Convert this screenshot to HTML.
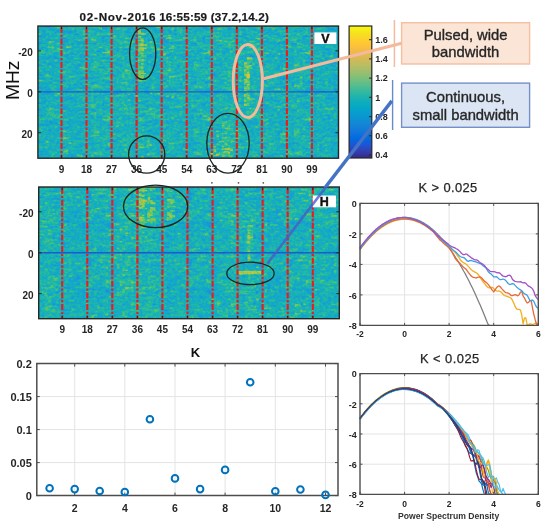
<!DOCTYPE html><html><head><meta charset="utf-8"><style>html,body{margin:0;padding:0;background:#fff;}svg{display:block;}text{font-family:"Liberation Sans",Arial,sans-serif;}</style></head><body>
<svg width="550" height="529" viewBox="0 0 550 529">
<defs>
<linearGradient id="cbar" x1="0" y1="0" x2="0" y2="1"><stop offset="0.0000" stop-color="#f9fb0e"/><stop offset="0.0476" stop-color="#f5e41d"/><stop offset="0.0952" stop-color="#fad32a"/><stop offset="0.1429" stop-color="#ffc337"/><stop offset="0.1905" stop-color="#f1b94a"/><stop offset="0.2381" stop-color="#d9ba56"/><stop offset="0.2857" stop-color="#c0bc60"/><stop offset="0.3333" stop-color="#a5be6b"/><stop offset="0.3810" stop-color="#87bf77"/><stop offset="0.4286" stop-color="#65be86"/><stop offset="0.4762" stop-color="#42bb98"/><stop offset="0.5238" stop-color="#25b5a9"/><stop offset="0.5714" stop-color="#0faeb9"/><stop offset="0.6190" stop-color="#06a7c6"/><stop offset="0.6667" stop-color="#079ccf"/><stop offset="0.7143" stop-color="#108ed2"/><stop offset="0.7619" stop-color="#1481d6"/><stop offset="0.8095" stop-color="#0d75dc"/><stop offset="0.8571" stop-color="#0268e1"/><stop offset="0.9048" stop-color="#2053d4"/><stop offset="0.9524" stop-color="#353dad"/><stop offset="1.0000" stop-color="#352a87"/><stop offset="1" stop-color="#352a87"/></linearGradient>
<filter id="specA" x="0" y="0" width="1" height="1" filterUnits="objectBoundingBox" color-interpolation-filters="sRGB">
<feTurbulence type="fractalNoise" baseFrequency="0.35 0.45" numOctaves="2" seed="11" result="n"/>
<feColorMatrix in="n" type="matrix" values="1 0 0 0 0 1 0 0 0 0 1 0 0 0 0 0 0 0 0 1" result="ng"/>
<feComposite in="SourceGraphic" in2="ng" operator="arithmetic" k1="0" k2="1" k3="0.2" k4="-0.1" result="v"/>
<feGaussianBlur in="v" stdDeviation="0.45 0.45" result="vb"/><feComponentTransfer in="vb"><feFuncR type="table" tableValues="45.000 0.176 0.175 0.173 0.172 0.170 0.169 0.167 0.165 0.164 0.162 0.161 0.159 0.158 0.154 0.149 0.143 0.137 0.131 0.126 0.120 0.114 0.108 0.103 0.097 0.092 0.086 0.081 0.080 0.082 0.084 0.086 0.099 0.116 0.132 0.170 0.220 0.270 0.336 0.417 0.498 0.568 0.622 0.675 0.729 0.782 0.814 0.845 0.876 0.907 0.939 0.970 0.980 0.980 0.980 0.980 0.980 0.980 0.980 0.980 0.980 0.980 0.980 0.980"/><feFuncG type="table" tableValues="40.000 0.158 0.177 0.195 0.214 0.233 0.251 0.270 0.289 0.307 0.326 0.345 0.363 0.382 0.400 0.417 0.433 0.450 0.467 0.484 0.500 0.517 0.534 0.551 0.569 0.586 0.603 0.620 0.637 0.652 0.668 0.683 0.698 0.713 0.728 0.741 0.752 0.763 0.770 0.772 0.775 0.775 0.773 0.770 0.767 0.765 0.768 0.771 0.774 0.777 0.780 0.783 0.791 0.802 0.813 0.824 0.835 0.846 0.857 0.868 0.879 0.889 0.900 0.911"/><feFuncB type="table" tableValues="150.000 0.589 0.610 0.630 0.650 0.670 0.690 0.711 0.731 0.751 0.771 0.792 0.812 0.832 0.845 0.850 0.855 0.860 0.864 0.869 0.874 0.879 0.880 0.871 0.862 0.853 0.844 0.835 0.818 0.795 0.772 0.749 0.715 0.677 0.640 0.594 0.545 0.495 0.448 0.405 0.361 0.325 0.303 0.281 0.259 0.236 0.223 0.211 0.199 0.186 0.174 0.161 0.153 0.147 0.140 0.134 0.128 0.122 0.115 0.109 0.103 0.097 0.091 0.084"/><feFuncA type="linear" slope="0" intercept="1"/></feComponentTransfer>
</filter>
<filter id="specB" x="0" y="0" width="1" height="1" filterUnits="objectBoundingBox" color-interpolation-filters="sRGB">
<feTurbulence type="fractalNoise" baseFrequency="0.35 0.45" numOctaves="2" seed="29" result="n"/>
<feColorMatrix in="n" type="matrix" values="1 0 0 0 0 1 0 0 0 0 1 0 0 0 0 0 0 0 0 1" result="ng"/>
<feComposite in="SourceGraphic" in2="ng" operator="arithmetic" k1="0" k2="1" k3="0.2" k4="-0.1" result="v"/>
<feGaussianBlur in="v" stdDeviation="0.45 0.45" result="vb"/><feComponentTransfer in="vb"><feFuncR type="table" tableValues="45.000 0.176 0.175 0.173 0.172 0.170 0.169 0.167 0.165 0.164 0.162 0.161 0.159 0.158 0.154 0.149 0.143 0.137 0.131 0.126 0.120 0.114 0.108 0.103 0.097 0.092 0.086 0.081 0.080 0.082 0.084 0.086 0.099 0.116 0.132 0.170 0.220 0.270 0.336 0.417 0.498 0.568 0.622 0.675 0.729 0.782 0.814 0.845 0.876 0.907 0.939 0.970 0.980 0.980 0.980 0.980 0.980 0.980 0.980 0.980 0.980 0.980 0.980 0.980"/><feFuncG type="table" tableValues="40.000 0.158 0.177 0.195 0.214 0.233 0.251 0.270 0.289 0.307 0.326 0.345 0.363 0.382 0.400 0.417 0.433 0.450 0.467 0.484 0.500 0.517 0.534 0.551 0.569 0.586 0.603 0.620 0.637 0.652 0.668 0.683 0.698 0.713 0.728 0.741 0.752 0.763 0.770 0.772 0.775 0.775 0.773 0.770 0.767 0.765 0.768 0.771 0.774 0.777 0.780 0.783 0.791 0.802 0.813 0.824 0.835 0.846 0.857 0.868 0.879 0.889 0.900 0.911"/><feFuncB type="table" tableValues="150.000 0.589 0.610 0.630 0.650 0.670 0.690 0.711 0.731 0.751 0.771 0.792 0.812 0.832 0.845 0.850 0.855 0.860 0.864 0.869 0.874 0.879 0.880 0.871 0.862 0.853 0.844 0.835 0.818 0.795 0.772 0.749 0.715 0.677 0.640 0.594 0.545 0.495 0.448 0.405 0.361 0.325 0.303 0.281 0.259 0.236 0.223 0.211 0.199 0.186 0.174 0.161 0.153 0.147 0.140 0.134 0.128 0.122 0.115 0.109 0.103 0.097 0.091 0.084"/><feFuncA type="linear" slope="0" intercept="1"/></feComponentTransfer>
</filter>
<filter id="soft" x="-20%" y="-20%" width="140%" height="140%"><feGaussianBlur stdDeviation="0.6"/></filter>
</defs>
<rect width="550" height="529" fill="#fff"/>
<clipPath id="clipspecA"><rect x="37.9" y="26.05" width="300.6" height="132.14999999999998"/></clipPath>
<defs><pattern id="patspecA" patternUnits="userSpaceOnUse" x="37.9" y="26.05" width="100.260" height="66.600">
<rect width="100.260" height="66.600" fill="#808080"/>
<path fill="#505050" d="M72.4 48.10h5.6v1.85h-5.6z"/>
<path fill="#585858" d="M36.2 7.40h2.8v1.85h-2.8zM52.9 16.65h5.6v1.85h-5.6zM94.7 38.85h2.8v1.85h-2.8zM66.8 55.50h5.6v1.85h-5.6z"/>
<path fill="#606060" d="M75.2 0.00h2.8v1.85h-2.8zM78.0 0.00h2.8v1.85h-2.8zM89.1 1.85h5.6v1.85h-5.6zM36.2 3.70h2.8v1.85h-2.8zM27.9 5.55h5.6v1.85h-5.6zM86.3 22.20h5.6v1.85h-5.6zM11.1 27.75h2.8v1.85h-2.8zM27.9 35.15h2.8v1.85h-2.8zM11.1 37.00h2.8v1.85h-2.8zM22.3 53.65h5.6v1.85h-5.6zM41.8 57.35h2.8v1.85h-2.8zM52.9 57.35h2.8v1.85h-2.8zM41.8 61.05h5.6v1.85h-5.6zM66.8 64.75h5.6v1.85h-5.6z"/>
<path fill="#686868" d="M8.4 0.00h2.8v1.85h-2.8zM64.1 0.00h2.8v1.85h-2.8zM64.1 1.85h2.8v1.85h-2.8zM66.8 1.85h2.8v1.85h-2.8zM19.5 3.70h2.8v1.85h-2.8zM22.3 3.70h2.8v1.85h-2.8zM25.1 3.70h2.8v1.85h-2.8zM30.6 3.70h2.8v1.85h-2.8zM61.3 3.70h2.8v1.85h-2.8zM89.1 3.70h2.8v1.85h-2.8zM97.5 3.70h2.8v1.85h-2.8zM33.4 5.55h2.8v1.85h-2.8zM0.0 9.25h2.8v1.85h-2.8zM2.8 9.25h5.6v1.85h-5.6zM44.6 9.25h2.8v1.85h-2.8zM64.1 9.25h5.6v1.85h-5.6zM22.3 11.10h5.6v1.85h-5.6zM64.1 11.10h2.8v1.85h-2.8zM94.7 11.10h5.6v1.85h-5.6zM27.9 12.95h2.8v1.85h-2.8zM25.1 14.80h5.6v1.85h-5.6zM44.6 14.80h2.8v1.85h-2.8zM5.6 16.65h2.8v1.85h-2.8zM30.6 16.65h5.6v1.85h-5.6zM39.0 16.65h5.6v1.85h-5.6zM22.3 18.50h2.8v1.85h-2.8zM0.0 22.20h2.8v1.85h-2.8zM2.8 22.20h2.8v1.85h-2.8zM61.3 22.20h2.8v1.85h-2.8zM52.9 24.05h2.8v1.85h-2.8zM58.5 24.05h5.6v1.85h-5.6zM78.0 24.05h2.8v1.85h-2.8zM16.7 25.90h2.8v1.85h-2.8zM27.9 27.75h2.8v1.85h-2.8zM30.6 27.75h2.8v1.85h-2.8zM39.0 27.75h5.6v1.85h-5.6zM11.1 29.60h2.8v1.85h-2.8zM13.9 29.60h5.6v1.85h-5.6zM27.9 29.60h2.8v1.85h-2.8zM44.6 29.60h5.6v1.85h-5.6zM97.5 29.60h2.8v1.85h-2.8zM2.8 31.45h2.8v1.85h-2.8zM5.6 31.45h5.6v1.85h-5.6zM16.7 31.45h2.8v1.85h-2.8zM25.1 35.15h2.8v1.85h-2.8zM8.4 37.00h2.8v1.85h-2.8zM75.2 37.00h2.8v1.85h-2.8zM39.0 38.85h2.8v1.85h-2.8zM91.9 42.55h5.6v1.85h-5.6zM97.5 42.55h2.8v1.85h-2.8zM80.8 46.25h2.8v1.85h-2.8zM0.0 48.10h5.6v1.85h-5.6zM69.6 48.10h2.8v1.85h-2.8zM52.9 49.95h2.8v1.85h-2.8zM55.7 49.95h5.6v1.85h-5.6zM44.6 51.80h2.8v1.85h-2.8zM52.9 55.50h5.6v1.85h-5.6zM0.0 61.05h5.6v1.85h-5.6zM58.5 62.90h5.6v1.85h-5.6zM94.7 62.90h5.6v1.85h-5.6zM75.2 64.75h2.8v1.85h-2.8zM78.0 64.75h5.6v1.85h-5.6zM83.6 64.75h2.8v1.85h-2.8z"/>
<path fill="#707070" d="M5.6 0.00h2.8v1.85h-2.8zM44.6 1.85h2.8v1.85h-2.8zM47.3 1.85h2.8v1.85h-2.8zM97.5 1.85h2.8v1.85h-2.8zM2.8 3.70h5.6v1.85h-5.6zM13.9 3.70h2.8v1.85h-2.8zM16.7 3.70h2.8v1.85h-2.8zM55.7 3.70h5.6v1.85h-5.6zM80.8 3.70h2.8v1.85h-2.8zM94.7 3.70h2.8v1.85h-2.8zM16.7 5.55h5.6v1.85h-5.6zM89.1 5.55h2.8v1.85h-2.8zM91.9 5.55h5.6v1.85h-5.6zM5.6 7.40h2.8v1.85h-2.8zM8.4 7.40h2.8v1.85h-2.8zM30.6 7.40h2.8v1.85h-2.8zM69.6 9.25h2.8v1.85h-2.8zM89.1 9.25h5.6v1.85h-5.6zM19.5 11.10h2.8v1.85h-2.8zM8.4 12.95h2.8v1.85h-2.8zM25.1 12.95h2.8v1.85h-2.8zM72.4 12.95h2.8v1.85h-2.8zM19.5 14.80h5.6v1.85h-5.6zM39.0 14.80h2.8v1.85h-2.8zM64.1 14.80h2.8v1.85h-2.8zM0.0 16.65h5.6v1.85h-5.6zM44.6 16.65h5.6v1.85h-5.6zM75.2 16.65h2.8v1.85h-2.8zM94.7 16.65h2.8v1.85h-2.8zM25.1 18.50h2.8v1.85h-2.8zM80.8 18.50h2.8v1.85h-2.8zM2.8 20.35h2.8v1.85h-2.8zM5.6 20.35h2.8v1.85h-2.8zM44.6 20.35h2.8v1.85h-2.8zM30.6 22.20h5.6v1.85h-5.6zM83.6 22.20h2.8v1.85h-2.8zM25.1 24.05h2.8v1.85h-2.8zM89.1 24.05h2.8v1.85h-2.8zM30.6 25.90h2.8v1.85h-2.8zM75.2 25.90h2.8v1.85h-2.8zM83.6 25.90h5.6v1.85h-5.6zM89.1 25.90h2.8v1.85h-2.8zM94.7 25.90h5.6v1.85h-5.6zM33.4 27.75h5.6v1.85h-5.6zM33.4 29.60h2.8v1.85h-2.8zM50.1 29.60h2.8v1.85h-2.8zM52.9 29.60h2.8v1.85h-2.8zM66.8 31.45h5.6v1.85h-5.6zM86.3 31.45h2.8v1.85h-2.8zM19.5 33.30h5.6v1.85h-5.6zM36.2 33.30h2.8v1.85h-2.8zM86.3 33.30h2.8v1.85h-2.8zM94.7 33.30h5.6v1.85h-5.6zM5.6 35.15h2.8v1.85h-2.8zM19.5 35.15h2.8v1.85h-2.8zM66.8 35.15h2.8v1.85h-2.8zM69.6 35.15h5.6v1.85h-5.6zM78.0 37.00h5.6v1.85h-5.6zM89.1 37.00h2.8v1.85h-2.8zM97.5 37.00h2.8v1.85h-2.8zM2.8 38.85h2.8v1.85h-2.8zM13.9 40.70h5.6v1.85h-5.6zM36.2 40.70h5.6v1.85h-5.6zM61.3 40.70h5.6v1.85h-5.6zM75.2 40.70h2.8v1.85h-2.8zM86.3 40.70h2.8v1.85h-2.8zM97.5 40.70h2.8v1.85h-2.8zM22.3 42.55h2.8v1.85h-2.8zM83.6 42.55h5.6v1.85h-5.6zM50.1 44.40h5.6v1.85h-5.6zM72.4 44.40h2.8v1.85h-2.8zM78.0 44.40h2.8v1.85h-2.8zM36.2 46.25h5.6v1.85h-5.6zM72.4 46.25h5.6v1.85h-5.6zM19.5 48.10h2.8v1.85h-2.8zM30.6 48.10h5.6v1.85h-5.6zM66.8 48.10h2.8v1.85h-2.8zM16.7 49.95h2.8v1.85h-2.8zM19.5 49.95h5.6v1.85h-5.6zM25.1 49.95h5.6v1.85h-5.6zM41.8 49.95h2.8v1.85h-2.8zM44.6 49.95h2.8v1.85h-2.8zM47.3 49.95h5.6v1.85h-5.6zM97.5 49.95h2.8v1.85h-2.8zM2.8 51.80h5.6v1.85h-5.6zM11.1 51.80h2.8v1.85h-2.8zM41.8 51.80h2.8v1.85h-2.8zM94.7 51.80h5.6v1.85h-5.6zM16.7 53.65h2.8v1.85h-2.8zM64.1 53.65h2.8v1.85h-2.8zM80.8 53.65h2.8v1.85h-2.8zM11.1 55.50h2.8v1.85h-2.8zM72.4 55.50h5.6v1.85h-5.6zM2.8 57.35h2.8v1.85h-2.8zM16.7 57.35h2.8v1.85h-2.8zM36.2 57.35h5.6v1.85h-5.6zM78.0 57.35h2.8v1.85h-2.8zM80.8 57.35h2.8v1.85h-2.8zM44.6 59.20h5.6v1.85h-5.6zM97.5 59.20h2.8v1.85h-2.8zM5.6 61.05h5.6v1.85h-5.6zM16.7 61.05h2.8v1.85h-2.8zM19.5 61.05h2.8v1.85h-2.8zM22.3 61.05h2.8v1.85h-2.8zM27.9 61.05h5.6v1.85h-5.6zM33.4 61.05h5.6v1.85h-5.6zM69.6 61.05h5.6v1.85h-5.6zM75.2 61.05h2.8v1.85h-2.8zM25.1 62.90h5.6v1.85h-5.6zM30.6 62.90h5.6v1.85h-5.6zM55.7 62.90h2.8v1.85h-2.8zM78.0 62.90h2.8v1.85h-2.8zM80.8 62.90h2.8v1.85h-2.8zM64.1 64.75h2.8v1.85h-2.8zM86.3 64.75h2.8v1.85h-2.8zM94.7 64.75h5.6v1.85h-5.6z"/>
<path fill="#787878" d="M11.1 0.00h5.6v1.85h-5.6zM83.6 0.00h5.6v1.85h-5.6zM97.5 0.00h2.8v1.85h-2.8zM11.1 1.85h5.6v1.85h-5.6zM30.6 1.85h2.8v1.85h-2.8zM50.1 1.85h2.8v1.85h-2.8zM58.5 1.85h5.6v1.85h-5.6zM69.6 1.85h2.8v1.85h-2.8zM94.7 1.85h2.8v1.85h-2.8zM27.9 3.70h2.8v1.85h-2.8zM69.6 3.70h2.8v1.85h-2.8zM75.2 3.70h5.6v1.85h-5.6zM91.9 3.70h2.8v1.85h-2.8zM5.6 5.55h2.8v1.85h-2.8zM25.1 5.55h2.8v1.85h-2.8zM47.3 5.55h5.6v1.85h-5.6zM86.3 5.55h2.8v1.85h-2.8zM97.5 5.55h2.8v1.85h-2.8zM2.8 7.40h2.8v1.85h-2.8zM13.9 7.40h5.6v1.85h-5.6zM25.1 7.40h2.8v1.85h-2.8zM33.4 7.40h2.8v1.85h-2.8zM39.0 7.40h2.8v1.85h-2.8zM55.7 7.40h2.8v1.85h-2.8zM72.4 7.40h5.6v1.85h-5.6zM78.0 7.40h2.8v1.85h-2.8zM97.5 7.40h2.8v1.85h-2.8zM39.0 9.25h5.6v1.85h-5.6zM47.3 9.25h2.8v1.85h-2.8zM86.3 9.25h2.8v1.85h-2.8zM97.5 9.25h2.8v1.85h-2.8zM36.2 11.10h2.8v1.85h-2.8zM80.8 11.10h2.8v1.85h-2.8zM11.1 12.95h2.8v1.85h-2.8zM13.9 12.95h2.8v1.85h-2.8zM16.7 12.95h2.8v1.85h-2.8zM19.5 12.95h5.6v1.85h-5.6zM58.5 12.95h2.8v1.85h-2.8zM64.1 12.95h2.8v1.85h-2.8zM75.2 12.95h2.8v1.85h-2.8zM83.6 12.95h2.8v1.85h-2.8zM89.1 12.95h5.6v1.85h-5.6zM0.0 14.80h5.6v1.85h-5.6zM16.7 14.80h2.8v1.85h-2.8zM36.2 14.80h2.8v1.85h-2.8zM47.3 14.80h2.8v1.85h-2.8zM50.1 14.80h2.8v1.85h-2.8zM58.5 14.80h2.8v1.85h-2.8zM66.8 14.80h2.8v1.85h-2.8zM75.2 14.80h2.8v1.85h-2.8zM97.5 14.80h2.8v1.85h-2.8zM27.9 16.65h2.8v1.85h-2.8zM36.2 16.65h2.8v1.85h-2.8zM78.0 16.65h2.8v1.85h-2.8zM97.5 16.65h2.8v1.85h-2.8zM0.0 18.50h2.8v1.85h-2.8zM16.7 18.50h5.6v1.85h-5.6zM27.9 18.50h2.8v1.85h-2.8zM52.9 18.50h5.6v1.85h-5.6zM39.0 20.35h2.8v1.85h-2.8zM66.8 20.35h2.8v1.85h-2.8zM25.1 22.20h5.6v1.85h-5.6zM50.1 22.20h5.6v1.85h-5.6zM75.2 22.20h2.8v1.85h-2.8zM91.9 22.20h2.8v1.85h-2.8zM27.9 24.05h2.8v1.85h-2.8zM39.0 24.05h5.6v1.85h-5.6zM44.6 24.05h2.8v1.85h-2.8zM47.3 24.05h2.8v1.85h-2.8zM64.1 24.05h2.8v1.85h-2.8zM72.4 24.05h5.6v1.85h-5.6zM97.5 24.05h2.8v1.85h-2.8zM5.6 27.75h2.8v1.85h-2.8zM8.4 27.75h2.8v1.85h-2.8zM13.9 27.75h5.6v1.85h-5.6zM47.3 27.75h2.8v1.85h-2.8zM50.1 27.75h2.8v1.85h-2.8zM75.2 27.75h2.8v1.85h-2.8zM83.6 27.75h2.8v1.85h-2.8zM2.8 29.60h2.8v1.85h-2.8zM5.6 29.60h5.6v1.85h-5.6zM30.6 29.60h2.8v1.85h-2.8zM39.0 29.60h2.8v1.85h-2.8zM41.8 29.60h2.8v1.85h-2.8zM55.7 29.60h2.8v1.85h-2.8zM69.6 29.60h5.6v1.85h-5.6zM19.5 31.45h5.6v1.85h-5.6zM30.6 31.45h2.8v1.85h-2.8zM41.8 31.45h5.6v1.85h-5.6zM61.3 31.45h5.6v1.85h-5.6zM72.4 31.45h5.6v1.85h-5.6zM78.0 31.45h5.6v1.85h-5.6zM0.0 33.30h2.8v1.85h-2.8zM27.9 33.30h2.8v1.85h-2.8zM30.6 33.30h2.8v1.85h-2.8zM47.3 33.30h5.6v1.85h-5.6zM52.9 33.30h5.6v1.85h-5.6zM58.5 33.30h2.8v1.85h-2.8zM61.3 33.30h2.8v1.85h-2.8zM78.0 33.30h2.8v1.85h-2.8zM80.8 33.30h5.6v1.85h-5.6zM13.9 35.15h5.6v1.85h-5.6zM30.6 35.15h2.8v1.85h-2.8zM41.8 35.15h5.6v1.85h-5.6zM50.1 35.15h5.6v1.85h-5.6zM61.3 35.15h2.8v1.85h-2.8zM75.2 35.15h2.8v1.85h-2.8zM83.6 35.15h2.8v1.85h-2.8zM89.1 35.15h5.6v1.85h-5.6zM94.7 35.15h2.8v1.85h-2.8zM0.0 37.00h2.8v1.85h-2.8zM16.7 37.00h2.8v1.85h-2.8zM19.5 37.00h5.6v1.85h-5.6zM25.1 37.00h2.8v1.85h-2.8zM30.6 37.00h2.8v1.85h-2.8zM41.8 37.00h2.8v1.85h-2.8zM50.1 37.00h2.8v1.85h-2.8zM83.6 37.00h2.8v1.85h-2.8zM13.9 38.85h5.6v1.85h-5.6zM41.8 38.85h2.8v1.85h-2.8zM50.1 38.85h5.6v1.85h-5.6zM75.2 38.85h5.6v1.85h-5.6zM80.8 38.85h5.6v1.85h-5.6zM91.9 38.85h2.8v1.85h-2.8zM19.5 40.70h2.8v1.85h-2.8zM44.6 40.70h5.6v1.85h-5.6zM58.5 40.70h2.8v1.85h-2.8zM19.5 42.55h2.8v1.85h-2.8zM33.4 42.55h5.6v1.85h-5.6zM5.6 44.40h2.8v1.85h-2.8zM13.9 44.40h5.6v1.85h-5.6zM5.6 46.25h2.8v1.85h-2.8zM13.9 46.25h2.8v1.85h-2.8zM19.5 46.25h2.8v1.85h-2.8zM41.8 46.25h5.6v1.85h-5.6zM50.1 46.25h5.6v1.85h-5.6zM78.0 46.25h2.8v1.85h-2.8zM94.7 46.25h2.8v1.85h-2.8zM13.9 48.10h2.8v1.85h-2.8zM52.9 48.10h2.8v1.85h-2.8zM78.0 48.10h2.8v1.85h-2.8zM86.3 48.10h2.8v1.85h-2.8zM91.9 48.10h5.6v1.85h-5.6zM97.5 48.10h2.8v1.85h-2.8zM75.2 49.95h5.6v1.85h-5.6zM83.6 49.95h2.8v1.85h-2.8zM94.7 49.95h2.8v1.85h-2.8zM47.3 51.80h2.8v1.85h-2.8zM50.1 51.80h5.6v1.85h-5.6zM80.8 51.80h2.8v1.85h-2.8zM19.5 53.65h2.8v1.85h-2.8zM36.2 53.65h5.6v1.85h-5.6zM41.8 53.65h2.8v1.85h-2.8zM47.3 53.65h5.6v1.85h-5.6zM83.6 53.65h5.6v1.85h-5.6zM94.7 53.65h2.8v1.85h-2.8zM0.0 55.50h5.6v1.85h-5.6zM5.6 55.50h2.8v1.85h-2.8zM80.8 55.50h5.6v1.85h-5.6zM89.1 55.50h2.8v1.85h-2.8zM91.9 55.50h5.6v1.85h-5.6zM0.0 57.35h2.8v1.85h-2.8zM5.6 57.35h2.8v1.85h-2.8zM8.4 57.35h2.8v1.85h-2.8zM19.5 57.35h2.8v1.85h-2.8zM91.9 57.35h5.6v1.85h-5.6zM97.5 57.35h2.8v1.85h-2.8zM2.8 59.20h2.8v1.85h-2.8zM5.6 59.20h2.8v1.85h-2.8zM19.5 59.20h5.6v1.85h-5.6zM64.1 59.20h2.8v1.85h-2.8zM75.2 59.20h2.8v1.85h-2.8zM86.3 59.20h5.6v1.85h-5.6zM39.0 61.05h2.8v1.85h-2.8zM50.1 61.05h2.8v1.85h-2.8zM66.8 61.05h2.8v1.85h-2.8zM94.7 61.05h5.6v1.85h-5.6zM2.8 62.90h5.6v1.85h-5.6zM8.4 62.90h5.6v1.85h-5.6zM36.2 62.90h2.8v1.85h-2.8zM69.6 62.90h5.6v1.85h-5.6zM75.2 62.90h2.8v1.85h-2.8zM5.6 64.75h5.6v1.85h-5.6zM39.0 64.75h2.8v1.85h-2.8zM50.1 64.75h5.6v1.85h-5.6zM61.3 64.75h2.8v1.85h-2.8zM89.1 64.75h5.6v1.85h-5.6z"/>
<path fill="#878787" d="M22.3 0.00h5.6v1.85h-5.6zM27.9 0.00h5.6v1.85h-5.6zM33.4 0.00h2.8v1.85h-2.8zM39.0 0.00h5.6v1.85h-5.6zM61.3 0.00h2.8v1.85h-2.8zM5.6 1.85h5.6v1.85h-5.6zM19.5 1.85h2.8v1.85h-2.8zM25.1 1.85h5.6v1.85h-5.6zM36.2 1.85h5.6v1.85h-5.6zM83.6 1.85h5.6v1.85h-5.6zM11.1 3.70h2.8v1.85h-2.8zM50.1 3.70h2.8v1.85h-2.8zM52.9 3.70h2.8v1.85h-2.8zM64.1 3.70h5.6v1.85h-5.6zM83.6 3.70h2.8v1.85h-2.8zM13.9 5.55h2.8v1.85h-2.8zM22.3 5.55h2.8v1.85h-2.8zM36.2 5.55h5.6v1.85h-5.6zM41.8 5.55h5.6v1.85h-5.6zM52.9 5.55h2.8v1.85h-2.8zM61.3 5.55h5.6v1.85h-5.6zM83.6 5.55h2.8v1.85h-2.8zM11.1 7.40h2.8v1.85h-2.8zM8.4 9.25h5.6v1.85h-5.6zM13.9 9.25h5.6v1.85h-5.6zM33.4 9.25h5.6v1.85h-5.6zM52.9 9.25h5.6v1.85h-5.6zM58.5 9.25h5.6v1.85h-5.6zM78.0 9.25h2.8v1.85h-2.8zM80.8 9.25h5.6v1.85h-5.6zM94.7 9.25h2.8v1.85h-2.8zM27.9 11.10h5.6v1.85h-5.6zM33.4 11.10h2.8v1.85h-2.8zM39.0 11.10h5.6v1.85h-5.6zM50.1 11.10h2.8v1.85h-2.8zM66.8 11.10h5.6v1.85h-5.6zM83.6 11.10h2.8v1.85h-2.8zM0.0 12.95h5.6v1.85h-5.6zM5.6 12.95h2.8v1.85h-2.8zM30.6 12.95h2.8v1.85h-2.8zM44.6 12.95h2.8v1.85h-2.8zM86.3 12.95h2.8v1.85h-2.8zM94.7 12.95h2.8v1.85h-2.8zM5.6 14.80h2.8v1.85h-2.8zM8.4 14.80h2.8v1.85h-2.8zM52.9 14.80h2.8v1.85h-2.8zM55.7 14.80h2.8v1.85h-2.8zM80.8 14.80h5.6v1.85h-5.6zM89.1 14.80h2.8v1.85h-2.8zM83.6 16.65h5.6v1.85h-5.6zM89.1 16.65h5.6v1.85h-5.6zM8.4 18.50h2.8v1.85h-2.8zM30.6 18.50h2.8v1.85h-2.8zM50.1 18.50h2.8v1.85h-2.8zM69.6 18.50h5.6v1.85h-5.6zM91.9 18.50h2.8v1.85h-2.8zM33.4 20.35h5.6v1.85h-5.6zM41.8 20.35h2.8v1.85h-2.8zM69.6 20.35h2.8v1.85h-2.8zM36.2 22.20h2.8v1.85h-2.8zM39.0 22.20h2.8v1.85h-2.8zM47.3 22.20h2.8v1.85h-2.8zM55.7 22.20h5.6v1.85h-5.6zM64.1 22.20h2.8v1.85h-2.8zM72.4 22.20h2.8v1.85h-2.8zM2.8 24.05h5.6v1.85h-5.6zM8.4 24.05h2.8v1.85h-2.8zM19.5 24.05h5.6v1.85h-5.6zM55.7 24.05h2.8v1.85h-2.8zM80.8 24.05h2.8v1.85h-2.8zM91.9 24.05h2.8v1.85h-2.8zM94.7 24.05h2.8v1.85h-2.8zM22.3 25.90h2.8v1.85h-2.8zM36.2 25.90h2.8v1.85h-2.8zM39.0 25.90h5.6v1.85h-5.6zM47.3 25.90h2.8v1.85h-2.8zM61.3 25.90h2.8v1.85h-2.8zM78.0 25.90h5.6v1.85h-5.6zM2.8 27.75h2.8v1.85h-2.8zM19.5 27.75h2.8v1.85h-2.8zM25.1 27.75h2.8v1.85h-2.8zM80.8 27.75h2.8v1.85h-2.8zM22.3 29.60h2.8v1.85h-2.8zM58.5 29.60h5.6v1.85h-5.6zM75.2 29.60h5.6v1.85h-5.6zM80.8 29.60h2.8v1.85h-2.8zM27.9 31.45h2.8v1.85h-2.8zM50.1 31.45h2.8v1.85h-2.8zM55.7 31.45h2.8v1.85h-2.8zM58.5 31.45h2.8v1.85h-2.8zM94.7 31.45h2.8v1.85h-2.8zM2.8 33.30h2.8v1.85h-2.8zM5.6 33.30h2.8v1.85h-2.8zM66.8 33.30h2.8v1.85h-2.8zM72.4 33.30h5.6v1.85h-5.6zM11.1 35.15h2.8v1.85h-2.8zM33.4 35.15h2.8v1.85h-2.8zM36.2 35.15h5.6v1.85h-5.6zM47.3 35.15h2.8v1.85h-2.8zM5.6 37.00h2.8v1.85h-2.8zM44.6 37.00h5.6v1.85h-5.6zM52.9 37.00h2.8v1.85h-2.8zM0.0 38.85h2.8v1.85h-2.8zM27.9 38.85h5.6v1.85h-5.6zM33.4 38.85h5.6v1.85h-5.6zM44.6 38.85h2.8v1.85h-2.8zM61.3 38.85h5.6v1.85h-5.6zM66.8 38.85h5.6v1.85h-5.6zM2.8 40.70h2.8v1.85h-2.8zM22.3 40.70h5.6v1.85h-5.6zM27.9 40.70h2.8v1.85h-2.8zM33.4 40.70h2.8v1.85h-2.8zM69.6 40.70h5.6v1.85h-5.6zM80.8 40.70h5.6v1.85h-5.6zM89.1 40.70h2.8v1.85h-2.8zM2.8 42.55h2.8v1.85h-2.8zM5.6 42.55h5.6v1.85h-5.6zM11.1 42.55h2.8v1.85h-2.8zM13.9 42.55h5.6v1.85h-5.6zM25.1 42.55h2.8v1.85h-2.8zM27.9 42.55h5.6v1.85h-5.6zM61.3 42.55h2.8v1.85h-2.8zM80.8 42.55h2.8v1.85h-2.8zM44.6 44.40h5.6v1.85h-5.6zM55.7 44.40h5.6v1.85h-5.6zM75.2 44.40h2.8v1.85h-2.8zM91.9 44.40h2.8v1.85h-2.8zM16.7 46.25h2.8v1.85h-2.8zM27.9 46.25h2.8v1.85h-2.8zM30.6 46.25h2.8v1.85h-2.8zM33.4 46.25h2.8v1.85h-2.8zM61.3 46.25h2.8v1.85h-2.8zM69.6 46.25h2.8v1.85h-2.8zM83.6 46.25h2.8v1.85h-2.8zM5.6 48.10h2.8v1.85h-2.8zM25.1 48.10h5.6v1.85h-5.6zM55.7 48.10h2.8v1.85h-2.8zM61.3 48.10h5.6v1.85h-5.6zM89.1 48.10h2.8v1.85h-2.8zM0.0 49.95h5.6v1.85h-5.6zM13.9 49.95h2.8v1.85h-2.8zM64.1 49.95h2.8v1.85h-2.8zM66.8 49.95h2.8v1.85h-2.8zM72.4 49.95h2.8v1.85h-2.8zM80.8 49.95h2.8v1.85h-2.8zM86.3 49.95h5.6v1.85h-5.6zM0.0 51.80h2.8v1.85h-2.8zM8.4 51.80h2.8v1.85h-2.8zM13.9 51.80h2.8v1.85h-2.8zM39.0 51.80h2.8v1.85h-2.8zM55.7 51.80h5.6v1.85h-5.6zM61.3 51.80h5.6v1.85h-5.6zM78.0 51.80h2.8v1.85h-2.8zM83.6 51.80h2.8v1.85h-2.8zM11.1 53.65h5.6v1.85h-5.6zM27.9 53.65h2.8v1.85h-2.8zM30.6 53.65h5.6v1.85h-5.6zM52.9 53.65h2.8v1.85h-2.8zM61.3 53.65h2.8v1.85h-2.8zM13.9 55.50h2.8v1.85h-2.8zM16.7 55.50h2.8v1.85h-2.8zM39.0 55.50h2.8v1.85h-2.8zM50.1 55.50h2.8v1.85h-2.8zM58.5 55.50h5.6v1.85h-5.6zM97.5 55.50h2.8v1.85h-2.8zM11.1 57.35h5.6v1.85h-5.6zM55.7 57.35h2.8v1.85h-2.8zM58.5 57.35h5.6v1.85h-5.6zM64.1 57.35h5.6v1.85h-5.6zM69.6 57.35h2.8v1.85h-2.8zM72.4 57.35h5.6v1.85h-5.6zM0.0 59.20h2.8v1.85h-2.8zM16.7 59.20h2.8v1.85h-2.8zM39.0 59.20h5.6v1.85h-5.6zM50.1 59.20h2.8v1.85h-2.8zM52.9 59.20h2.8v1.85h-2.8zM72.4 59.20h2.8v1.85h-2.8zM78.0 59.20h5.6v1.85h-5.6zM25.1 61.05h2.8v1.85h-2.8zM52.9 61.05h5.6v1.85h-5.6zM78.0 61.05h2.8v1.85h-2.8zM83.6 61.05h2.8v1.85h-2.8zM86.3 61.05h2.8v1.85h-2.8zM91.9 61.05h2.8v1.85h-2.8zM16.7 62.90h2.8v1.85h-2.8zM44.6 62.90h2.8v1.85h-2.8zM47.3 62.90h5.6v1.85h-5.6zM52.9 62.90h2.8v1.85h-2.8zM83.6 62.90h2.8v1.85h-2.8zM86.3 62.90h2.8v1.85h-2.8zM2.8 64.75h2.8v1.85h-2.8zM25.1 64.75h5.6v1.85h-5.6zM55.7 64.75h5.6v1.85h-5.6z"/>
<path fill="#8f8f8f" d="M50.1 0.00h5.6v1.85h-5.6zM55.7 0.00h5.6v1.85h-5.6zM94.7 0.00h2.8v1.85h-2.8zM39.0 3.70h5.6v1.85h-5.6zM72.4 3.70h2.8v1.85h-2.8zM0.0 5.55h2.8v1.85h-2.8zM8.4 5.55h5.6v1.85h-5.6zM69.6 5.55h2.8v1.85h-2.8zM44.6 7.40h2.8v1.85h-2.8zM50.1 7.40h2.8v1.85h-2.8zM61.3 7.40h2.8v1.85h-2.8zM64.1 7.40h5.6v1.85h-5.6zM27.9 9.25h2.8v1.85h-2.8zM0.0 11.10h2.8v1.85h-2.8zM52.9 11.10h5.6v1.85h-5.6zM72.4 11.10h2.8v1.85h-2.8zM86.3 11.10h5.6v1.85h-5.6zM91.9 11.10h2.8v1.85h-2.8zM36.2 12.95h2.8v1.85h-2.8zM78.0 12.95h2.8v1.85h-2.8zM8.4 16.65h2.8v1.85h-2.8zM11.1 16.65h2.8v1.85h-2.8zM80.8 16.65h2.8v1.85h-2.8zM2.8 18.50h5.6v1.85h-5.6zM11.1 18.50h5.6v1.85h-5.6zM41.8 18.50h2.8v1.85h-2.8zM89.1 18.50h2.8v1.85h-2.8zM0.0 20.35h2.8v1.85h-2.8zM22.3 20.35h5.6v1.85h-5.6zM52.9 20.35h5.6v1.85h-5.6zM58.5 20.35h2.8v1.85h-2.8zM89.1 20.35h2.8v1.85h-2.8zM91.9 20.35h2.8v1.85h-2.8zM66.8 22.20h5.6v1.85h-5.6zM94.7 22.20h2.8v1.85h-2.8zM11.1 24.05h2.8v1.85h-2.8zM16.7 24.05h2.8v1.85h-2.8zM30.6 24.05h5.6v1.85h-5.6zM5.6 25.90h2.8v1.85h-2.8zM44.6 25.90h2.8v1.85h-2.8zM0.0 27.75h2.8v1.85h-2.8zM52.9 27.75h5.6v1.85h-5.6zM69.6 27.75h5.6v1.85h-5.6zM78.0 27.75h2.8v1.85h-2.8zM36.2 29.60h2.8v1.85h-2.8zM91.9 29.60h2.8v1.85h-2.8zM25.1 31.45h2.8v1.85h-2.8zM11.1 33.30h2.8v1.85h-2.8zM25.1 33.30h2.8v1.85h-2.8zM39.0 33.30h2.8v1.85h-2.8zM55.7 35.15h5.6v1.85h-5.6zM64.1 35.15h2.8v1.85h-2.8zM27.9 37.00h2.8v1.85h-2.8zM66.8 37.00h2.8v1.85h-2.8zM69.6 37.00h5.6v1.85h-5.6zM47.3 38.85h2.8v1.85h-2.8zM86.3 38.85h2.8v1.85h-2.8zM97.5 38.85h2.8v1.85h-2.8zM41.8 40.70h2.8v1.85h-2.8zM78.0 40.70h2.8v1.85h-2.8zM91.9 40.70h5.6v1.85h-5.6zM41.8 42.55h5.6v1.85h-5.6zM47.3 42.55h2.8v1.85h-2.8zM52.9 42.55h2.8v1.85h-2.8zM55.7 42.55h5.6v1.85h-5.6zM69.6 42.55h5.6v1.85h-5.6zM0.0 44.40h5.6v1.85h-5.6zM25.1 44.40h5.6v1.85h-5.6zM61.3 44.40h2.8v1.85h-2.8zM66.8 44.40h5.6v1.85h-5.6zM86.3 44.40h5.6v1.85h-5.6zM94.7 44.40h5.6v1.85h-5.6zM86.3 46.25h5.6v1.85h-5.6zM91.9 46.25h2.8v1.85h-2.8zM97.5 46.25h2.8v1.85h-2.8zM22.3 48.10h2.8v1.85h-2.8zM36.2 48.10h5.6v1.85h-5.6zM44.6 48.10h5.6v1.85h-5.6zM50.1 48.10h2.8v1.85h-2.8zM58.5 48.10h2.8v1.85h-2.8zM80.8 48.10h5.6v1.85h-5.6zM5.6 49.95h5.6v1.85h-5.6zM11.1 49.95h2.8v1.85h-2.8zM36.2 49.95h2.8v1.85h-2.8zM25.1 51.80h2.8v1.85h-2.8zM66.8 53.65h2.8v1.85h-2.8zM30.6 55.50h2.8v1.85h-2.8zM33.4 55.50h5.6v1.85h-5.6zM44.6 55.50h2.8v1.85h-2.8zM78.0 55.50h2.8v1.85h-2.8zM22.3 57.35h5.6v1.85h-5.6zM47.3 57.35h5.6v1.85h-5.6zM86.3 57.35h5.6v1.85h-5.6zM11.1 59.20h5.6v1.85h-5.6zM66.8 59.20h5.6v1.85h-5.6zM11.1 61.05h2.8v1.85h-2.8zM58.5 61.05h2.8v1.85h-2.8zM13.9 62.90h2.8v1.85h-2.8zM89.1 62.90h2.8v1.85h-2.8zM91.9 62.90h2.8v1.85h-2.8zM0.0 64.75h2.8v1.85h-2.8zM11.1 64.75h2.8v1.85h-2.8zM16.7 64.75h2.8v1.85h-2.8zM33.4 64.75h5.6v1.85h-5.6zM41.8 64.75h2.8v1.85h-2.8z"/>
<path fill="#979797" d="M44.6 0.00h5.6v1.85h-5.6zM69.6 0.00h5.6v1.85h-5.6zM78.0 1.85h5.6v1.85h-5.6zM44.6 3.70h5.6v1.85h-5.6zM66.8 5.55h2.8v1.85h-2.8zM19.5 7.40h2.8v1.85h-2.8zM41.8 7.40h2.8v1.85h-2.8zM69.6 7.40h2.8v1.85h-2.8zM25.1 9.25h2.8v1.85h-2.8zM72.4 9.25h5.6v1.85h-5.6zM16.7 11.10h2.8v1.85h-2.8zM44.6 11.10h2.8v1.85h-2.8zM47.3 11.10h2.8v1.85h-2.8zM41.8 12.95h2.8v1.85h-2.8zM91.9 14.80h5.6v1.85h-5.6zM16.7 16.65h5.6v1.85h-5.6zM58.5 16.65h5.6v1.85h-5.6zM64.1 18.50h5.6v1.85h-5.6zM13.9 20.35h2.8v1.85h-2.8zM47.3 20.35h2.8v1.85h-2.8zM86.3 20.35h2.8v1.85h-2.8zM13.9 22.20h5.6v1.85h-5.6zM13.9 24.05h2.8v1.85h-2.8zM0.0 25.90h5.6v1.85h-5.6zM8.4 25.90h5.6v1.85h-5.6zM25.1 25.90h2.8v1.85h-2.8zM36.2 31.45h2.8v1.85h-2.8zM47.3 31.45h2.8v1.85h-2.8zM83.6 31.45h2.8v1.85h-2.8zM64.1 33.30h2.8v1.85h-2.8zM0.0 35.15h2.8v1.85h-2.8zM8.4 35.15h2.8v1.85h-2.8zM97.5 35.15h2.8v1.85h-2.8zM2.8 37.00h2.8v1.85h-2.8zM55.7 37.00h5.6v1.85h-5.6zM0.0 40.70h2.8v1.85h-2.8zM0.0 42.55h2.8v1.85h-2.8zM64.1 42.55h2.8v1.85h-2.8zM19.5 44.40h2.8v1.85h-2.8zM22.3 46.25h5.6v1.85h-5.6zM64.1 46.25h5.6v1.85h-5.6zM66.8 51.80h5.6v1.85h-5.6zM86.3 51.80h2.8v1.85h-2.8zM5.6 53.65h5.6v1.85h-5.6zM47.3 55.50h2.8v1.85h-2.8zM86.3 55.50h2.8v1.85h-2.8zM25.1 59.20h2.8v1.85h-2.8zM27.9 59.20h2.8v1.85h-2.8zM61.3 59.20h2.8v1.85h-2.8zM13.9 61.05h2.8v1.85h-2.8zM61.3 61.05h5.6v1.85h-5.6zM89.1 61.05h2.8v1.85h-2.8zM39.0 62.90h5.6v1.85h-5.6zM30.6 64.75h2.8v1.85h-2.8zM44.6 64.75h2.8v1.85h-2.8z"/>
<path fill="#9f9f9f" d="M16.7 0.00h5.6v1.85h-5.6zM33.4 1.85h2.8v1.85h-2.8zM0.0 7.40h2.8v1.85h-2.8zM58.5 7.40h2.8v1.85h-2.8zM39.0 12.95h2.8v1.85h-2.8zM52.9 12.95h5.6v1.85h-5.6zM13.9 14.80h2.8v1.85h-2.8zM47.3 18.50h2.8v1.85h-2.8zM61.3 20.35h2.8v1.85h-2.8zM19.5 22.20h5.6v1.85h-5.6zM0.0 24.05h2.8v1.85h-2.8zM27.9 25.90h2.8v1.85h-2.8zM64.1 25.90h2.8v1.85h-2.8zM16.7 33.30h2.8v1.85h-2.8zM55.7 38.85h5.6v1.85h-5.6zM55.7 40.70h2.8v1.85h-2.8zM41.8 48.10h2.8v1.85h-2.8zM69.6 49.95h2.8v1.85h-2.8zM13.9 64.75h2.8v1.85h-2.8z"/>
<path fill="#a7a7a7" d="M86.3 14.80h2.8v1.85h-2.8zM8.4 20.35h5.6v1.85h-5.6zM69.6 24.05h2.8v1.85h-2.8zM30.6 49.95h5.6v1.85h-5.6zM0.0 53.65h5.6v1.85h-5.6zM55.7 59.20h5.6v1.85h-5.6zM47.3 64.75h2.8v1.85h-2.8z"/>
<path fill="#afafaf" d="M11.1 14.80h2.8v1.85h-2.8zM66.8 25.90h5.6v1.85h-5.6z"/>
<path fill="#b7b7b7" d="M8.4 48.10h2.8v1.85h-2.8z"/>
</pattern></defs>
<g clip-path="url(#clipspecA)"><g filter="url(#specA)">
<rect x="37.9" y="26.05" width="300.6" height="132.14999999999998" fill="#808080"/>
<path fill="#6e6e6e" d="M308.05 26.05h2.78v132.15h-2.78z"/>
<path fill="#727272" d="M146.52 26.05h2.78v132.15h-2.78zM280.19 26.05h2.79v132.15h-2.79zM305.26 26.05h2.79v132.15h-2.79z"/>
<path fill="#747474" d="M37.90 26.05h2.79v132.15h-2.79zM49.04 26.05h2.79v132.15h-2.79zM277.41 26.05h2.79v132.15h-2.79zM330.32 26.05h2.79v132.15h-2.79z"/>
<path fill="#767676" d="M46.25 26.05h2.79v132.15h-2.79zM51.83 26.05h2.78v132.15h-2.78zM76.89 26.05h2.78v132.15h-2.78zM205.00 26.05h2.79v132.15h-2.79zM207.79 26.05h2.78v132.15h-2.78zM327.54 26.05h2.78v132.15h-2.78z"/>
<path fill="#787878" d="M40.69 26.05h2.78v132.15h-2.78zM188.29 26.05h2.79v132.15h-2.79zM249.56 26.05h2.79v132.15h-2.79zM333.11 26.05h2.79v132.15h-2.79z"/>
<path fill="#7a7a7a" d="M43.47 26.05h2.78v132.15h-2.78zM71.32 26.05h2.78v132.15h-2.78zM74.10 26.05h2.79v132.15h-2.79zM79.68 26.05h2.78v132.15h-2.78zM143.73 26.05h2.79v132.15h-2.79zM185.51 26.05h2.78v132.15h-2.78zM196.65 26.05h2.78v132.15h-2.78zM310.83 26.05h2.79v132.15h-2.79z"/>
<path fill="#7c7c7c" d="M68.53 26.05h2.79v132.15h-2.79zM101.96 26.05h2.78v132.15h-2.78zM104.74 26.05h2.79v132.15h-2.79zM149.30 26.05h2.79v132.15h-2.79zM193.86 26.05h2.79v132.15h-2.79zM199.43 26.05h2.79v132.15h-2.79zM202.22 26.05h2.78v132.15h-2.78zM243.99 26.05h2.79v132.15h-2.79zM282.98 26.05h2.79v132.15h-2.79zM291.33 26.05h2.79v132.15h-2.79zM324.75 26.05h2.79v132.15h-2.79z"/>
<path fill="#7e7e7e" d="M65.75 26.05h2.78v132.15h-2.78zM96.38 26.05h2.79v132.15h-2.79zM99.17 26.05h2.78v132.15h-2.78zM152.09 26.05h2.78v132.15h-2.78zM154.87 26.05h2.79v132.15h-2.79zM191.08 26.05h2.78v132.15h-2.78zM241.21 26.05h2.78v132.15h-2.78zM246.78 26.05h2.78v132.15h-2.78zM252.35 26.05h2.78v132.15h-2.78zM263.49 26.05h2.78v132.15h-2.78zM321.97 26.05h2.78v132.15h-2.78z"/>
<path fill="#808080" d="M54.61 26.05h2.78v132.15h-2.78zM62.97 26.05h2.78v132.15h-2.78zM82.46 26.05h2.79v132.15h-2.79zM135.38 26.05h2.78v132.15h-2.78zM177.15 26.05h2.79v132.15h-2.79zM210.57 26.05h2.79v132.15h-2.79zM260.70 26.05h2.79v132.15h-2.79zM274.62 26.05h2.79v132.15h-2.79zM288.55 26.05h2.79v132.15h-2.79zM294.12 26.05h2.79v132.15h-2.79zM302.47 26.05h2.79v132.15h-2.79z"/>
<path fill="#818181" d="M85.25 26.05h2.78v132.15h-2.78zM107.53 26.05h2.78v132.15h-2.78zM132.59 26.05h2.79v132.15h-2.79zM157.66 26.05h2.78v132.15h-2.78zM163.22 26.05h2.79v132.15h-2.79zM166.01 26.05h2.79v132.15h-2.79zM174.37 26.05h2.78v132.15h-2.78zM182.72 26.05h2.78v132.15h-2.78zM216.14 26.05h2.79v132.15h-2.79zM319.19 26.05h2.78v132.15h-2.78z"/>
<path fill="#838383" d="M60.18 26.05h2.79v132.15h-2.79zM88.03 26.05h2.78v132.15h-2.78zM93.60 26.05h2.78v132.15h-2.78zM160.44 26.05h2.78v132.15h-2.78zM179.94 26.05h2.78v132.15h-2.78zM285.76 26.05h2.79v132.15h-2.79zM296.90 26.05h2.79v132.15h-2.79zM299.69 26.05h2.79v132.15h-2.79zM313.62 26.05h2.78v132.15h-2.78zM335.89 26.05h2.79v132.15h-2.79z"/>
<path fill="#858585" d="M115.88 26.05h2.78v132.15h-2.78zM124.24 26.05h2.78v132.15h-2.78zM127.02 26.05h2.79v132.15h-2.79zM213.36 26.05h2.78v132.15h-2.78zM218.93 26.05h2.78v132.15h-2.78zM221.71 26.05h2.79v132.15h-2.79zM224.50 26.05h2.78v132.15h-2.78zM271.84 26.05h2.78v132.15h-2.78zM316.40 26.05h2.79v132.15h-2.79z"/>
<path fill="#878787" d="M57.39 26.05h2.79v132.15h-2.79zM138.16 26.05h2.78v132.15h-2.78zM255.13 26.05h2.79v132.15h-2.79zM266.27 26.05h2.79v132.15h-2.79z"/>
<path fill="#898989" d="M90.81 26.05h2.79v132.15h-2.79zM110.31 26.05h2.78v132.15h-2.78zM113.09 26.05h2.79v132.15h-2.79zM168.80 26.05h2.78v132.15h-2.78zM257.92 26.05h2.78v132.15h-2.78zM269.06 26.05h2.78v132.15h-2.78z"/>
<path fill="#8b8b8b" d="M118.66 26.05h2.79v132.15h-2.79zM129.81 26.05h2.78v132.15h-2.78zM140.94 26.05h2.79v132.15h-2.79zM171.58 26.05h2.79v132.15h-2.79zM238.42 26.05h2.79v132.15h-2.79z"/>
<path fill="#8d8d8d" d="M227.28 26.05h2.78v132.15h-2.78z"/>
<path fill="#8f8f8f" d="M121.45 26.05h2.79v132.15h-2.79zM232.85 26.05h2.79v132.15h-2.79zM235.64 26.05h2.78v132.15h-2.78z"/>
<path fill="#919191" d="M230.07 26.05h2.78v132.15h-2.78z"/>
<rect x="37.9" y="26.05" width="300.6" height="132.14999999999998" fill="url(#patspecA)" opacity="0.7"/>
<path fill="#858585" d="M76.9 54.0h2.8v1.6h-2.8zM135.4 143.6h2.8v1.7h-2.8zM166.0 31.6h2.8v2.2h-2.8z"/>
<path fill="#8a8a8a" d="M43.5 65.9h2.8v1.8h-2.8zM43.5 75.2h2.8v2.3h-2.8zM46.3 53.3h5.6v2.3h-5.6zM68.5 62.8h2.8v2.2h-2.8zM79.7 147.4h2.8v1.9h-2.8zM82.5 74.0h2.8v1.5h-2.8zM88.0 85.3h5.6v1.6h-5.6zM102.0 92.8h2.8v2.3h-2.8zM110.3 37.5h2.8v1.2h-2.8zM113.1 58.8h2.8v1.5h-2.8zM118.7 46.8h2.8v1.3h-2.8zM127.0 75.3h2.8v1.5h-2.8zM135.4 93.0h2.8v2.1h-2.8zM138.2 142.4h5.6v2.3h-5.6zM143.7 98.5h2.8v2.4h-2.8zM146.5 123.6h5.6v1.4h-5.6zM149.3 152.2h5.6v2.3h-5.6zM171.6 64.5h2.8v1.2h-2.8zM179.9 153.1h2.8v2.4h-2.8zM188.3 76.5h2.8v2.3h-2.8zM188.3 90.2h5.6v2.0h-5.6zM191.1 69.7h2.8v1.3h-2.8zM213.4 79.9h2.8v2.5h-2.8zM218.9 103.4h2.8v1.6h-2.8zM218.9 143.6h2.8v1.4h-2.8zM221.7 42.5h2.8v1.2h-2.8zM221.7 46.0h5.6v1.2h-5.6zM224.5 155.7h2.8v1.3h-2.8zM230.1 33.7h2.8v1.5h-2.8zM238.4 43.1h2.8v2.3h-2.8zM255.1 31.8h2.8v2.5h-2.8zM255.1 54.5h2.8v1.5h-2.8zM280.2 87.4h2.8v2.4h-2.8zM280.2 148.9h2.8v1.6h-2.8zM285.8 120.5h5.6v2.3h-5.6zM291.3 66.8h2.8v1.5h-2.8zM294.1 71.6h2.8v1.5h-2.8zM296.9 45.7h2.8v1.2h-2.8zM305.3 26.4h2.8v2.4h-2.8zM313.6 78.8h2.8v1.9h-2.8zM319.2 97.0h2.8v2.3h-2.8zM322.0 93.1h2.8v1.5h-2.8z"/>
<path fill="#8f8f8f" d="M37.9 113.0h2.8v1.5h-2.8zM40.7 50.1h2.8v1.5h-2.8zM49.0 65.8h2.8v2.4h-2.8zM54.6 50.4h2.8v1.3h-2.8zM54.6 151.5h2.8v1.6h-2.8zM68.5 34.5h2.8v1.4h-2.8zM68.5 41.5h2.8v2.0h-2.8zM71.3 54.8h2.8v1.5h-2.8zM82.5 68.4h5.6v1.7h-5.6zM85.2 41.8h2.8v1.4h-2.8zM85.2 151.2h2.8v2.1h-2.8zM88.0 49.4h2.8v1.8h-2.8zM107.5 67.4h2.8v2.2h-2.8zM113.1 55.0h2.8v2.5h-2.8zM115.9 39.8h2.8v1.4h-2.8zM127.0 91.7h5.6v1.4h-5.6zM127.0 134.4h2.8v2.3h-2.8zM143.7 109.9h5.6v2.2h-5.6zM146.5 138.3h2.8v1.8h-2.8zM168.8 68.2h5.6v1.5h-5.6zM174.4 78.7h2.8v2.1h-2.8zM177.2 113.0h5.6v1.7h-5.6zM179.9 78.1h2.8v2.5h-2.8zM202.2 141.4h2.8v1.7h-2.8zM205.0 126.9h5.6v1.5h-5.6zM207.8 126.4h2.8v1.3h-2.8zM213.4 32.0h5.6v2.3h-5.6zM218.9 97.1h2.8v2.3h-2.8zM221.7 87.9h5.6v1.3h-5.6zM232.9 88.2h2.8v2.4h-2.8zM241.2 147.6h2.8v1.7h-2.8zM255.1 153.9h2.8v2.1h-2.8zM274.6 39.8h5.6v2.0h-5.6zM274.6 71.6h5.6v2.3h-5.6zM280.2 47.8h2.8v2.3h-2.8z"/>
<path fill="#959595" d="M46.3 109.5h2.8v1.6h-2.8zM49.0 113.5h5.6v1.8h-5.6zM63.0 149.6h5.6v2.2h-5.6zM76.9 154.3h5.6v2.4h-5.6zM79.7 67.0h5.6v2.3h-5.6zM93.6 54.2h2.8v2.0h-2.8zM93.6 112.0h2.8v2.1h-2.8zM99.2 27.3h2.8v2.5h-2.8zM113.1 36.1h2.8v1.5h-2.8zM113.1 133.8h2.8v1.2h-2.8zM118.7 40.4h2.8v1.3h-2.8zM121.5 75.2h2.8v2.0h-2.8zM124.2 149.3h2.8v2.2h-2.8zM127.0 113.2h2.8v1.6h-2.8zM132.6 73.0h2.8v1.6h-2.8zM160.4 151.3h5.6v1.9h-5.6zM166.0 61.1h2.8v2.2h-2.8zM166.0 95.0h2.8v2.0h-2.8zM171.6 44.8h2.8v2.3h-2.8zM202.2 115.1h5.6v2.3h-5.6zM207.8 83.7h2.8v2.2h-2.8zM216.1 36.8h2.8v2.2h-2.8zM216.1 39.7h5.6v1.5h-5.6zM216.1 130.2h2.8v1.7h-2.8zM244.0 103.6h2.8v1.5h-2.8zM249.6 98.1h5.6v1.8h-5.6zM252.3 43.2h5.6v2.2h-5.6zM257.9 38.0h2.8v2.4h-2.8zM257.9 65.7h2.8v1.6h-2.8zM257.9 124.6h2.8v1.5h-2.8zM266.3 122.6h2.8v1.8h-2.8zM274.6 88.3h5.6v1.7h-5.6zM277.4 53.1h2.8v2.0h-2.8zM277.4 108.6h2.8v2.2h-2.8zM285.8 45.9h5.6v1.5h-5.6zM299.7 83.1h2.8v1.3h-2.8zM305.3 28.1h2.8v1.6h-2.8zM308.0 146.9h2.8v1.5h-2.8zM310.8 127.9h2.8v2.1h-2.8zM319.2 153.7h2.8v1.6h-2.8zM324.8 116.0h2.8v1.4h-2.8zM327.5 107.9h5.6v2.1h-5.6zM330.3 55.1h2.8v2.4h-2.8zM330.3 119.3h2.8v1.5h-2.8z"/>
<path fill="#9a9a9a" d="M54.6 95.0h2.8v1.6h-2.8zM63.0 110.2h2.8v1.4h-2.8zM63.0 130.2h2.8v1.9h-2.8zM63.0 137.0h5.6v2.0h-5.6zM65.8 45.7h5.6v2.3h-5.6zM93.6 134.9h5.6v1.2h-5.6zM104.7 118.7h2.8v1.4h-2.8zM115.9 124.4h2.8v2.4h-2.8zM135.4 87.3h2.8v2.5h-2.8zM135.4 95.1h2.8v1.9h-2.8zM135.4 157.0h2.8v2.6h-2.8zM140.9 156.3h2.8v2.2h-2.8zM143.7 43.9h2.8v2.1h-2.8zM149.3 91.7h2.8v2.6h-2.8zM168.8 35.1h2.8v1.4h-2.8zM168.8 47.8h5.6v1.4h-5.6zM171.6 95.6h2.8v2.5h-2.8zM179.9 60.9h5.6v1.6h-5.6zM185.5 49.5h5.6v1.3h-5.6zM202.2 44.9h2.8v1.3h-2.8zM213.4 57.2h2.8v2.3h-2.8zM230.1 51.1h2.8v1.3h-2.8zM230.1 140.9h5.6v1.5h-5.6zM244.0 80.8h2.8v1.9h-2.8zM244.0 120.0h2.8v1.4h-2.8zM252.3 63.3h2.8v2.1h-2.8zM263.5 38.9h2.8v1.3h-2.8zM283.0 67.8h2.8v2.0h-2.8zM299.7 76.2h2.8v2.0h-2.8zM308.0 93.8h5.6v1.5h-5.6z"/>
<path fill="#8f8f8f" d="M138.2 72.8h2.8v2.0h-2.8zM138.2 75.3h2.8v2.2h-2.8zM140.9 32.7h2.8v2.2h-2.8zM140.9 65.5h2.8v1.8h-2.8z"/>
<path fill="#959595" d="M138.2 32.6h2.8v1.5h-2.8zM138.2 39.7h5.6v1.8h-5.6zM138.2 65.8h5.6v1.9h-5.6zM138.2 66.9h2.8v2.4h-2.8zM138.2 71.5h2.8v2.4h-2.8zM138.2 73.3h2.8v1.6h-2.8zM138.2 74.7h5.6v2.2h-5.6zM138.2 76.1h2.8v2.2h-2.8zM140.9 49.8h2.8v1.3h-2.8zM140.9 60.8h2.8v1.5h-2.8z"/>
<path fill="#9a9a9a" d="M138.2 37.0h2.8v1.9h-2.8zM138.2 56.7h2.8v1.9h-2.8zM138.2 73.6h2.8v1.8h-2.8zM140.9 55.1h5.6v2.4h-5.6zM140.9 59.6h5.6v1.6h-5.6zM140.9 76.1h2.8v2.3h-2.8z"/>
<path fill="#9f9f9f" d="M138.2 28.3h2.8v2.1h-2.8zM138.2 36.0h2.8v2.2h-2.8zM138.2 37.2h2.8v1.7h-2.8zM138.2 42.7h2.8v1.7h-2.8zM138.2 59.1h2.8v2.0h-2.8zM138.2 72.5h2.8v2.1h-2.8zM138.2 75.7h5.6v2.3h-5.6zM140.9 41.4h2.8v2.5h-2.8zM140.9 46.7h2.8v2.2h-2.8zM140.9 47.8h2.8v1.9h-2.8zM140.9 66.6h2.8v2.6h-2.8zM140.9 75.3h2.8v1.3h-2.8z"/>
<path fill="#a5a5a5" d="M138.2 30.3h2.8v1.5h-2.8zM138.2 31.8h2.8v1.3h-2.8zM138.2 47.1h2.8v1.6h-2.8zM138.2 70.5h5.6v2.4h-5.6zM138.2 76.5h5.6v2.3h-5.6zM140.9 33.3h5.6v1.5h-5.6zM140.9 37.9h2.8v2.2h-2.8zM140.9 39.1h2.8v2.4h-2.8zM140.9 39.4h2.8v1.5h-2.8zM140.9 43.9h5.6v1.4h-5.6zM140.9 52.9h2.8v2.1h-2.8zM140.9 59.0h2.8v1.4h-2.8zM140.9 62.8h2.8v1.7h-2.8z"/>
<path fill="#aaaaaa" d="M138.2 32.7h5.6v1.5h-5.6zM138.2 44.5h5.6v1.8h-5.6zM138.2 48.3h5.6v2.5h-5.6zM140.9 43.1h2.8v1.9h-2.8zM140.9 47.7h2.8v1.3h-2.8zM140.9 48.4h2.8v2.5h-2.8zM140.9 73.0h5.6v1.3h-5.6zM140.9 76.5h2.8v1.6h-2.8z"/>
<path fill="#afafaf" d="M140.9 47.3h5.6v2.0h-5.6z"/>
<path fill="#8a8a8a" d="M166.0 50.7h2.8v1.4h-2.8zM166.0 67.9h2.8v2.3h-2.8z"/>
<path fill="#8f8f8f" d="M166.0 56.5h2.8v2.6h-2.8zM166.0 57.3h2.8v1.4h-2.8zM166.0 60.8h5.6v2.2h-5.6z"/>
<path fill="#9a9a9a" d="M163.2 53.8h2.8v1.8h-2.8zM166.0 37.0h5.6v2.1h-5.6zM166.0 69.4h5.6v1.5h-5.6z"/>
<rect x="246.6" y="60" width="2.8" height="44" fill="#8f8f8f" filter="url(#soft)"/>
<path fill="#959595" d="M244.0 65.9h2.8v2.0h-2.8zM244.0 71.6h2.8v2.3h-2.8zM244.0 79.1h2.8v2.0h-2.8zM244.0 79.5h2.8v2.1h-2.8zM244.0 79.6h2.8v1.4h-2.8zM244.0 87.7h5.6v2.3h-5.6zM244.0 94.7h2.8v2.0h-2.8zM246.8 57.9h5.6v1.9h-5.6zM246.8 60.6h2.8v2.1h-2.8zM246.8 61.4h5.6v1.5h-5.6zM246.8 66.4h2.8v2.0h-2.8zM246.8 79.1h2.8v1.8h-2.8zM246.8 84.4h2.8v2.3h-2.8z"/>
<path fill="#9a9a9a" d="M244.0 62.4h2.8v2.4h-2.8zM244.0 65.5h2.8v1.9h-2.8zM244.0 69.0h2.8v1.4h-2.8zM244.0 82.5h5.6v1.9h-5.6zM244.0 87.7h2.8v2.2h-2.8zM244.0 97.5h2.8v2.2h-2.8zM246.8 58.3h2.8v1.4h-2.8zM246.8 61.9h2.8v2.2h-2.8zM246.8 67.2h5.6v2.1h-5.6zM246.8 98.4h5.6v2.3h-5.6zM246.8 103.0h2.8v2.3h-2.8z"/>
<path fill="#9f9f9f" d="M244.0 63.5h2.8v2.1h-2.8zM244.0 86.2h5.6v2.2h-5.6zM244.0 95.2h2.8v1.5h-2.8zM244.0 100.0h2.8v1.9h-2.8zM244.0 102.5h2.8v1.2h-2.8zM244.0 103.5h2.8v2.0h-2.8zM246.8 57.2h2.8v1.3h-2.8zM246.8 57.2h2.8v2.0h-2.8zM246.8 64.8h5.6v2.3h-5.6zM246.8 75.8h2.8v1.3h-2.8zM246.8 84.6h2.8v2.0h-2.8zM246.8 87.3h2.8v2.1h-2.8zM246.8 96.5h2.8v1.8h-2.8z"/>
<path fill="#a5a5a5" d="M244.0 62.7h2.8v1.4h-2.8zM244.0 64.5h2.8v1.7h-2.8zM244.0 70.1h2.8v2.5h-2.8zM244.0 73.8h5.6v2.3h-5.6zM244.0 80.9h5.6v2.0h-5.6zM244.0 90.0h2.8v1.6h-2.8zM244.0 104.5h5.6v1.5h-5.6zM246.8 65.9h2.8v2.6h-2.8zM246.8 96.7h2.8v1.8h-2.8z"/>
<path fill="#aaaaaa" d="M244.0 62.4h2.8v1.4h-2.8zM244.0 78.7h2.8v2.6h-2.8zM244.0 88.1h2.8v1.5h-2.8zM246.8 57.3h5.6v2.0h-5.6zM246.8 71.7h2.8v1.5h-2.8zM246.8 76.1h2.8v1.5h-2.8zM246.8 76.9h2.8v1.5h-2.8zM246.8 83.7h2.8v1.6h-2.8zM246.8 95.3h2.8v1.4h-2.8z"/>
<path fill="#afafaf" d="M244.0 93.8h2.8v1.2h-2.8z"/>
<rect x="246.6" y="73.5" width="2.8" height="5" fill="#bdbdbd"/>
<path fill="#8a8a8a" d="M216.1 137.7h2.8v1.6h-2.8zM227.3 140.7h2.8v2.4h-2.8zM232.9 142.3h2.8v1.4h-2.8z"/>
<path fill="#8f8f8f" d="M216.1 143.4h2.8v2.4h-2.8zM227.3 155.1h2.8v1.7h-2.8z"/>
<path fill="#959595" d="M221.7 147.3h2.8v2.0h-2.8zM227.3 128.1h5.6v2.3h-5.6z"/>
<path fill="#9a9a9a" d="M213.4 148.5h2.8v2.4h-2.8zM213.4 154.7h5.6v1.4h-5.6zM216.1 134.8h2.8v2.4h-2.8zM221.7 137.0h5.6v2.1h-5.6zM227.3 125.2h2.8v1.5h-2.8z"/>
<path fill="#9f9f9f" d="M210.6 155.1h2.8v1.7h-2.8zM213.4 145.9h2.8v1.7h-2.8zM218.9 140.9h5.6v1.5h-5.6zM221.7 153.7h2.8v2.2h-2.8zM224.5 152.3h2.8v1.7h-2.8zM232.9 132.6h2.8v1.3h-2.8zM235.6 129.8h2.8v1.5h-2.8zM235.6 132.8h2.8v2.6h-2.8z"/>
<path fill="#959595" d="M216.1 153.1h5.6v2.3h-5.6zM224.5 153.7h2.8v1.6h-2.8zM224.5 154.0h2.8v2.0h-2.8zM227.3 154.0h2.8v2.2h-2.8z"/>
<path fill="#9a9a9a" d="M210.6 151.7h2.8v1.9h-2.8zM218.9 152.0h2.8v2.0h-2.8zM230.1 155.8h2.8v2.2h-2.8z"/>
<path fill="#9f9f9f" d="M207.8 156.0h2.8v1.5h-2.8zM213.4 150.5h2.8v1.4h-2.8zM221.7 154.8h2.8v2.0h-2.8zM227.3 147.2h2.8v2.5h-2.8zM227.3 151.9h2.8v1.6h-2.8z"/>
<path fill="#a5a5a5" d="M207.8 157.7h2.8v2.4h-2.8z"/>
<path fill="#aaaaaa" d="M210.6 153.0h2.8v2.3h-2.8zM224.5 147.8h5.6v2.3h-5.6zM224.5 151.2h5.6v2.2h-5.6zM224.5 152.1h2.8v1.9h-2.8zM230.1 148.6h2.8v2.5h-2.8z"/>
<path fill="#afafaf" d="M216.1 154.0h2.8v1.7h-2.8z"/>
<path fill="#8f8f8f" d="M221.7 134.4h2.8v1.9h-2.8zM221.7 145.1h5.6v1.5h-5.6zM224.5 123.7h5.6v1.7h-5.6zM224.5 152.1h2.8v1.5h-2.8z"/>
<path fill="#959595" d="M221.7 126.0h2.8v2.6h-2.8zM221.7 136.6h2.8v1.7h-2.8zM221.7 154.7h2.8v1.4h-2.8z"/>
<path fill="#9a9a9a" d="M221.7 121.2h2.8v2.5h-2.8zM221.7 147.9h2.8v2.2h-2.8zM224.5 120.7h2.8v2.5h-2.8zM224.5 142.8h2.8v1.9h-2.8zM224.5 152.8h2.8v1.2h-2.8z"/>
<path fill="#9f9f9f" d="M221.7 124.9h2.8v1.9h-2.8zM221.7 132.7h2.8v1.6h-2.8zM221.7 145.6h2.8v1.6h-2.8zM221.7 151.3h2.8v1.8h-2.8zM224.5 116.2h2.8v1.4h-2.8zM224.5 127.4h5.6v1.7h-5.6zM224.5 132.8h2.8v1.4h-2.8zM224.5 136.6h2.8v1.3h-2.8zM224.5 151.5h2.8v1.5h-2.8z"/>
<path fill="#8f8f8f" d="M138.2 148.2h2.8v1.4h-2.8zM146.5 142.7h2.8v1.4h-2.8zM154.9 156.3h2.8v1.6h-2.8z"/>
<path fill="#959595" d="M138.2 143.5h5.6v2.0h-5.6zM146.5 146.3h2.8v1.6h-2.8z"/>
<path fill="#9a9a9a" d="M146.5 144.2h2.8v2.5h-2.8zM146.5 153.4h2.8v2.4h-2.8z"/>
<path fill="#9f9f9f" d="M140.9 155.4h2.8v2.5h-2.8zM149.3 144.3h2.8v1.6h-2.8zM154.9 157.5h5.6v2.6h-5.6z"/>
<path fill="#8a8a8a" d="M280.2 137.6h2.8v2.4h-2.8zM280.2 138.2h5.6v2.0h-5.6z"/>
<path fill="#8f8f8f" d="M280.2 136.1h2.8v2.6h-2.8zM280.2 140.8h5.6v2.6h-5.6zM285.8 151.3h5.6v1.5h-5.6zM285.8 152.9h2.8v2.3h-2.8z"/>
<path fill="#9a9a9a" d="M280.2 132.9h5.6v2.3h-5.6zM280.2 154.9h2.8v2.1h-2.8zM285.8 152.8h5.6v1.7h-5.6zM285.8 155.9h2.8v1.5h-2.8z"/>
<path fill="#9f9f9f" d="M285.8 132.2h2.8v2.3h-2.8zM285.8 151.4h2.8v1.3h-2.8z"/>
<path fill="#8a8a8a" d="M110.3 58.2h2.8v1.8h-2.8zM110.3 99.8h2.8v2.2h-2.8zM113.1 87.0h2.8v2.2h-2.8zM127.0 76.2h5.6v2.1h-5.6z"/>
<path fill="#8f8f8f" d="M121.5 77.4h5.6v1.8h-5.6zM121.5 82.5h2.8v2.2h-2.8zM127.0 63.6h2.8v1.9h-2.8zM127.0 98.8h2.8v2.3h-2.8zM135.4 57.8h5.6v1.4h-5.6z"/>
<path fill="#959595" d="M121.5 94.8h2.8v1.9h-2.8zM124.2 68.7h2.8v2.1h-2.8zM127.0 93.2h2.8v1.9h-2.8zM129.8 57.2h2.8v1.6h-2.8zM135.4 75.8h2.8v1.9h-2.8z"/>
<path fill="#9a9a9a" d="M110.3 75.6h2.8v2.5h-2.8zM110.3 90.6h2.8v1.6h-2.8zM124.2 69.9h5.6v1.9h-5.6z"/>
</g>
<line x1="37.9" y1="91.8" x2="338.5" y2="91.8" stroke="#1a50cc" stroke-width="1.3" opacity="0.85"/>
<line x1="61.5" y1="26.05" x2="61.5" y2="158.2" stroke="#f01818" stroke-width="2.1" stroke-dasharray="6 1.6 2.4 1.6" stroke-dashoffset="10.55"/>
<line x1="86.5" y1="26.05" x2="86.5" y2="158.2" stroke="#f01818" stroke-width="2.1" stroke-dasharray="6 1.6 2.4 1.6" stroke-dashoffset="10.55"/>
<line x1="111.6" y1="26.05" x2="111.6" y2="158.2" stroke="#f01818" stroke-width="2.1" stroke-dasharray="6 1.6 2.4 1.6" stroke-dashoffset="10.55"/>
<line x1="136.6" y1="26.05" x2="136.6" y2="158.2" stroke="#f01818" stroke-width="2.1" stroke-dasharray="6 1.6 2.4 1.6" stroke-dashoffset="10.55"/>
<line x1="161.7" y1="26.05" x2="161.7" y2="158.2" stroke="#f01818" stroke-width="2.1" stroke-dasharray="6 1.6 2.4 1.6" stroke-dashoffset="10.55"/>
<line x1="186.7" y1="26.05" x2="186.7" y2="158.2" stroke="#f01818" stroke-width="2.1" stroke-dasharray="6 1.6 2.4 1.6" stroke-dashoffset="10.55"/>
<line x1="211.8" y1="26.05" x2="211.8" y2="158.2" stroke="#f01818" stroke-width="2.1" stroke-dasharray="6 1.6 2.4 1.6" stroke-dashoffset="10.55"/>
<line x1="236.8" y1="26.05" x2="236.8" y2="158.2" stroke="#f01818" stroke-width="2.1" stroke-dasharray="6 1.6 2.4 1.6" stroke-dashoffset="10.55"/>
<line x1="261.9" y1="26.05" x2="261.9" y2="158.2" stroke="#f01818" stroke-width="2.1" stroke-dasharray="6 1.6 2.4 1.6" stroke-dashoffset="10.55"/>
<line x1="286.9" y1="26.05" x2="286.9" y2="158.2" stroke="#f01818" stroke-width="2.1" stroke-dasharray="6 1.6 2.4 1.6" stroke-dashoffset="10.55"/>
<line x1="311.9" y1="26.05" x2="311.9" y2="158.2" stroke="#f01818" stroke-width="2.1" stroke-dasharray="6 1.6 2.4 1.6" stroke-dashoffset="10.55"/>
</g>
<rect x="37.9" y="26.05" width="300.6" height="132.14999999999998" fill="none" stroke="#262626" stroke-width="1.4"/>
<line x1="61.5" y1="26.05" x2="61.5" y2="29.05" stroke="#262626" stroke-width="1"/>
<line x1="61.5" y1="158.2" x2="61.5" y2="155.2" stroke="#262626" stroke-width="1"/>
<text x="61.5" y="172.7" font-size="10" font-weight="bold" fill="#262626" text-anchor="middle">9</text>
<line x1="86.5" y1="26.05" x2="86.5" y2="29.05" stroke="#262626" stroke-width="1"/>
<line x1="86.5" y1="158.2" x2="86.5" y2="155.2" stroke="#262626" stroke-width="1"/>
<text x="86.5" y="172.7" font-size="10" font-weight="bold" fill="#262626" text-anchor="middle">18</text>
<line x1="111.6" y1="26.05" x2="111.6" y2="29.05" stroke="#262626" stroke-width="1"/>
<line x1="111.6" y1="158.2" x2="111.6" y2="155.2" stroke="#262626" stroke-width="1"/>
<text x="111.6" y="172.7" font-size="10" font-weight="bold" fill="#262626" text-anchor="middle">27</text>
<line x1="136.6" y1="26.05" x2="136.6" y2="29.05" stroke="#262626" stroke-width="1"/>
<line x1="136.6" y1="158.2" x2="136.6" y2="155.2" stroke="#262626" stroke-width="1"/>
<text x="136.6" y="172.7" font-size="10" font-weight="bold" fill="#262626" text-anchor="middle">36</text>
<line x1="161.7" y1="26.05" x2="161.7" y2="29.05" stroke="#262626" stroke-width="1"/>
<line x1="161.7" y1="158.2" x2="161.7" y2="155.2" stroke="#262626" stroke-width="1"/>
<text x="161.7" y="172.7" font-size="10" font-weight="bold" fill="#262626" text-anchor="middle">45</text>
<line x1="186.7" y1="26.05" x2="186.7" y2="29.05" stroke="#262626" stroke-width="1"/>
<line x1="186.7" y1="158.2" x2="186.7" y2="155.2" stroke="#262626" stroke-width="1"/>
<text x="186.7" y="172.7" font-size="10" font-weight="bold" fill="#262626" text-anchor="middle">54</text>
<line x1="211.8" y1="26.05" x2="211.8" y2="29.05" stroke="#262626" stroke-width="1"/>
<line x1="211.8" y1="158.2" x2="211.8" y2="155.2" stroke="#262626" stroke-width="1"/>
<text x="211.8" y="172.7" font-size="10" font-weight="bold" fill="#262626" text-anchor="middle">63</text>
<line x1="236.8" y1="26.05" x2="236.8" y2="29.05" stroke="#262626" stroke-width="1"/>
<line x1="236.8" y1="158.2" x2="236.8" y2="155.2" stroke="#262626" stroke-width="1"/>
<text x="236.8" y="172.7" font-size="10" font-weight="bold" fill="#262626" text-anchor="middle">72</text>
<line x1="261.9" y1="26.05" x2="261.9" y2="29.05" stroke="#262626" stroke-width="1"/>
<line x1="261.9" y1="158.2" x2="261.9" y2="155.2" stroke="#262626" stroke-width="1"/>
<text x="261.9" y="172.7" font-size="10" font-weight="bold" fill="#262626" text-anchor="middle">81</text>
<line x1="286.9" y1="26.05" x2="286.9" y2="29.05" stroke="#262626" stroke-width="1"/>
<line x1="286.9" y1="158.2" x2="286.9" y2="155.2" stroke="#262626" stroke-width="1"/>
<text x="286.9" y="172.7" font-size="10" font-weight="bold" fill="#262626" text-anchor="middle">90</text>
<line x1="311.9" y1="26.05" x2="311.9" y2="29.05" stroke="#262626" stroke-width="1"/>
<line x1="311.9" y1="158.2" x2="311.9" y2="155.2" stroke="#262626" stroke-width="1"/>
<text x="311.9" y="172.7" font-size="10" font-weight="bold" fill="#262626" text-anchor="middle">99</text>
<line x1="37.9" y1="50.9" x2="40.9" y2="50.9" stroke="#262626" stroke-width="1"/>
<line x1="338.5" y1="50.9" x2="335.5" y2="50.9" stroke="#262626" stroke-width="1"/>
<text x="32.699999999999996" y="55.9" font-size="10" font-weight="bold" fill="#262626" text-anchor="end">-20</text>
<line x1="37.9" y1="91.8" x2="40.9" y2="91.8" stroke="#262626" stroke-width="1"/>
<line x1="338.5" y1="91.8" x2="335.5" y2="91.8" stroke="#262626" stroke-width="1"/>
<text x="32.699999999999996" y="96.8" font-size="10" font-weight="bold" fill="#262626" text-anchor="end">0</text>
<line x1="37.9" y1="132.7" x2="40.9" y2="132.7" stroke="#262626" stroke-width="1"/>
<line x1="338.5" y1="132.7" x2="335.5" y2="132.7" stroke="#262626" stroke-width="1"/>
<text x="32.699999999999996" y="137.7" font-size="10" font-weight="bold" fill="#262626" text-anchor="end">20</text>
<rect x="314.4" y="32.4" width="22" height="11.6" fill="#fff"/><text x="325.4" y="42.5" font-size="12.5" font-weight="bold" text-anchor="middle" fill="#111" stroke="#111" stroke-width="0.4">V</text>
<clipPath id="clipspecB"><rect x="38.7" y="187" width="300.6" height="131.7"/></clipPath>
<defs><pattern id="patspecB" patternUnits="userSpaceOnUse" x="38.7" y="187" width="100.260" height="66.600">
<rect width="100.260" height="66.600" fill="#808080"/>
<path fill="#484848" d="M25.1 33.30h5.6v1.85h-5.6z"/>
<path fill="#505050" d="M13.9 49.95h2.8v1.85h-2.8z"/>
<path fill="#585858" d="M16.7 37.00h2.8v1.85h-2.8zM22.3 55.50h5.6v1.85h-5.6zM94.7 64.75h5.6v1.85h-5.6z"/>
<path fill="#606060" d="M16.7 1.85h2.8v1.85h-2.8zM11.1 3.70h5.6v1.85h-5.6zM47.3 9.25h5.6v1.85h-5.6zM19.5 11.10h2.8v1.85h-2.8zM36.2 24.05h5.6v1.85h-5.6zM52.9 35.15h2.8v1.85h-2.8zM66.8 35.15h5.6v1.85h-5.6zM66.8 37.00h5.6v1.85h-5.6zM16.7 38.85h2.8v1.85h-2.8zM69.6 38.85h2.8v1.85h-2.8zM47.3 42.55h5.6v1.85h-5.6zM61.3 42.55h2.8v1.85h-2.8zM94.7 42.55h2.8v1.85h-2.8zM97.5 46.25h2.8v1.85h-2.8zM27.9 59.20h2.8v1.85h-2.8z"/>
<path fill="#686868" d="M5.6 3.70h2.8v1.85h-2.8zM55.7 3.70h2.8v1.85h-2.8zM50.1 5.55h5.6v1.85h-5.6zM50.1 7.40h2.8v1.85h-2.8zM0.0 9.25h5.6v1.85h-5.6zM61.3 9.25h2.8v1.85h-2.8zM11.1 11.10h2.8v1.85h-2.8zM13.9 11.10h5.6v1.85h-5.6zM27.9 11.10h2.8v1.85h-2.8zM47.3 11.10h5.6v1.85h-5.6zM22.3 12.95h2.8v1.85h-2.8zM86.3 16.65h2.8v1.85h-2.8zM11.1 18.50h2.8v1.85h-2.8zM44.6 18.50h2.8v1.85h-2.8zM69.6 18.50h2.8v1.85h-2.8zM78.0 18.50h2.8v1.85h-2.8zM91.9 18.50h2.8v1.85h-2.8zM89.1 20.35h2.8v1.85h-2.8zM75.2 22.20h2.8v1.85h-2.8zM33.4 24.05h2.8v1.85h-2.8zM39.0 29.60h2.8v1.85h-2.8zM2.8 31.45h2.8v1.85h-2.8zM5.6 31.45h5.6v1.85h-5.6zM72.4 31.45h2.8v1.85h-2.8zM19.5 33.30h2.8v1.85h-2.8zM61.3 33.30h2.8v1.85h-2.8zM75.2 33.30h2.8v1.85h-2.8zM33.4 35.15h2.8v1.85h-2.8zM41.8 35.15h5.6v1.85h-5.6zM50.1 35.15h2.8v1.85h-2.8zM72.4 35.15h2.8v1.85h-2.8zM19.5 37.00h5.6v1.85h-5.6zM27.9 37.00h2.8v1.85h-2.8zM44.6 38.85h5.6v1.85h-5.6zM2.8 40.70h5.6v1.85h-5.6zM75.2 40.70h2.8v1.85h-2.8zM64.1 42.55h5.6v1.85h-5.6zM89.1 42.55h2.8v1.85h-2.8zM47.3 46.25h2.8v1.85h-2.8zM27.9 48.10h5.6v1.85h-5.6zM8.4 49.95h2.8v1.85h-2.8zM16.7 49.95h2.8v1.85h-2.8zM61.3 49.95h2.8v1.85h-2.8zM83.6 49.95h2.8v1.85h-2.8zM19.5 51.80h2.8v1.85h-2.8zM33.4 51.80h2.8v1.85h-2.8zM27.9 55.50h2.8v1.85h-2.8zM61.3 59.20h2.8v1.85h-2.8zM97.5 59.20h2.8v1.85h-2.8zM2.8 61.05h2.8v1.85h-2.8zM64.1 61.05h5.6v1.85h-5.6zM80.8 61.05h2.8v1.85h-2.8zM41.8 62.90h5.6v1.85h-5.6zM61.3 62.90h2.8v1.85h-2.8zM86.3 62.90h2.8v1.85h-2.8zM91.9 62.90h2.8v1.85h-2.8zM0.0 64.75h5.6v1.85h-5.6zM5.6 64.75h5.6v1.85h-5.6zM22.3 64.75h2.8v1.85h-2.8zM25.1 64.75h2.8v1.85h-2.8zM27.9 64.75h2.8v1.85h-2.8z"/>
<path fill="#707070" d="M19.5 0.00h2.8v1.85h-2.8zM50.1 0.00h2.8v1.85h-2.8zM52.9 0.00h2.8v1.85h-2.8zM69.6 0.00h5.6v1.85h-5.6zM86.3 0.00h2.8v1.85h-2.8zM89.1 0.00h2.8v1.85h-2.8zM19.5 1.85h2.8v1.85h-2.8zM33.4 1.85h2.8v1.85h-2.8zM36.2 1.85h5.6v1.85h-5.6zM16.7 3.70h2.8v1.85h-2.8zM30.6 3.70h2.8v1.85h-2.8zM47.3 3.70h5.6v1.85h-5.6zM94.7 3.70h2.8v1.85h-2.8zM2.8 5.55h2.8v1.85h-2.8zM47.3 5.55h2.8v1.85h-2.8zM91.9 5.55h2.8v1.85h-2.8zM19.5 7.40h2.8v1.85h-2.8zM39.0 7.40h2.8v1.85h-2.8zM61.3 7.40h2.8v1.85h-2.8zM75.2 7.40h2.8v1.85h-2.8zM78.0 7.40h2.8v1.85h-2.8zM80.8 7.40h2.8v1.85h-2.8zM16.7 9.25h5.6v1.85h-5.6zM33.4 9.25h2.8v1.85h-2.8zM44.6 9.25h2.8v1.85h-2.8zM58.5 9.25h2.8v1.85h-2.8zM64.1 9.25h2.8v1.85h-2.8zM91.9 9.25h5.6v1.85h-5.6zM5.6 11.10h2.8v1.85h-2.8zM8.4 11.10h2.8v1.85h-2.8zM22.3 11.10h2.8v1.85h-2.8zM39.0 12.95h2.8v1.85h-2.8zM69.6 12.95h2.8v1.85h-2.8zM94.7 12.95h2.8v1.85h-2.8zM13.9 14.80h5.6v1.85h-5.6zM33.4 14.80h2.8v1.85h-2.8zM39.0 14.80h2.8v1.85h-2.8zM50.1 14.80h2.8v1.85h-2.8zM72.4 14.80h2.8v1.85h-2.8zM75.2 14.80h5.6v1.85h-5.6zM0.0 16.65h2.8v1.85h-2.8zM13.9 18.50h5.6v1.85h-5.6zM41.8 18.50h2.8v1.85h-2.8zM13.9 20.35h5.6v1.85h-5.6zM47.3 20.35h2.8v1.85h-2.8zM50.1 20.35h2.8v1.85h-2.8zM72.4 20.35h2.8v1.85h-2.8zM2.8 22.20h5.6v1.85h-5.6zM36.2 22.20h5.6v1.85h-5.6zM61.3 22.20h5.6v1.85h-5.6zM69.6 22.20h5.6v1.85h-5.6zM80.8 22.20h5.6v1.85h-5.6zM86.3 22.20h2.8v1.85h-2.8zM11.1 24.05h5.6v1.85h-5.6zM41.8 24.05h2.8v1.85h-2.8zM64.1 24.05h5.6v1.85h-5.6zM69.6 24.05h2.8v1.85h-2.8zM89.1 24.05h5.6v1.85h-5.6zM94.7 24.05h2.8v1.85h-2.8zM30.6 25.90h2.8v1.85h-2.8zM36.2 25.90h2.8v1.85h-2.8zM86.3 25.90h2.8v1.85h-2.8zM39.0 27.75h2.8v1.85h-2.8zM41.8 27.75h2.8v1.85h-2.8zM64.1 27.75h2.8v1.85h-2.8zM27.9 29.60h2.8v1.85h-2.8zM36.2 29.60h2.8v1.85h-2.8zM58.5 29.60h5.6v1.85h-5.6zM72.4 29.60h5.6v1.85h-5.6zM27.9 31.45h5.6v1.85h-5.6zM55.7 31.45h2.8v1.85h-2.8zM52.9 33.30h2.8v1.85h-2.8zM64.1 33.30h2.8v1.85h-2.8zM19.5 35.15h2.8v1.85h-2.8zM36.2 35.15h2.8v1.85h-2.8zM39.0 35.15h2.8v1.85h-2.8zM55.7 35.15h2.8v1.85h-2.8zM58.5 35.15h2.8v1.85h-2.8zM61.3 35.15h5.6v1.85h-5.6zM75.2 35.15h2.8v1.85h-2.8zM94.7 35.15h2.8v1.85h-2.8zM5.6 37.00h2.8v1.85h-2.8zM8.4 37.00h2.8v1.85h-2.8zM39.0 37.00h5.6v1.85h-5.6zM44.6 37.00h2.8v1.85h-2.8zM78.0 37.00h5.6v1.85h-5.6zM94.7 38.85h2.8v1.85h-2.8zM0.0 40.70h2.8v1.85h-2.8zM8.4 40.70h5.6v1.85h-5.6zM41.8 40.70h2.8v1.85h-2.8zM44.6 40.70h5.6v1.85h-5.6zM78.0 40.70h2.8v1.85h-2.8zM97.5 40.70h2.8v1.85h-2.8zM30.6 42.55h5.6v1.85h-5.6zM55.7 42.55h5.6v1.85h-5.6zM19.5 44.40h5.6v1.85h-5.6zM80.8 44.40h2.8v1.85h-2.8zM2.8 46.25h2.8v1.85h-2.8zM13.9 46.25h2.8v1.85h-2.8zM19.5 46.25h2.8v1.85h-2.8zM27.9 46.25h2.8v1.85h-2.8zM41.8 46.25h5.6v1.85h-5.6zM69.6 46.25h2.8v1.85h-2.8zM13.9 48.10h2.8v1.85h-2.8zM33.4 48.10h2.8v1.85h-2.8zM83.6 48.10h5.6v1.85h-5.6zM69.6 49.95h5.6v1.85h-5.6zM89.1 49.95h2.8v1.85h-2.8zM41.8 51.80h5.6v1.85h-5.6zM61.3 51.80h5.6v1.85h-5.6zM69.6 51.80h2.8v1.85h-2.8zM80.8 51.80h2.8v1.85h-2.8zM94.7 51.80h2.8v1.85h-2.8zM64.1 55.50h2.8v1.85h-2.8zM75.2 57.35h5.6v1.85h-5.6zM91.9 57.35h2.8v1.85h-2.8zM22.3 59.20h5.6v1.85h-5.6zM50.1 59.20h5.6v1.85h-5.6zM58.5 61.05h5.6v1.85h-5.6zM72.4 61.05h5.6v1.85h-5.6zM94.7 61.05h5.6v1.85h-5.6zM8.4 62.90h5.6v1.85h-5.6zM25.1 62.90h2.8v1.85h-2.8zM30.6 62.90h2.8v1.85h-2.8zM36.2 62.90h5.6v1.85h-5.6zM83.6 62.90h2.8v1.85h-2.8zM33.4 64.75h2.8v1.85h-2.8zM36.2 64.75h2.8v1.85h-2.8zM47.3 64.75h5.6v1.85h-5.6z"/>
<path fill="#787878" d="M5.6 0.00h2.8v1.85h-2.8zM33.4 0.00h2.8v1.85h-2.8zM41.8 0.00h5.6v1.85h-5.6zM66.8 0.00h2.8v1.85h-2.8zM83.6 0.00h2.8v1.85h-2.8zM2.8 1.85h5.6v1.85h-5.6zM41.8 1.85h5.6v1.85h-5.6zM58.5 1.85h2.8v1.85h-2.8zM97.5 1.85h2.8v1.85h-2.8zM0.0 3.70h2.8v1.85h-2.8zM8.4 3.70h2.8v1.85h-2.8zM19.5 3.70h2.8v1.85h-2.8zM25.1 3.70h5.6v1.85h-5.6zM64.1 3.70h5.6v1.85h-5.6zM78.0 3.70h2.8v1.85h-2.8zM78.0 5.55h2.8v1.85h-2.8zM89.1 5.55h2.8v1.85h-2.8zM11.1 7.40h2.8v1.85h-2.8zM13.9 7.40h5.6v1.85h-5.6zM33.4 7.40h5.6v1.85h-5.6zM64.1 7.40h5.6v1.85h-5.6zM83.6 7.40h2.8v1.85h-2.8zM89.1 7.40h5.6v1.85h-5.6zM94.7 7.40h2.8v1.85h-2.8zM5.6 9.25h5.6v1.85h-5.6zM27.9 9.25h2.8v1.85h-2.8zM66.8 9.25h2.8v1.85h-2.8zM78.0 9.25h5.6v1.85h-5.6zM25.1 11.10h2.8v1.85h-2.8zM72.4 11.10h2.8v1.85h-2.8zM75.2 11.10h2.8v1.85h-2.8zM89.1 11.10h5.6v1.85h-5.6zM5.6 12.95h2.8v1.85h-2.8zM8.4 12.95h5.6v1.85h-5.6zM58.5 12.95h2.8v1.85h-2.8zM72.4 12.95h2.8v1.85h-2.8zM75.2 12.95h5.6v1.85h-5.6zM89.1 12.95h2.8v1.85h-2.8zM52.9 14.80h2.8v1.85h-2.8zM86.3 14.80h5.6v1.85h-5.6zM91.9 14.80h2.8v1.85h-2.8zM97.5 14.80h2.8v1.85h-2.8zM2.8 16.65h2.8v1.85h-2.8zM22.3 16.65h2.8v1.85h-2.8zM66.8 16.65h5.6v1.85h-5.6zM72.4 16.65h2.8v1.85h-2.8zM75.2 16.65h5.6v1.85h-5.6zM80.8 16.65h2.8v1.85h-2.8zM19.5 18.50h2.8v1.85h-2.8zM30.6 18.50h5.6v1.85h-5.6zM36.2 18.50h2.8v1.85h-2.8zM55.7 18.50h2.8v1.85h-2.8zM72.4 18.50h5.6v1.85h-5.6zM8.4 20.35h5.6v1.85h-5.6zM27.9 20.35h2.8v1.85h-2.8zM44.6 20.35h2.8v1.85h-2.8zM52.9 20.35h2.8v1.85h-2.8zM94.7 20.35h5.6v1.85h-5.6zM0.0 22.20h2.8v1.85h-2.8zM16.7 22.20h2.8v1.85h-2.8zM89.1 22.20h5.6v1.85h-5.6zM97.5 22.20h2.8v1.85h-2.8zM30.6 24.05h2.8v1.85h-2.8zM72.4 24.05h2.8v1.85h-2.8zM80.8 24.05h5.6v1.85h-5.6zM86.3 24.05h2.8v1.85h-2.8zM97.5 24.05h2.8v1.85h-2.8zM25.1 25.90h5.6v1.85h-5.6zM33.4 25.90h2.8v1.85h-2.8zM75.2 25.90h2.8v1.85h-2.8zM94.7 25.90h2.8v1.85h-2.8zM13.9 27.75h5.6v1.85h-5.6zM30.6 27.75h5.6v1.85h-5.6zM36.2 27.75h2.8v1.85h-2.8zM44.6 27.75h2.8v1.85h-2.8zM58.5 27.75h5.6v1.85h-5.6zM8.4 29.60h5.6v1.85h-5.6zM25.1 29.60h2.8v1.85h-2.8zM30.6 29.60h2.8v1.85h-2.8zM33.4 29.60h2.8v1.85h-2.8zM44.6 29.60h2.8v1.85h-2.8zM16.7 31.45h2.8v1.85h-2.8zM78.0 31.45h2.8v1.85h-2.8zM80.8 31.45h2.8v1.85h-2.8zM86.3 31.45h5.6v1.85h-5.6zM16.7 33.30h2.8v1.85h-2.8zM22.3 33.30h2.8v1.85h-2.8zM30.6 33.30h5.6v1.85h-5.6zM41.8 33.30h2.8v1.85h-2.8zM78.0 33.30h5.6v1.85h-5.6zM94.7 33.30h2.8v1.85h-2.8zM47.3 35.15h2.8v1.85h-2.8zM11.1 37.00h2.8v1.85h-2.8zM64.1 37.00h2.8v1.85h-2.8zM8.4 38.85h5.6v1.85h-5.6zM13.9 38.85h2.8v1.85h-2.8zM30.6 38.85h2.8v1.85h-2.8zM36.2 38.85h5.6v1.85h-5.6zM41.8 38.85h2.8v1.85h-2.8zM64.1 38.85h5.6v1.85h-5.6zM75.2 38.85h5.6v1.85h-5.6zM89.1 38.85h5.6v1.85h-5.6zM69.6 40.70h5.6v1.85h-5.6zM16.7 42.55h2.8v1.85h-2.8zM36.2 42.55h5.6v1.85h-5.6zM41.8 42.55h5.6v1.85h-5.6zM52.9 42.55h2.8v1.85h-2.8zM78.0 42.55h5.6v1.85h-5.6zM83.6 42.55h2.8v1.85h-2.8zM86.3 42.55h2.8v1.85h-2.8zM97.5 42.55h2.8v1.85h-2.8zM25.1 44.40h2.8v1.85h-2.8zM30.6 44.40h5.6v1.85h-5.6zM41.8 44.40h5.6v1.85h-5.6zM89.1 44.40h5.6v1.85h-5.6zM0.0 46.25h2.8v1.85h-2.8zM5.6 46.25h2.8v1.85h-2.8zM36.2 46.25h5.6v1.85h-5.6zM58.5 46.25h2.8v1.85h-2.8zM75.2 46.25h5.6v1.85h-5.6zM80.8 46.25h2.8v1.85h-2.8zM89.1 46.25h2.8v1.85h-2.8zM19.5 48.10h2.8v1.85h-2.8zM36.2 48.10h2.8v1.85h-2.8zM69.6 48.10h2.8v1.85h-2.8zM72.4 48.10h2.8v1.85h-2.8zM2.8 49.95h2.8v1.85h-2.8zM19.5 49.95h5.6v1.85h-5.6zM27.9 49.95h2.8v1.85h-2.8zM86.3 49.95h2.8v1.85h-2.8zM2.8 51.80h2.8v1.85h-2.8zM22.3 51.80h2.8v1.85h-2.8zM30.6 51.80h2.8v1.85h-2.8zM72.4 51.80h2.8v1.85h-2.8zM11.1 53.65h5.6v1.85h-5.6zM16.7 53.65h5.6v1.85h-5.6zM22.3 53.65h2.8v1.85h-2.8zM89.1 53.65h2.8v1.85h-2.8zM91.9 53.65h5.6v1.85h-5.6zM0.0 55.50h2.8v1.85h-2.8zM39.0 55.50h2.8v1.85h-2.8zM44.6 55.50h2.8v1.85h-2.8zM78.0 55.50h5.6v1.85h-5.6zM83.6 55.50h2.8v1.85h-2.8zM0.0 57.35h5.6v1.85h-5.6zM5.6 57.35h2.8v1.85h-2.8zM8.4 57.35h5.6v1.85h-5.6zM33.4 57.35h5.6v1.85h-5.6zM72.4 57.35h2.8v1.85h-2.8zM47.3 59.20h2.8v1.85h-2.8zM55.7 59.20h5.6v1.85h-5.6zM89.1 59.20h2.8v1.85h-2.8zM94.7 59.20h2.8v1.85h-2.8zM0.0 61.05h2.8v1.85h-2.8zM13.9 61.05h2.8v1.85h-2.8zM69.6 61.05h2.8v1.85h-2.8zM78.0 61.05h2.8v1.85h-2.8zM89.1 61.05h5.6v1.85h-5.6zM33.4 62.90h2.8v1.85h-2.8zM94.7 62.90h2.8v1.85h-2.8zM11.1 64.75h2.8v1.85h-2.8zM13.9 64.75h5.6v1.85h-5.6zM19.5 64.75h2.8v1.85h-2.8zM39.0 64.75h5.6v1.85h-5.6zM58.5 64.75h5.6v1.85h-5.6zM66.8 64.75h2.8v1.85h-2.8zM78.0 64.75h2.8v1.85h-2.8zM80.8 64.75h5.6v1.85h-5.6z"/>
<path fill="#878787" d="M8.4 0.00h5.6v1.85h-5.6zM22.3 0.00h2.8v1.85h-2.8zM36.2 0.00h2.8v1.85h-2.8zM39.0 0.00h2.8v1.85h-2.8zM97.5 0.00h2.8v1.85h-2.8zM0.0 1.85h2.8v1.85h-2.8zM47.3 1.85h2.8v1.85h-2.8zM69.6 1.85h5.6v1.85h-5.6zM78.0 1.85h5.6v1.85h-5.6zM22.3 3.70h2.8v1.85h-2.8zM36.2 3.70h5.6v1.85h-5.6zM41.8 3.70h5.6v1.85h-5.6zM58.5 3.70h5.6v1.85h-5.6zM36.2 5.55h5.6v1.85h-5.6zM75.2 5.55h2.8v1.85h-2.8zM25.1 7.40h5.6v1.85h-5.6zM41.8 7.40h2.8v1.85h-2.8zM58.5 7.40h2.8v1.85h-2.8zM86.3 7.40h2.8v1.85h-2.8zM22.3 9.25h2.8v1.85h-2.8zM52.9 9.25h2.8v1.85h-2.8zM72.4 9.25h2.8v1.85h-2.8zM83.6 9.25h2.8v1.85h-2.8zM0.0 11.10h5.6v1.85h-5.6zM30.6 11.10h5.6v1.85h-5.6zM52.9 11.10h2.8v1.85h-2.8zM66.8 11.10h5.6v1.85h-5.6zM80.8 11.10h2.8v1.85h-2.8zM83.6 11.10h2.8v1.85h-2.8zM13.9 12.95h2.8v1.85h-2.8zM25.1 12.95h2.8v1.85h-2.8zM41.8 12.95h2.8v1.85h-2.8zM50.1 12.95h5.6v1.85h-5.6zM86.3 12.95h2.8v1.85h-2.8zM27.9 14.80h5.6v1.85h-5.6zM58.5 14.80h2.8v1.85h-2.8zM94.7 14.80h2.8v1.85h-2.8zM25.1 16.65h2.8v1.85h-2.8zM8.4 18.50h2.8v1.85h-2.8zM22.3 18.50h2.8v1.85h-2.8zM64.1 18.50h2.8v1.85h-2.8zM66.8 18.50h2.8v1.85h-2.8zM80.8 18.50h5.6v1.85h-5.6zM86.3 18.50h2.8v1.85h-2.8zM0.0 20.35h2.8v1.85h-2.8zM2.8 20.35h2.8v1.85h-2.8zM5.6 20.35h2.8v1.85h-2.8zM69.6 20.35h2.8v1.85h-2.8zM47.3 22.20h5.6v1.85h-5.6zM58.5 22.20h2.8v1.85h-2.8zM19.5 24.05h2.8v1.85h-2.8zM5.6 25.90h2.8v1.85h-2.8zM8.4 25.90h2.8v1.85h-2.8zM39.0 25.90h2.8v1.85h-2.8zM58.5 25.90h2.8v1.85h-2.8zM61.3 25.90h5.6v1.85h-5.6zM72.4 25.90h2.8v1.85h-2.8zM78.0 25.90h2.8v1.85h-2.8zM83.6 25.90h2.8v1.85h-2.8zM97.5 25.90h2.8v1.85h-2.8zM22.3 27.75h2.8v1.85h-2.8zM47.3 27.75h5.6v1.85h-5.6zM72.4 27.75h5.6v1.85h-5.6zM83.6 27.75h2.8v1.85h-2.8zM89.1 27.75h2.8v1.85h-2.8zM0.0 29.60h2.8v1.85h-2.8zM5.6 29.60h2.8v1.85h-2.8zM22.3 31.45h2.8v1.85h-2.8zM36.2 31.45h5.6v1.85h-5.6zM36.2 33.30h2.8v1.85h-2.8zM55.7 33.30h2.8v1.85h-2.8zM69.6 33.30h2.8v1.85h-2.8zM72.4 33.30h2.8v1.85h-2.8zM83.6 33.30h2.8v1.85h-2.8zM0.0 35.15h5.6v1.85h-5.6zM22.3 35.15h2.8v1.85h-2.8zM91.9 35.15h2.8v1.85h-2.8zM13.9 37.00h2.8v1.85h-2.8zM61.3 37.00h2.8v1.85h-2.8zM83.6 37.00h2.8v1.85h-2.8zM55.7 38.85h2.8v1.85h-2.8zM80.8 38.85h5.6v1.85h-5.6zM86.3 38.85h2.8v1.85h-2.8zM19.5 40.70h5.6v1.85h-5.6zM25.1 40.70h5.6v1.85h-5.6zM30.6 40.70h2.8v1.85h-2.8zM50.1 40.70h2.8v1.85h-2.8zM66.8 40.70h2.8v1.85h-2.8zM86.3 40.70h2.8v1.85h-2.8zM91.9 40.70h5.6v1.85h-5.6zM2.8 42.55h5.6v1.85h-5.6zM13.9 42.55h2.8v1.85h-2.8zM91.9 42.55h2.8v1.85h-2.8zM0.0 44.40h5.6v1.85h-5.6zM11.1 44.40h2.8v1.85h-2.8zM52.9 44.40h5.6v1.85h-5.6zM75.2 44.40h5.6v1.85h-5.6zM83.6 44.40h2.8v1.85h-2.8zM97.5 44.40h2.8v1.85h-2.8zM55.7 46.25h2.8v1.85h-2.8zM61.3 46.25h2.8v1.85h-2.8zM64.1 46.25h5.6v1.85h-5.6zM5.6 48.10h5.6v1.85h-5.6zM41.8 48.10h5.6v1.85h-5.6zM64.1 48.10h2.8v1.85h-2.8zM80.8 48.10h2.8v1.85h-2.8zM89.1 48.10h5.6v1.85h-5.6zM5.6 49.95h2.8v1.85h-2.8zM25.1 49.95h2.8v1.85h-2.8zM50.1 49.95h2.8v1.85h-2.8zM80.8 49.95h2.8v1.85h-2.8zM0.0 51.80h2.8v1.85h-2.8zM5.6 51.80h2.8v1.85h-2.8zM13.9 51.80h2.8v1.85h-2.8zM27.9 51.80h2.8v1.85h-2.8zM39.0 51.80h2.8v1.85h-2.8zM52.9 51.80h5.6v1.85h-5.6zM83.6 51.80h2.8v1.85h-2.8zM89.1 51.80h2.8v1.85h-2.8zM97.5 51.80h2.8v1.85h-2.8zM0.0 53.65h2.8v1.85h-2.8zM25.1 53.65h5.6v1.85h-5.6zM33.4 53.65h2.8v1.85h-2.8zM61.3 53.65h2.8v1.85h-2.8zM64.1 53.65h5.6v1.85h-5.6zM2.8 55.50h2.8v1.85h-2.8zM19.5 55.50h2.8v1.85h-2.8zM41.8 55.50h2.8v1.85h-2.8zM47.3 55.50h5.6v1.85h-5.6zM52.9 55.50h2.8v1.85h-2.8zM75.2 55.50h2.8v1.85h-2.8zM5.6 59.20h2.8v1.85h-2.8zM8.4 59.20h5.6v1.85h-5.6zM30.6 59.20h5.6v1.85h-5.6zM41.8 59.20h5.6v1.85h-5.6zM64.1 59.20h5.6v1.85h-5.6zM86.3 59.20h2.8v1.85h-2.8zM5.6 61.05h2.8v1.85h-2.8zM25.1 61.05h2.8v1.85h-2.8zM44.6 61.05h2.8v1.85h-2.8zM47.3 61.05h5.6v1.85h-5.6zM86.3 61.05h2.8v1.85h-2.8zM47.3 62.90h2.8v1.85h-2.8zM55.7 62.90h2.8v1.85h-2.8zM78.0 62.90h2.8v1.85h-2.8zM97.5 62.90h2.8v1.85h-2.8zM52.9 64.75h2.8v1.85h-2.8z"/>
<path fill="#8f8f8f" d="M25.1 0.00h2.8v1.85h-2.8zM22.3 1.85h2.8v1.85h-2.8zM27.9 1.85h5.6v1.85h-5.6zM50.1 1.85h5.6v1.85h-5.6zM55.7 1.85h2.8v1.85h-2.8zM66.8 1.85h2.8v1.85h-2.8zM75.2 1.85h2.8v1.85h-2.8zM83.6 1.85h5.6v1.85h-5.6zM2.8 3.70h2.8v1.85h-2.8zM69.6 3.70h2.8v1.85h-2.8zM75.2 3.70h2.8v1.85h-2.8zM86.3 3.70h2.8v1.85h-2.8zM8.4 5.55h2.8v1.85h-2.8zM11.1 5.55h2.8v1.85h-2.8zM27.9 5.55h5.6v1.85h-5.6zM33.4 5.55h2.8v1.85h-2.8zM55.7 5.55h2.8v1.85h-2.8zM72.4 5.55h2.8v1.85h-2.8zM97.5 5.55h2.8v1.85h-2.8zM8.4 7.40h2.8v1.85h-2.8zM30.6 9.25h2.8v1.85h-2.8zM55.7 9.25h2.8v1.85h-2.8zM86.3 9.25h5.6v1.85h-5.6zM55.7 11.10h5.6v1.85h-5.6zM86.3 11.10h2.8v1.85h-2.8zM61.3 12.95h2.8v1.85h-2.8zM36.2 14.80h2.8v1.85h-2.8zM80.8 14.80h5.6v1.85h-5.6zM5.6 16.65h2.8v1.85h-2.8zM27.9 16.65h5.6v1.85h-5.6zM64.1 16.65h2.8v1.85h-2.8zM97.5 16.65h2.8v1.85h-2.8zM2.8 18.50h2.8v1.85h-2.8zM25.1 18.50h2.8v1.85h-2.8zM47.3 18.50h5.6v1.85h-5.6zM52.9 18.50h2.8v1.85h-2.8zM89.1 18.50h2.8v1.85h-2.8zM94.7 18.50h2.8v1.85h-2.8zM33.4 20.35h2.8v1.85h-2.8zM64.1 20.35h5.6v1.85h-5.6zM8.4 22.20h5.6v1.85h-5.6zM19.5 22.20h5.6v1.85h-5.6zM8.4 24.05h2.8v1.85h-2.8zM16.7 24.05h2.8v1.85h-2.8zM44.6 24.05h5.6v1.85h-5.6zM52.9 24.05h2.8v1.85h-2.8zM75.2 24.05h5.6v1.85h-5.6zM69.6 25.90h2.8v1.85h-2.8zM0.0 27.75h2.8v1.85h-2.8zM25.1 27.75h2.8v1.85h-2.8zM78.0 27.75h2.8v1.85h-2.8zM86.3 27.75h2.8v1.85h-2.8zM97.5 27.75h2.8v1.85h-2.8zM2.8 29.60h2.8v1.85h-2.8zM13.9 29.60h5.6v1.85h-5.6zM41.8 29.60h2.8v1.85h-2.8zM97.5 29.60h2.8v1.85h-2.8zM41.8 31.45h2.8v1.85h-2.8zM44.6 31.45h2.8v1.85h-2.8zM47.3 31.45h2.8v1.85h-2.8zM58.5 31.45h5.6v1.85h-5.6zM66.8 31.45h5.6v1.85h-5.6zM97.5 31.45h2.8v1.85h-2.8zM13.9 33.30h2.8v1.85h-2.8zM44.6 33.30h5.6v1.85h-5.6zM86.3 33.30h5.6v1.85h-5.6zM97.5 33.30h2.8v1.85h-2.8zM25.1 35.15h2.8v1.85h-2.8zM86.3 35.15h5.6v1.85h-5.6zM0.0 37.00h5.6v1.85h-5.6zM86.3 37.00h2.8v1.85h-2.8zM89.1 37.00h5.6v1.85h-5.6zM22.3 38.85h2.8v1.85h-2.8zM13.9 40.70h2.8v1.85h-2.8zM16.7 40.70h2.8v1.85h-2.8zM0.0 42.55h2.8v1.85h-2.8zM19.5 42.55h2.8v1.85h-2.8zM66.8 44.40h2.8v1.85h-2.8zM8.4 46.25h5.6v1.85h-5.6zM30.6 46.25h2.8v1.85h-2.8zM66.8 48.10h2.8v1.85h-2.8zM97.5 48.10h2.8v1.85h-2.8zM52.9 49.95h5.6v1.85h-5.6zM75.2 49.95h5.6v1.85h-5.6zM16.7 51.80h2.8v1.85h-2.8zM25.1 51.80h2.8v1.85h-2.8zM58.5 51.80h2.8v1.85h-2.8zM5.6 55.50h5.6v1.85h-5.6zM13.9 55.50h2.8v1.85h-2.8zM55.7 55.50h5.6v1.85h-5.6zM61.3 55.50h2.8v1.85h-2.8zM86.3 55.50h2.8v1.85h-2.8zM89.1 55.50h2.8v1.85h-2.8zM94.7 55.50h5.6v1.85h-5.6zM13.9 57.35h5.6v1.85h-5.6zM22.3 57.35h2.8v1.85h-2.8zM55.7 57.35h5.6v1.85h-5.6zM61.3 57.35h2.8v1.85h-2.8zM64.1 57.35h5.6v1.85h-5.6zM69.6 57.35h2.8v1.85h-2.8zM83.6 57.35h5.6v1.85h-5.6zM94.7 57.35h5.6v1.85h-5.6zM80.8 59.20h5.6v1.85h-5.6zM91.9 59.20h2.8v1.85h-2.8zM8.4 61.05h2.8v1.85h-2.8zM11.1 61.05h2.8v1.85h-2.8zM27.9 61.05h2.8v1.85h-2.8zM33.4 61.05h5.6v1.85h-5.6zM83.6 61.05h2.8v1.85h-2.8zM0.0 62.90h5.6v1.85h-5.6zM13.9 62.90h2.8v1.85h-2.8zM69.6 62.90h2.8v1.85h-2.8zM72.4 62.90h5.6v1.85h-5.6zM80.8 62.90h2.8v1.85h-2.8zM30.6 64.75h2.8v1.85h-2.8zM55.7 64.75h2.8v1.85h-2.8zM91.9 64.75h2.8v1.85h-2.8z"/>
<path fill="#979797" d="M47.3 0.00h2.8v1.85h-2.8zM94.7 1.85h2.8v1.85h-2.8zM13.9 5.55h5.6v1.85h-5.6zM94.7 5.55h2.8v1.85h-2.8zM30.6 7.40h2.8v1.85h-2.8zM25.1 9.25h2.8v1.85h-2.8zM41.8 9.25h2.8v1.85h-2.8zM75.2 9.25h2.8v1.85h-2.8zM94.7 11.10h5.6v1.85h-5.6zM47.3 12.95h2.8v1.85h-2.8zM64.1 12.95h2.8v1.85h-2.8zM66.8 12.95h2.8v1.85h-2.8zM91.9 12.95h2.8v1.85h-2.8zM5.6 14.80h2.8v1.85h-2.8zM25.1 14.80h2.8v1.85h-2.8zM44.6 14.80h2.8v1.85h-2.8zM13.9 16.65h2.8v1.85h-2.8zM39.0 16.65h5.6v1.85h-5.6zM0.0 18.50h2.8v1.85h-2.8zM22.3 20.35h2.8v1.85h-2.8zM58.5 20.35h5.6v1.85h-5.6zM78.0 20.35h2.8v1.85h-2.8zM80.8 20.35h2.8v1.85h-2.8zM83.6 20.35h5.6v1.85h-5.6zM52.9 22.20h5.6v1.85h-5.6zM55.7 24.05h5.6v1.85h-5.6zM0.0 25.90h2.8v1.85h-2.8zM13.9 25.90h5.6v1.85h-5.6zM50.1 25.90h2.8v1.85h-2.8zM89.1 25.90h5.6v1.85h-5.6zM8.4 27.75h5.6v1.85h-5.6zM52.9 27.75h2.8v1.85h-2.8zM80.8 27.75h2.8v1.85h-2.8zM47.3 29.60h5.6v1.85h-5.6zM64.1 29.60h2.8v1.85h-2.8zM83.6 29.60h5.6v1.85h-5.6zM89.1 29.60h2.8v1.85h-2.8zM11.1 31.45h5.6v1.85h-5.6zM25.1 31.45h2.8v1.85h-2.8zM8.4 33.30h5.6v1.85h-5.6zM16.7 35.15h2.8v1.85h-2.8zM30.6 37.00h2.8v1.85h-2.8zM33.4 37.00h5.6v1.85h-5.6zM55.7 37.00h2.8v1.85h-2.8zM0.0 38.85h2.8v1.85h-2.8zM19.5 38.85h2.8v1.85h-2.8zM8.4 42.55h5.6v1.85h-5.6zM22.3 42.55h5.6v1.85h-5.6zM47.3 44.40h5.6v1.85h-5.6zM33.4 46.25h2.8v1.85h-2.8zM16.7 48.10h2.8v1.85h-2.8zM75.2 48.10h5.6v1.85h-5.6zM0.0 49.95h2.8v1.85h-2.8zM8.4 51.80h5.6v1.85h-5.6zM2.8 53.65h2.8v1.85h-2.8zM5.6 53.65h5.6v1.85h-5.6zM11.1 55.50h2.8v1.85h-2.8zM33.4 55.50h2.8v1.85h-2.8zM72.4 55.50h2.8v1.85h-2.8zM91.9 55.50h2.8v1.85h-2.8zM19.5 57.35h2.8v1.85h-2.8zM39.0 57.35h5.6v1.85h-5.6zM30.6 61.05h2.8v1.85h-2.8zM39.0 61.05h5.6v1.85h-5.6zM5.6 62.90h2.8v1.85h-2.8zM72.4 64.75h5.6v1.85h-5.6zM86.3 64.75h5.6v1.85h-5.6z"/>
<path fill="#9f9f9f" d="M25.1 1.85h2.8v1.85h-2.8zM64.1 5.55h2.8v1.85h-2.8zM5.6 7.40h2.8v1.85h-2.8zM22.3 7.40h2.8v1.85h-2.8zM36.2 9.25h5.6v1.85h-5.6zM44.6 12.95h2.8v1.85h-2.8zM50.1 16.65h2.8v1.85h-2.8zM94.7 16.65h2.8v1.85h-2.8zM13.9 22.20h2.8v1.85h-2.8zM50.1 24.05h2.8v1.85h-2.8zM66.8 25.90h2.8v1.85h-2.8zM80.8 25.90h2.8v1.85h-2.8zM19.5 31.45h2.8v1.85h-2.8zM47.3 37.00h2.8v1.85h-2.8zM2.8 38.85h5.6v1.85h-5.6zM69.6 42.55h2.8v1.85h-2.8zM22.3 48.10h2.8v1.85h-2.8zM91.9 49.95h5.6v1.85h-5.6zM97.5 49.95h2.8v1.85h-2.8zM50.1 62.90h5.6v1.85h-5.6zM69.6 64.75h2.8v1.85h-2.8z"/>
<path fill="#a7a7a7" d="M61.3 1.85h5.6v1.85h-5.6zM89.1 1.85h5.6v1.85h-5.6zM72.4 3.70h2.8v1.85h-2.8zM19.5 5.55h5.6v1.85h-5.6zM58.5 5.55h5.6v1.85h-5.6zM69.6 7.40h5.6v1.85h-5.6zM25.1 20.35h2.8v1.85h-2.8zM66.8 27.75h5.6v1.85h-5.6zM91.9 27.75h5.6v1.85h-5.6zM50.1 31.45h2.8v1.85h-2.8zM2.8 33.30h5.6v1.85h-5.6zM25.1 37.00h2.8v1.85h-2.8zM97.5 38.85h2.8v1.85h-2.8zM52.9 61.05h5.6v1.85h-5.6z"/>
<path fill="#afafaf" d="M91.9 33.30h2.8v1.85h-2.8z"/>
</pattern></defs>
<g clip-path="url(#clipspecB)"><g filter="url(#specB)">
<rect x="38.7" y="187" width="300.6" height="131.7" fill="#808080"/>
<path fill="#707070" d="M189.09 187h2.79v131.70h-2.79z"/>
<path fill="#727272" d="M211.37 187h2.79v131.70h-2.79zM242.00 187h2.79v131.70h-2.79z"/>
<path fill="#747474" d="M166.81 187h2.78v131.70h-2.78zM191.88 187h2.78v131.70h-2.78zM208.59 187h2.78v131.70h-2.78zM275.43 187h2.78v131.70h-2.78z"/>
<path fill="#767676" d="M113.90 187h2.78v131.70h-2.78zM169.60 187h2.78v131.70h-2.78zM214.16 187h2.78v131.70h-2.78zM239.22 187h2.79v131.70h-2.79zM278.21 187h2.79v131.70h-2.79z"/>
<path fill="#787878" d="M60.98 187h2.79v131.70h-2.79zM88.83 187h2.79v131.70h-2.79zM91.62 187h2.78v131.70h-2.78zM94.40 187h2.79v131.70h-2.79zM97.19 187h2.78v131.70h-2.78zM164.03 187h2.78v131.70h-2.78zM186.31 187h2.78v131.70h-2.78zM203.01 187h2.79v131.70h-2.79zM205.80 187h2.79v131.70h-2.79zM258.72 187h2.78v131.70h-2.78z"/>
<path fill="#7a7a7a" d="M38.70 187h2.78v131.70h-2.78zM74.91 187h2.78v131.70h-2.78zM99.97 187h2.78v131.70h-2.78zM111.11 187h2.78v131.70h-2.78zM194.66 187h2.79v131.70h-2.79zM255.93 187h2.79v131.70h-2.79zM292.13 187h2.79v131.70h-2.79zM325.56 187h2.78v131.70h-2.78zM328.34 187h2.78v131.70h-2.78z"/>
<path fill="#7c7c7c" d="M58.20 187h2.78v131.70h-2.78zM63.77 187h2.78v131.70h-2.78zM72.12 187h2.79v131.70h-2.79zM77.69 187h2.78v131.70h-2.78zM80.48 187h2.78v131.70h-2.78zM86.05 187h2.78v131.70h-2.78zM161.24 187h2.79v131.70h-2.79zM197.44 187h2.79v131.70h-2.79zM200.23 187h2.79v131.70h-2.79zM225.30 187h2.78v131.70h-2.78zM261.50 187h2.79v131.70h-2.79zM264.29 187h2.78v131.70h-2.78zM294.92 187h2.79v131.70h-2.79zM331.12 187h2.79v131.70h-2.79zM333.91 187h2.79v131.70h-2.79zM336.69 187h2.79v131.70h-2.79z"/>
<path fill="#7e7e7e" d="M172.38 187h2.78v131.70h-2.78zM222.51 187h2.78v131.70h-2.78zM244.79 187h2.79v131.70h-2.79zM267.07 187h2.79v131.70h-2.79zM272.64 187h2.79v131.70h-2.79zM289.35 187h2.79v131.70h-2.79zM297.70 187h2.79v131.70h-2.79zM300.49 187h2.79v131.70h-2.79z"/>
<path fill="#808080" d="M83.26 187h2.79v131.70h-2.79zM116.68 187h2.79v131.70h-2.79zM236.44 187h2.78v131.70h-2.78zM286.56 187h2.79v131.70h-2.79zM322.77 187h2.79v131.70h-2.79z"/>
<path fill="#818181" d="M41.48 187h2.79v131.70h-2.79zM55.41 187h2.79v131.70h-2.79zM69.34 187h2.78v131.70h-2.78zM108.33 187h2.78v131.70h-2.78zM125.04 187h2.78v131.70h-2.78zM141.75 187h2.78v131.70h-2.78zM144.53 187h2.79v131.70h-2.79zM253.15 187h2.78v131.70h-2.78zM281.00 187h2.78v131.70h-2.78zM303.27 187h2.79v131.70h-2.79z"/>
<path fill="#838383" d="M52.62 187h2.79v131.70h-2.79zM66.55 187h2.79v131.70h-2.79zM102.76 187h2.78v131.70h-2.78zM127.82 187h2.79v131.70h-2.79zM158.46 187h2.78v131.70h-2.78zM175.17 187h2.78v131.70h-2.78zM183.52 187h2.78v131.70h-2.78zM216.94 187h2.78v131.70h-2.78zM219.73 187h2.78v131.70h-2.78zM269.86 187h2.78v131.70h-2.78zM283.78 187h2.79v131.70h-2.79z"/>
<path fill="#858585" d="M119.47 187h2.78v131.70h-2.78zM122.25 187h2.79v131.70h-2.79zM155.67 187h2.79v131.70h-2.79zM180.74 187h2.78v131.70h-2.78zM228.08 187h2.78v131.70h-2.78zM319.99 187h2.78v131.70h-2.78z"/>
<path fill="#878787" d="M105.54 187h2.79v131.70h-2.79zM177.95 187h2.78v131.70h-2.78zM250.36 187h2.79v131.70h-2.79zM306.06 187h2.79v131.70h-2.79z"/>
<path fill="#898989" d="M49.84 187h2.78v131.70h-2.78zM130.61 187h2.78v131.70h-2.78zM138.96 187h2.79v131.70h-2.79zM147.31 187h2.79v131.70h-2.79zM152.88 187h2.79v131.70h-2.79zM233.65 187h2.79v131.70h-2.79zM247.57 187h2.79v131.70h-2.79zM308.85 187h2.78v131.70h-2.78z"/>
<path fill="#8b8b8b" d="M44.27 187h2.79v131.70h-2.79zM136.18 187h2.78v131.70h-2.78zM150.10 187h2.79v131.70h-2.79zM311.63 187h2.79v131.70h-2.79zM317.20 187h2.79v131.70h-2.79z"/>
<path fill="#8d8d8d" d="M47.06 187h2.78v131.70h-2.78zM133.39 187h2.78v131.70h-2.78zM314.42 187h2.78v131.70h-2.78z"/>
<path fill="#8f8f8f" d="M230.87 187h2.78v131.70h-2.78z"/>
<rect x="38.7" y="187" width="300.6" height="131.7" fill="url(#patspecB)" opacity="0.7"/>
<path fill="#858585" d="M97.2 274.7h2.8v2.5h-2.8zM105.5 271.9h2.8v2.3h-2.8zM255.9 296.8h5.6v2.0h-5.6z"/>
<path fill="#8a8a8a" d="M38.7 265.0h5.6v1.9h-5.6zM52.6 224.4h5.6v1.7h-5.6zM55.4 257.5h2.8v1.6h-2.8zM58.2 254.3h2.8v2.0h-2.8zM63.8 206.7h2.8v1.3h-2.8zM77.7 204.7h2.8v2.3h-2.8zM80.5 286.3h2.8v2.3h-2.8zM91.6 229.3h2.8v2.3h-2.8zM91.6 233.8h2.8v1.9h-2.8zM94.4 233.4h5.6v1.6h-5.6zM97.2 295.7h2.8v1.6h-2.8zM102.8 272.9h2.8v1.5h-2.8zM119.5 314.9h2.8v1.6h-2.8zM122.3 211.9h2.8v1.6h-2.8zM147.3 260.1h2.8v1.8h-2.8zM147.3 303.4h2.8v1.8h-2.8zM152.9 211.0h2.8v1.6h-2.8zM158.5 286.8h2.8v2.5h-2.8zM164.0 218.0h2.8v1.4h-2.8zM169.6 203.9h5.6v1.5h-5.6zM175.2 197.0h2.8v1.4h-2.8zM194.7 237.7h2.8v1.3h-2.8zM194.7 283.2h2.8v2.0h-2.8zM197.4 196.0h2.8v2.3h-2.8zM208.6 301.2h5.6v2.5h-5.6zM219.7 248.9h2.8v1.3h-2.8zM230.9 198.4h5.6v2.4h-5.6zM239.2 211.4h2.8v2.3h-2.8zM239.2 226.8h2.8v2.5h-2.8zM244.8 187.2h2.8v2.3h-2.8zM244.8 225.8h2.8v2.0h-2.8zM250.4 250.2h2.8v2.4h-2.8zM258.7 221.4h2.8v1.5h-2.8zM269.9 247.6h5.6v2.0h-5.6zM275.4 230.7h2.8v1.9h-2.8zM275.4 287.0h2.8v1.7h-2.8zM283.8 224.3h2.8v1.9h-2.8zM306.1 215.6h5.6v2.6h-5.6zM308.8 236.8h2.8v2.0h-2.8zM320.0 225.2h2.8v1.7h-2.8zM331.1 222.8h5.6v1.5h-5.6z"/>
<path fill="#8f8f8f" d="M49.8 314.1h2.8v1.9h-2.8zM86.0 242.2h2.8v2.5h-2.8zM88.8 289.9h2.8v1.5h-2.8zM91.6 267.6h2.8v1.6h-2.8zM94.4 188.5h5.6v2.4h-5.6zM94.4 199.3h2.8v1.4h-2.8zM97.2 307.0h5.6v2.4h-5.6zM113.9 261.1h2.8v2.4h-2.8zM122.3 203.5h5.6v2.4h-5.6zM147.3 260.4h2.8v1.5h-2.8zM147.3 268.3h2.8v1.8h-2.8zM164.0 286.1h2.8v1.9h-2.8zM177.9 206.9h2.8v2.1h-2.8zM177.9 302.5h5.6v2.3h-5.6zM186.3 291.6h2.8v1.6h-2.8zM197.4 191.9h5.6v2.2h-5.6zM197.4 268.9h2.8v1.7h-2.8zM200.2 229.0h5.6v1.6h-5.6zM203.0 192.2h2.8v2.5h-2.8zM205.8 278.8h2.8v2.0h-2.8zM211.4 226.1h5.6v1.7h-5.6zM214.2 247.5h2.8v2.5h-2.8zM219.7 206.2h2.8v2.3h-2.8zM219.7 219.2h2.8v1.7h-2.8zM222.5 211.2h5.6v1.2h-5.6zM236.4 252.9h2.8v1.7h-2.8zM239.2 213.7h2.8v2.1h-2.8zM250.4 258.5h2.8v1.2h-2.8zM269.9 208.2h2.8v1.8h-2.8zM281.0 209.1h2.8v1.8h-2.8zM286.6 209.8h5.6v1.6h-5.6zM286.6 288.9h5.6v2.3h-5.6zM300.5 197.2h2.8v2.5h-2.8zM300.5 264.4h5.6v1.3h-5.6zM308.8 249.4h5.6v1.9h-5.6zM314.4 216.8h5.6v1.8h-5.6zM333.9 199.5h2.8v2.0h-2.8z"/>
<path fill="#959595" d="M38.7 193.9h2.8v1.7h-2.8zM38.7 233.4h5.6v2.2h-5.6zM55.4 288.8h2.8v2.5h-2.8zM66.6 254.2h2.8v1.2h-2.8zM69.3 275.1h2.8v1.9h-2.8zM77.7 204.9h2.8v1.7h-2.8zM86.0 303.2h2.8v1.8h-2.8zM94.4 313.7h2.8v2.3h-2.8zM100.0 261.5h2.8v1.7h-2.8zM125.0 316.1h2.8v1.4h-2.8zM130.6 221.4h5.6v1.3h-5.6zM141.7 232.2h2.8v1.6h-2.8zM144.5 235.8h2.8v2.0h-2.8zM203.0 200.3h5.6v1.4h-5.6zM203.0 233.6h5.6v2.2h-5.6zM216.9 206.7h2.8v1.5h-2.8zM242.0 290.6h5.6v1.3h-5.6zM244.8 269.3h2.8v2.3h-2.8zM253.1 309.1h5.6v1.2h-5.6zM267.1 307.5h5.6v1.7h-5.6zM272.6 208.4h2.8v2.1h-2.8zM275.4 250.2h2.8v2.4h-2.8zM281.0 307.1h2.8v2.4h-2.8zM283.8 221.1h2.8v2.5h-2.8zM286.6 202.6h2.8v1.8h-2.8zM286.6 257.4h5.6v1.5h-5.6zM292.1 210.7h2.8v1.5h-2.8zM300.5 255.4h2.8v1.5h-2.8zM300.5 309.7h5.6v2.2h-5.6zM303.3 303.1h2.8v2.1h-2.8zM308.8 229.5h2.8v1.3h-2.8zM317.2 224.1h2.8v2.0h-2.8zM322.8 261.1h2.8v1.7h-2.8zM333.9 262.2h2.8v2.5h-2.8z"/>
<path fill="#9a9a9a" d="M41.5 251.8h2.8v2.0h-2.8zM44.3 188.4h2.8v1.4h-2.8zM44.3 294.6h2.8v1.9h-2.8zM52.6 277.4h5.6v2.2h-5.6zM52.6 308.9h2.8v1.5h-2.8zM91.6 193.8h5.6v1.4h-5.6zM94.4 207.9h5.6v1.3h-5.6zM102.8 314.3h5.6v1.3h-5.6zM108.3 233.3h2.8v2.6h-2.8zM113.9 188.3h2.8v2.1h-2.8zM113.9 222.9h5.6v2.5h-5.6zM130.6 204.0h2.8v1.5h-2.8zM133.4 203.2h2.8v1.3h-2.8zM136.2 206.3h5.6v1.3h-5.6zM136.2 212.9h5.6v1.5h-5.6zM139.0 204.2h2.8v1.8h-2.8zM139.0 273.7h2.8v1.2h-2.8zM141.7 235.4h2.8v1.4h-2.8zM155.7 309.6h2.8v2.1h-2.8zM169.6 306.9h2.8v1.9h-2.8zM177.9 233.0h2.8v1.7h-2.8zM186.3 301.2h2.8v2.1h-2.8zM197.4 247.8h2.8v1.6h-2.8zM250.4 209.1h2.8v1.3h-2.8zM255.9 266.6h2.8v1.4h-2.8zM255.9 298.0h2.8v2.4h-2.8zM255.9 311.8h2.8v1.2h-2.8zM267.1 266.7h5.6v2.1h-5.6zM267.1 313.1h2.8v1.6h-2.8zM278.2 212.8h2.8v2.6h-2.8zM294.9 217.8h2.8v2.3h-2.8zM294.9 304.1h5.6v2.6h-5.6zM294.9 312.9h5.6v1.5h-5.6zM308.8 193.4h2.8v1.8h-2.8zM314.4 289.1h2.8v1.7h-2.8z"/>
<path fill="#8f8f8f" d="M139.0 227.1h5.6v1.3h-5.6zM141.7 219.4h5.6v1.4h-5.6zM141.7 219.7h5.6v2.5h-5.6z"/>
<path fill="#959595" d="M139.0 198.7h2.8v2.5h-2.8zM139.0 199.2h2.8v1.4h-2.8zM139.0 199.9h2.8v2.5h-2.8zM139.0 205.3h5.6v1.7h-5.6zM139.0 206.7h2.8v1.7h-2.8zM139.0 212.9h2.8v1.7h-2.8zM139.0 219.5h5.6v1.9h-5.6zM139.0 221.1h2.8v1.2h-2.8zM141.7 190.4h2.8v2.0h-2.8z"/>
<path fill="#9a9a9a" d="M139.0 192.9h2.8v1.3h-2.8zM139.0 198.7h5.6v2.4h-5.6zM139.0 227.4h2.8v2.2h-2.8zM141.7 200.3h2.8v2.4h-2.8zM141.7 204.7h2.8v2.4h-2.8zM141.7 207.9h5.6v1.5h-5.6zM141.7 214.2h2.8v2.2h-2.8zM141.7 219.4h2.8v1.7h-2.8zM141.7 219.7h5.6v2.4h-5.6zM141.7 221.2h5.6v1.7h-5.6zM141.7 223.1h2.8v1.4h-2.8zM141.7 224.0h2.8v1.4h-2.8z"/>
<path fill="#9f9f9f" d="M139.0 189.8h2.8v1.8h-2.8zM139.0 199.5h2.8v1.5h-2.8zM139.0 202.9h5.6v2.1h-5.6zM139.0 219.5h5.6v1.7h-5.6zM141.7 187.1h5.6v2.0h-5.6zM141.7 196.0h2.8v1.3h-2.8zM141.7 200.8h5.6v1.3h-5.6z"/>
<path fill="#a5a5a5" d="M139.0 217.7h2.8v2.1h-2.8zM141.7 189.9h5.6v1.5h-5.6zM141.7 202.1h2.8v1.4h-2.8zM141.7 226.3h5.6v2.1h-5.6z"/>
<path fill="#aaaaaa" d="M139.0 189.4h5.6v2.1h-5.6zM139.0 194.1h2.8v2.1h-2.8zM139.0 194.7h5.6v1.4h-5.6zM139.0 197.7h2.8v2.1h-2.8zM139.0 223.8h2.8v2.1h-2.8zM141.7 218.8h2.8v2.2h-2.8z"/>
<path fill="#afafaf" d="M139.0 200.5h2.8v2.4h-2.8zM139.0 207.1h2.8v1.7h-2.8zM139.0 217.1h5.6v1.4h-5.6zM141.7 189.6h5.6v1.5h-5.6zM141.7 199.5h5.6v2.2h-5.6zM141.7 202.7h2.8v1.9h-2.8zM141.7 205.6h2.8v1.9h-2.8z"/>
<path fill="#8f8f8f" d="M147.3 187.2h2.8v2.4h-2.8zM147.3 213.7h2.8v1.9h-2.8zM147.3 219.5h2.8v2.1h-2.8zM150.1 210.5h2.8v1.2h-2.8zM150.1 213.3h5.6v2.4h-5.6z"/>
<path fill="#959595" d="M147.3 213.0h2.8v1.9h-2.8zM150.1 210.3h2.8v1.4h-2.8zM150.1 212.9h2.8v1.3h-2.8z"/>
<path fill="#9a9a9a" d="M147.3 220.0h2.8v1.6h-2.8zM150.1 206.9h2.8v1.6h-2.8zM150.1 221.2h2.8v2.2h-2.8z"/>
<path fill="#9f9f9f" d="M147.3 197.0h2.8v2.6h-2.8zM147.3 199.6h2.8v2.3h-2.8zM147.3 202.4h2.8v1.4h-2.8zM147.3 211.9h2.8v1.7h-2.8zM147.3 213.2h2.8v2.0h-2.8zM147.3 215.8h2.8v2.4h-2.8zM147.3 219.3h2.8v2.2h-2.8zM150.1 187.2h5.6v2.5h-5.6z"/>
<path fill="#a5a5a5" d="M147.3 213.4h5.6v2.5h-5.6zM150.1 199.9h2.8v2.5h-2.8zM150.1 202.2h5.6v2.0h-5.6zM150.1 207.0h5.6v2.4h-5.6zM150.1 218.3h5.6v2.1h-5.6zM150.1 218.5h2.8v2.1h-2.8z"/>
<path fill="#aaaaaa" d="M147.3 218.7h2.8v2.1h-2.8zM150.1 190.3h2.8v1.2h-2.8zM150.1 209.0h2.8v2.3h-2.8zM150.1 211.5h2.8v1.3h-2.8z"/>
<path fill="#8f8f8f" d="M169.6 215.7h5.6v1.5h-5.6z"/>
<path fill="#959595" d="M166.8 188.0h2.8v1.3h-2.8zM166.8 199.2h2.8v2.4h-2.8zM166.8 212.6h5.6v1.5h-5.6zM166.8 217.1h2.8v2.1h-2.8zM169.6 211.0h2.8v2.5h-2.8zM169.6 215.8h2.8v2.0h-2.8z"/>
<path fill="#9a9a9a" d="M166.8 189.3h2.8v1.7h-2.8zM166.8 206.5h2.8v1.8h-2.8zM166.8 213.8h5.6v2.3h-5.6zM166.8 219.2h2.8v1.8h-2.8zM169.6 199.0h5.6v2.2h-5.6zM169.6 200.9h5.6v2.0h-5.6zM169.6 205.5h5.6v1.4h-5.6zM169.6 209.9h5.6v1.5h-5.6z"/>
<path fill="#9f9f9f" d="M166.8 190.4h5.6v1.8h-5.6zM166.8 202.7h5.6v1.6h-5.6zM166.8 205.3h2.8v1.2h-2.8zM166.8 217.1h5.6v1.7h-5.6zM169.6 214.1h2.8v2.3h-2.8z"/>
<path fill="#a5a5a5" d="M166.8 217.3h5.6v2.5h-5.6zM169.6 199.6h2.8v1.8h-2.8zM169.6 200.0h2.8v1.7h-2.8zM169.6 215.1h5.6v2.3h-5.6z"/>
<path fill="#aaaaaa" d="M166.8 198.7h2.8v2.4h-2.8zM166.8 199.9h2.8v1.7h-2.8zM166.8 212.6h2.8v1.8h-2.8z"/>
<rect x="247.5" y="226" width="2.8" height="36" fill="#8f8f8f" filter="url(#soft)"/>
<path fill="#959595" d="M247.6 227.3h2.8v2.6h-2.8zM247.6 232.8h2.8v2.3h-2.8zM247.6 248.3h2.8v2.0h-2.8zM247.6 259.0h2.8v2.3h-2.8z"/>
<path fill="#9a9a9a" d="M247.6 232.9h2.8v1.6h-2.8zM247.6 256.2h2.8v2.5h-2.8zM247.6 256.9h2.8v2.0h-2.8zM247.6 256.9h2.8v2.1h-2.8zM247.6 260.8h2.8v1.5h-2.8z"/>
<path fill="#9f9f9f" d="M247.6 225.0h5.6v2.2h-5.6zM247.6 232.1h2.8v2.2h-2.8zM247.6 249.6h2.8v2.3h-2.8zM247.6 255.1h2.8v1.9h-2.8zM247.6 257.6h2.8v1.7h-2.8z"/>
<path fill="#a5a5a5" d="M247.6 229.7h2.8v1.5h-2.8zM247.6 240.6h2.8v1.3h-2.8z"/>
<path fill="#aaaaaa" d="M247.6 237.0h2.8v2.6h-2.8zM247.6 256.9h2.8v2.1h-2.8z"/>
<path fill="#afafaf" d="M247.6 235.0h2.8v1.9h-2.8zM247.6 236.4h5.6v1.7h-5.6zM247.6 240.9h2.8v1.9h-2.8zM247.6 241.7h2.8v1.8h-2.8z"/>
<rect x="238" y="270.8" width="23" height="3.6" fill="#adadad" filter="url(#soft)"/>
<path fill="#8f8f8f" d="M219.7 308.1h2.8v1.6h-2.8z"/>
<path fill="#959595" d="M216.9 310.3h5.6v2.1h-5.6zM225.3 315.0h2.8v2.3h-2.8zM225.3 317.7h2.8v1.2h-2.8zM233.7 310.6h2.8v1.8h-2.8z"/>
<path fill="#9a9a9a" d="M216.9 300.6h2.8v1.6h-2.8zM228.1 298.6h2.8v1.7h-2.8z"/>
<path fill="#9f9f9f" d="M211.4 298.1h2.8v1.6h-2.8zM216.9 303.2h2.8v2.2h-2.8zM230.9 304.1h2.8v1.4h-2.8zM230.9 305.7h2.8v1.3h-2.8z"/>
<path fill="#8a8a8a" d="M247.6 291.0h2.8v1.7h-2.8zM261.5 314.5h2.8v1.5h-2.8z"/>
<path fill="#8f8f8f" d="M247.6 305.1h5.6v1.8h-5.6zM247.6 308.6h2.8v1.4h-2.8zM250.4 316.7h2.8v1.7h-2.8zM261.5 302.0h2.8v1.9h-2.8z"/>
<path fill="#959595" d="M250.4 293.2h2.8v1.3h-2.8zM253.1 306.5h2.8v1.7h-2.8z"/>
<path fill="#9a9a9a" d="M244.8 301.8h2.8v2.1h-2.8zM244.8 302.2h2.8v2.5h-2.8z"/>
<path fill="#9f9f9f" d="M258.7 313.8h2.8v1.5h-2.8zM264.3 307.6h2.8v1.7h-2.8z"/>
<path fill="#8a8a8a" d="M119.5 250.3h5.6v1.2h-5.6zM119.5 276.7h2.8v1.4h-2.8z"/>
<path fill="#8f8f8f" d="M113.9 239.4h5.6v2.4h-5.6zM113.9 253.7h5.6v2.6h-5.6zM113.9 293.5h5.6v2.5h-5.6zM116.7 287.8h2.8v2.0h-2.8zM116.7 291.5h2.8v1.9h-2.8zM119.5 272.9h5.6v2.1h-5.6zM119.5 291.3h5.6v1.9h-5.6zM122.3 230.3h2.8v2.5h-2.8zM122.3 289.0h2.8v2.2h-2.8zM122.3 290.5h2.8v2.6h-2.8zM125.0 228.7h5.6v1.9h-5.6zM125.0 234.8h2.8v1.3h-2.8zM125.0 277.9h5.6v2.3h-5.6zM125.0 297.2h2.8v2.4h-2.8z"/>
<path fill="#959595" d="M113.9 229.1h2.8v2.3h-2.8zM113.9 256.1h2.8v2.6h-2.8zM113.9 297.3h2.8v1.5h-2.8zM116.7 266.5h2.8v2.6h-2.8zM119.5 228.5h2.8v2.0h-2.8zM119.5 230.6h2.8v2.2h-2.8zM119.5 253.0h2.8v2.5h-2.8zM119.5 258.6h2.8v1.3h-2.8zM122.3 225.3h5.6v2.3h-5.6zM122.3 247.8h2.8v2.4h-2.8zM125.0 260.9h5.6v1.8h-5.6zM127.8 258.5h2.8v2.4h-2.8zM127.8 274.2h2.8v1.6h-2.8z"/>
<path fill="#9a9a9a" d="M116.7 247.6h2.8v1.9h-2.8zM116.7 263.5h2.8v2.1h-2.8zM119.5 228.9h2.8v1.3h-2.8zM119.5 281.6h5.6v1.5h-5.6zM119.5 284.2h2.8v1.6h-2.8zM119.5 294.3h2.8v1.5h-2.8zM119.5 299.2h2.8v1.3h-2.8zM122.3 269.8h5.6v1.2h-5.6zM122.3 274.4h2.8v2.2h-2.8zM125.0 232.5h5.6v1.4h-5.6zM127.8 264.0h2.8v1.8h-2.8z"/>
<path fill="#9f9f9f" d="M119.5 240.8h2.8v1.7h-2.8zM125.0 287.0h5.6v2.2h-5.6z"/>
</g>
<line x1="38.7" y1="252.75" x2="339.3" y2="252.75" stroke="#1a50cc" stroke-width="1.3" opacity="0.85"/>
<line x1="62.2" y1="187" x2="62.2" y2="318.7" stroke="#f01818" stroke-width="2.1" stroke-dasharray="6 1.6 2.4 1.6" stroke-dashoffset="10.55"/>
<line x1="87.3" y1="187" x2="87.3" y2="318.7" stroke="#f01818" stroke-width="2.1" stroke-dasharray="6 1.6 2.4 1.6" stroke-dashoffset="10.55"/>
<line x1="112.3" y1="187" x2="112.3" y2="318.7" stroke="#f01818" stroke-width="2.1" stroke-dasharray="6 1.6 2.4 1.6" stroke-dashoffset="10.55"/>
<line x1="137.4" y1="187" x2="137.4" y2="318.7" stroke="#f01818" stroke-width="2.1" stroke-dasharray="6 1.6 2.4 1.6" stroke-dashoffset="10.55"/>
<line x1="162.4" y1="187" x2="162.4" y2="318.7" stroke="#f01818" stroke-width="2.1" stroke-dasharray="6 1.6 2.4 1.6" stroke-dashoffset="10.55"/>
<line x1="187.5" y1="187" x2="187.5" y2="318.7" stroke="#f01818" stroke-width="2.1" stroke-dasharray="6 1.6 2.4 1.6" stroke-dashoffset="10.55"/>
<line x1="212.6" y1="187" x2="212.6" y2="318.7" stroke="#f01818" stroke-width="2.1" stroke-dasharray="6 1.6 2.4 1.6" stroke-dashoffset="10.55"/>
<line x1="237.6" y1="187" x2="237.6" y2="318.7" stroke="#f01818" stroke-width="2.1" stroke-dasharray="6 1.6 2.4 1.6" stroke-dashoffset="10.55"/>
<line x1="262.6" y1="187" x2="262.6" y2="318.7" stroke="#f01818" stroke-width="2.1" stroke-dasharray="6 1.6 2.4 1.6" stroke-dashoffset="10.55"/>
<line x1="287.7" y1="187" x2="287.7" y2="318.7" stroke="#f01818" stroke-width="2.1" stroke-dasharray="6 1.6 2.4 1.6" stroke-dashoffset="10.55"/>
<line x1="312.8" y1="187" x2="312.8" y2="318.7" stroke="#f01818" stroke-width="2.1" stroke-dasharray="6 1.6 2.4 1.6" stroke-dashoffset="10.55"/>
</g>
<rect x="38.7" y="187" width="300.6" height="131.7" fill="none" stroke="#262626" stroke-width="1.4"/>
<line x1="62.2" y1="187" x2="62.2" y2="190" stroke="#262626" stroke-width="1"/>
<line x1="62.2" y1="318.7" x2="62.2" y2="315.7" stroke="#262626" stroke-width="1"/>
<text x="62.2" y="333.2" font-size="10" font-weight="bold" fill="#262626" text-anchor="middle">9</text>
<line x1="87.3" y1="187" x2="87.3" y2="190" stroke="#262626" stroke-width="1"/>
<line x1="87.3" y1="318.7" x2="87.3" y2="315.7" stroke="#262626" stroke-width="1"/>
<text x="87.3" y="333.2" font-size="10" font-weight="bold" fill="#262626" text-anchor="middle">18</text>
<line x1="112.3" y1="187" x2="112.3" y2="190" stroke="#262626" stroke-width="1"/>
<line x1="112.3" y1="318.7" x2="112.3" y2="315.7" stroke="#262626" stroke-width="1"/>
<text x="112.3" y="333.2" font-size="10" font-weight="bold" fill="#262626" text-anchor="middle">27</text>
<line x1="137.4" y1="187" x2="137.4" y2="190" stroke="#262626" stroke-width="1"/>
<line x1="137.4" y1="318.7" x2="137.4" y2="315.7" stroke="#262626" stroke-width="1"/>
<text x="137.4" y="333.2" font-size="10" font-weight="bold" fill="#262626" text-anchor="middle">36</text>
<line x1="162.4" y1="187" x2="162.4" y2="190" stroke="#262626" stroke-width="1"/>
<line x1="162.4" y1="318.7" x2="162.4" y2="315.7" stroke="#262626" stroke-width="1"/>
<text x="162.4" y="333.2" font-size="10" font-weight="bold" fill="#262626" text-anchor="middle">45</text>
<line x1="187.5" y1="187" x2="187.5" y2="190" stroke="#262626" stroke-width="1"/>
<line x1="187.5" y1="318.7" x2="187.5" y2="315.7" stroke="#262626" stroke-width="1"/>
<text x="187.5" y="333.2" font-size="10" font-weight="bold" fill="#262626" text-anchor="middle">54</text>
<line x1="212.6" y1="187" x2="212.6" y2="190" stroke="#262626" stroke-width="1"/>
<line x1="212.6" y1="318.7" x2="212.6" y2="315.7" stroke="#262626" stroke-width="1"/>
<text x="212.6" y="333.2" font-size="10" font-weight="bold" fill="#262626" text-anchor="middle">63</text>
<line x1="237.6" y1="187" x2="237.6" y2="190" stroke="#262626" stroke-width="1"/>
<line x1="237.6" y1="318.7" x2="237.6" y2="315.7" stroke="#262626" stroke-width="1"/>
<text x="237.6" y="333.2" font-size="10" font-weight="bold" fill="#262626" text-anchor="middle">72</text>
<line x1="262.6" y1="187" x2="262.6" y2="190" stroke="#262626" stroke-width="1"/>
<line x1="262.6" y1="318.7" x2="262.6" y2="315.7" stroke="#262626" stroke-width="1"/>
<text x="262.6" y="333.2" font-size="10" font-weight="bold" fill="#262626" text-anchor="middle">81</text>
<line x1="287.7" y1="187" x2="287.7" y2="190" stroke="#262626" stroke-width="1"/>
<line x1="287.7" y1="318.7" x2="287.7" y2="315.7" stroke="#262626" stroke-width="1"/>
<text x="287.7" y="333.2" font-size="10" font-weight="bold" fill="#262626" text-anchor="middle">90</text>
<line x1="312.8" y1="187" x2="312.8" y2="190" stroke="#262626" stroke-width="1"/>
<line x1="312.8" y1="318.7" x2="312.8" y2="315.7" stroke="#262626" stroke-width="1"/>
<text x="312.8" y="333.2" font-size="10" font-weight="bold" fill="#262626" text-anchor="middle">99</text>
<line x1="38.7" y1="211.8" x2="41.7" y2="211.8" stroke="#262626" stroke-width="1"/>
<line x1="339.3" y1="211.8" x2="336.3" y2="211.8" stroke="#262626" stroke-width="1"/>
<text x="33.5" y="216.8" font-size="10" font-weight="bold" fill="#262626" text-anchor="end">-20</text>
<line x1="38.7" y1="252.8" x2="41.7" y2="252.8" stroke="#262626" stroke-width="1"/>
<line x1="339.3" y1="252.8" x2="336.3" y2="252.8" stroke="#262626" stroke-width="1"/>
<text x="33.5" y="257.8" font-size="10" font-weight="bold" fill="#262626" text-anchor="end">0</text>
<line x1="38.7" y1="293.6" x2="41.7" y2="293.6" stroke="#262626" stroke-width="1"/>
<line x1="339.3" y1="293.6" x2="336.3" y2="293.6" stroke="#262626" stroke-width="1"/>
<text x="33.5" y="298.6" font-size="10" font-weight="bold" fill="#262626" text-anchor="end">20</text>
<rect x="312.7" y="195.5" width="23.3" height="11.8" fill="#fff"/><text x="324.3" y="205.8" font-size="12.5" font-weight="bold" text-anchor="middle" fill="#111" stroke="#111" stroke-width="0.4">H</text>
<circle cx="211.9" cy="182.8" r="0.9" fill="#555"/>
<circle cx="238.5" cy="182.8" r="0.9" fill="#555"/>
<circle cx="263.3" cy="182.8" r="0.9" fill="#555"/>
<text y="21.4" font-size="11.7" font-weight="bold" fill="#1a1a1a" stroke="#1a1a1a" stroke-width="0.2"><tspan x="79.6" textLength="76" lengthAdjust="spacing">02-Nov-2016</tspan> <tspan x="159.2" textLength="109.6" lengthAdjust="spacing">16:55:59 (37.2,14.2)</tspan></text>
<text transform="translate(19.4,80.3) rotate(-90)" font-size="19.2" text-anchor="middle" fill="#111">MHz</text>
<rect x="349.1" y="26" width="22.7" height="132" fill="url(#cbar)" stroke="#262626" stroke-width="1.2"/>
<line x1="371.8" y1="155.0" x2="369" y2="155.0" stroke="#262626" stroke-width="1"/>
<text x="375.3" y="158.2" font-size="9" font-weight="bold" fill="#262626">0.4</text>
<line x1="371.8" y1="135.8" x2="369" y2="135.8" stroke="#262626" stroke-width="1"/>
<text x="375.3" y="139.0" font-size="9" font-weight="bold" fill="#262626">0.6</text>
<line x1="371.8" y1="116.6" x2="369" y2="116.6" stroke="#262626" stroke-width="1"/>
<text x="375.3" y="119.8" font-size="9" font-weight="bold" fill="#262626">0.8</text>
<line x1="371.8" y1="97.3" x2="369" y2="97.3" stroke="#262626" stroke-width="1"/>
<text x="375.3" y="100.5" font-size="9" font-weight="bold" fill="#262626">1</text>
<line x1="371.8" y1="78.1" x2="369" y2="78.1" stroke="#262626" stroke-width="1"/>
<text x="375.3" y="81.3" font-size="9" font-weight="bold" fill="#262626">1.2</text>
<line x1="371.8" y1="58.9" x2="369" y2="58.9" stroke="#262626" stroke-width="1"/>
<text x="375.3" y="62.1" font-size="9" font-weight="bold" fill="#262626">1.4</text>
<line x1="371.8" y1="39.7" x2="369" y2="39.7" stroke="#262626" stroke-width="1"/>
<text x="375.3" y="42.9" font-size="9" font-weight="bold" fill="#262626">1.6</text>
<ellipse cx="142.7" cy="53.6" rx="13.1" ry="25.799999999999997" fill="none" stroke="#1a2424" stroke-width="1.3"/>
<ellipse cx="146.7" cy="154.5" rx="18.099999999999998" ry="18.7" fill="none" stroke="#1a2424" stroke-width="1.3"/>
<ellipse cx="228" cy="143.3" rx="21.2" ry="29.9" fill="none" stroke="#1a2424" stroke-width="1.3"/>
<ellipse cx="155.6" cy="206.4" rx="32.1" ry="21.2" fill="none" stroke="#1a2424" stroke-width="1.3"/>
<ellipse cx="250.5" cy="273.4" rx="23.7" ry="11.200000000000001" fill="none" stroke="#1a2424" stroke-width="1.3"/>
<ellipse cx="247.8" cy="81" rx="14.6" ry="36.4" fill="none" stroke="#f5b99c" stroke-width="3"/>
<line x1="394.4" y1="20" x2="394.4" y2="67" stroke="#f5b99c" stroke-width="1.5"/>
<line x1="392.6" y1="80" x2="392.6" y2="130" stroke="#6a8acb" stroke-width="1.4"/>
<rect x="401.6" y="22.7" width="128" height="41.3" fill="#fbe5d6" stroke="#f6bfa0" stroke-width="1.4"/>
<rect x="401.6" y="83.1" width="128" height="44.2" fill="#dce5f4" stroke="#7590c8" stroke-width="1.4"/>
<text x="465.6" y="39.9" font-size="14.8" fill="#262626" stroke="#262626" stroke-width="0.35" text-anchor="middle">Pulsed, wide</text><text x="465.6" y="57.3" font-size="14.8" fill="#262626" stroke="#262626" stroke-width="0.35" text-anchor="middle">bandwidth</text>
<text x="465.6" y="102" font-size="14.8" fill="#262626" stroke="#262626" stroke-width="0.35" text-anchor="middle">Continuous,</text><text x="465.6" y="120" font-size="14.8" fill="#262626" stroke="#262626" stroke-width="0.35" text-anchor="middle">small bandwidth</text>
<line x1="263.5" y1="78.8" x2="401.6" y2="43.2" stroke="#f5b99c" stroke-width="3"/>
<clipPath id="outB"><path clip-rule="evenodd" d="M0 0H550V529H0Z M38.7 187H339.3V318.7H38.7Z"/></clipPath><clipPath id="inB"><rect x="38.7" y="187" width="300.6" height="131.7"/></clipPath>
<line x1="391.8" y1="100.9" x2="267.2" y2="262.9" stroke="#4472c4" stroke-width="3.4" clip-path="url(#outB)"/>
<line x1="391.8" y1="100.9" x2="267.4" y2="263.6" stroke="#4a5cc8" stroke-width="2.6" opacity="0.8" clip-path="url(#inB)"/>
<line x1="74.7" y1="363.6" x2="74.7" y2="495.6" stroke="#e4e4e4" stroke-width="1"/>
<line x1="124.8" y1="363.6" x2="124.8" y2="495.6" stroke="#e4e4e4" stroke-width="1"/>
<line x1="175.0" y1="363.6" x2="175.0" y2="495.6" stroke="#e4e4e4" stroke-width="1"/>
<line x1="225.1" y1="363.6" x2="225.1" y2="495.6" stroke="#e4e4e4" stroke-width="1"/>
<line x1="275.3" y1="363.6" x2="275.3" y2="495.6" stroke="#e4e4e4" stroke-width="1"/>
<line x1="325.5" y1="363.6" x2="325.5" y2="495.6" stroke="#e4e4e4" stroke-width="1"/>
<line x1="36.8" y1="462.6" x2="338" y2="462.6" stroke="#e4e4e4" stroke-width="1"/>
<line x1="36.8" y1="429.6" x2="338" y2="429.6" stroke="#e4e4e4" stroke-width="1"/>
<line x1="36.8" y1="396.6" x2="338" y2="396.6" stroke="#e4e4e4" stroke-width="1"/>
<path d="M36.8 363.6 H338 V495.6 H36.8 Z" fill="none" stroke="#4d4d4d" stroke-width="1.5"/>
<line x1="74.7" y1="495.6" x2="74.7" y2="492.6" stroke="#4d4d4d"/><line x1="74.7" y1="363.6" x2="74.7" y2="366.6" stroke="#4d4d4d"/>
<text x="74.7" y="512.1" font-size="10.5" font-weight="bold" fill="#262626" text-anchor="middle">2</text>
<line x1="124.8" y1="495.6" x2="124.8" y2="492.6" stroke="#4d4d4d"/><line x1="124.8" y1="363.6" x2="124.8" y2="366.6" stroke="#4d4d4d"/>
<text x="124.8" y="512.1" font-size="10.5" font-weight="bold" fill="#262626" text-anchor="middle">4</text>
<line x1="175.0" y1="495.6" x2="175.0" y2="492.6" stroke="#4d4d4d"/><line x1="175.0" y1="363.6" x2="175.0" y2="366.6" stroke="#4d4d4d"/>
<text x="175.0" y="512.1" font-size="10.5" font-weight="bold" fill="#262626" text-anchor="middle">6</text>
<line x1="225.1" y1="495.6" x2="225.1" y2="492.6" stroke="#4d4d4d"/><line x1="225.1" y1="363.6" x2="225.1" y2="366.6" stroke="#4d4d4d"/>
<text x="225.1" y="512.1" font-size="10.5" font-weight="bold" fill="#262626" text-anchor="middle">8</text>
<line x1="275.3" y1="495.6" x2="275.3" y2="492.6" stroke="#4d4d4d"/><line x1="275.3" y1="363.6" x2="275.3" y2="366.6" stroke="#4d4d4d"/>
<text x="275.3" y="512.1" font-size="10.5" font-weight="bold" fill="#262626" text-anchor="middle">10</text>
<line x1="325.5" y1="495.6" x2="325.5" y2="492.6" stroke="#4d4d4d"/><line x1="325.5" y1="363.6" x2="325.5" y2="366.6" stroke="#4d4d4d"/>
<text x="325.5" y="512.1" font-size="10.5" font-weight="bold" fill="#262626" text-anchor="middle">12</text>
<line x1="36.8" y1="495.6" x2="39.8" y2="495.6" stroke="#4d4d4d"/><line x1="338" y1="495.6" x2="335" y2="495.6" stroke="#4d4d4d"/>
<text x="31.8" y="499.6" font-size="11" font-weight="bold" fill="#262626" text-anchor="end">0</text>
<line x1="36.8" y1="462.6" x2="39.8" y2="462.6" stroke="#4d4d4d"/><line x1="338" y1="462.6" x2="335" y2="462.6" stroke="#4d4d4d"/>
<text x="31.8" y="466.6" font-size="11" font-weight="bold" fill="#262626" text-anchor="end">0.05</text>
<line x1="36.8" y1="429.6" x2="39.8" y2="429.6" stroke="#4d4d4d"/><line x1="338" y1="429.6" x2="335" y2="429.6" stroke="#4d4d4d"/>
<text x="31.8" y="433.6" font-size="11" font-weight="bold" fill="#262626" text-anchor="end">0.1</text>
<line x1="36.8" y1="396.6" x2="39.8" y2="396.6" stroke="#4d4d4d"/><line x1="338" y1="396.6" x2="335" y2="396.6" stroke="#4d4d4d"/>
<text x="31.8" y="400.6" font-size="11" font-weight="bold" fill="#262626" text-anchor="end">0.15</text>
<line x1="36.8" y1="363.6" x2="39.8" y2="363.6" stroke="#4d4d4d"/><line x1="338" y1="363.6" x2="335" y2="363.6" stroke="#4d4d4d"/>
<text x="31.8" y="367.6" font-size="11" font-weight="bold" fill="#262626" text-anchor="end">0.2</text>
<text x="195.5" y="356.8" font-size="13" font-weight="bold" fill="#111" text-anchor="middle">K</text>
<circle cx="49.6" cy="488.3" r="3.3" fill="none" stroke="#0072bd" stroke-width="2"/>
<circle cx="74.7" cy="489.1" r="3.3" fill="none" stroke="#0072bd" stroke-width="2"/>
<circle cx="99.7" cy="491.0" r="3.3" fill="none" stroke="#0072bd" stroke-width="2"/>
<circle cx="124.8" cy="492.0" r="3.3" fill="none" stroke="#0072bd" stroke-width="2"/>
<circle cx="149.9" cy="419.3" r="3.3" fill="none" stroke="#0072bd" stroke-width="2"/>
<circle cx="175.0" cy="478.4" r="3.3" fill="none" stroke="#0072bd" stroke-width="2"/>
<circle cx="200.1" cy="489.1" r="3.3" fill="none" stroke="#0072bd" stroke-width="2"/>
<circle cx="225.1" cy="469.9" r="3.3" fill="none" stroke="#0072bd" stroke-width="2"/>
<circle cx="250.2" cy="382.2" r="3.3" fill="none" stroke="#0072bd" stroke-width="2"/>
<circle cx="275.3" cy="491.3" r="3.3" fill="none" stroke="#0072bd" stroke-width="2"/>
<circle cx="300.4" cy="489.5" r="3.3" fill="none" stroke="#0072bd" stroke-width="2"/>
<circle cx="325.5" cy="494.9" r="3.3" fill="none" stroke="#0072bd" stroke-width="2"/>
<line x1="404.6" y1="203.4" x2="404.6" y2="325.4" stroke="#e4e4e4"/>
<line x1="449.1" y1="203.4" x2="449.1" y2="325.4" stroke="#e4e4e4"/>
<line x1="493.7" y1="203.4" x2="493.7" y2="325.4" stroke="#e4e4e4"/>
<line x1="360" y1="233.9" x2="538.3" y2="233.9" stroke="#e4e4e4"/>
<line x1="360" y1="264.4" x2="538.3" y2="264.4" stroke="#e4e4e4"/>
<line x1="360" y1="294.9" x2="538.3" y2="294.9" stroke="#e4e4e4"/>
<polyline points="360.0,247.9 361.1,246.4 362.2,244.9 363.3,243.5 364.5,242.1 365.6,240.8 366.7,239.5 367.8,238.2 368.9,236.9 370.0,235.7 371.1,234.6 372.3,233.4 373.4,232.4 374.5,231.3 375.6,230.3 376.7,229.3 377.8,228.4 378.9,227.5 380.1,226.6 381.2,225.8 382.3,225.0 383.4,224.3 384.5,223.6 385.6,222.9 386.7,222.3 387.9,221.7 389.0,221.2 390.1,220.6 391.2,220.2 392.3,219.7 393.4,219.3 394.5,219.0 395.7,218.6 396.8,218.3 397.9,218.1 399.0,217.9 400.1,217.7 401.2,217.6 402.3,217.5 403.5,217.4 404.6,217.4 405.7,217.4 406.8,217.5 407.9,217.6 409.0,217.7 410.1,217.9 411.3,218.1 412.4,218.3 413.5,218.6 414.6,219.0 415.7,219.3 416.8,219.7 417.9,220.2 419.1,220.6 420.2,221.2 421.3,221.7 422.4,222.3 423.5,222.9 424.6,223.6 425.7,224.3 426.9,225.0 428.0,225.8 429.1,226.6 430.2,227.5 431.3,228.4 432.4,229.3 433.5,230.3 434.7,231.3 435.8,232.4 436.9,233.4 438.0,234.6 439.1,235.7 440.2,236.9 441.3,238.2 442.5,239.5 443.6,240.8 444.7,242.1 445.8,243.5 446.9,244.9 448.0,246.4 449.1,247.9 450.3,249.5 451.4,251.0 452.5,252.7 453.6,254.3 454.7,256.0 455.8,257.8 457.0,259.5 458.1,261.3 459.2,263.2 460.3,265.1 461.4,267.0 462.5,269.0 463.6,271.0 464.8,273.0 465.9,275.1 467.0,277.2 468.1,279.3 469.2,281.5 470.3,283.8 471.4,286.0 472.6,288.3 473.7,290.7 474.8,293.1 475.9,295.5 477.0,298.0 478.1,300.5 479.2,303.0 480.4,305.6 481.5,308.2 482.6,310.8 483.7,313.5 484.8,316.2 485.9,319.0 487.0,321.8 488.2,324.6 489.3,325.4" fill="none" stroke="#808080" stroke-width="1.3" stroke-linejoin="round"/>
<polyline points="360.0,249.7 361.3,247.9 362.7,246.2 364.0,244.5 365.3,242.9 366.7,241.3 368.0,239.8 369.4,238.3 370.7,236.9 372.0,235.5 373.4,234.2 374.7,232.9 376.0,231.7 377.4,230.6 378.7,229.5 380.1,228.5 381.4,227.5 382.7,226.6 384.1,225.7 385.4,224.9 386.7,224.1 388.1,223.4 389.4,222.8 390.8,222.2 392.1,221.6 393.4,221.2 394.8,220.7 396.1,220.3 397.4,220.0 398.8,219.8 400.1,219.5 401.5,219.4 402.8,219.3 404.1,219.2 405.5,219.3 406.8,219.3 408.1,219.4 409.5,219.6 410.8,219.8 412.2,220.1 413.5,220.5 414.8,220.9 416.2,221.3 417.5,221.8 418.8,222.4 420.2,223.0 421.5,223.6 422.9,224.4 424.2,225.1 425.5,226.0 426.9,226.9 428.2,227.8 429.5,228.8 430.9,229.9 432.2,231.0 433.5,232.1 434.9,233.5 436.2,235.0 437.6,236.3 438.9,237.7 440.2,239.1 441.6,240.4 442.9,241.6 444.2,242.6 445.6,243.7 446.9,244.9 448.3,246.0 449.6,246.9 450.9,248.3 452.3,249.6 453.6,250.9 454.9,252.2 456.3,253.8 457.6,255.8 459.0,257.7 460.3,259.7 461.6,261.2 463.0,262.3 464.3,263.1 465.6,263.8 467.0,264.9 468.3,266.4 469.7,267.9 471.0,269.5 472.3,270.6 473.7,271.4 475.0,272.2 476.3,272.8 477.7,274.0 479.0,275.5 480.4,277.8 481.7,279.8 483.0,281.7 484.4,283.2 485.7,285.0 487.0,286.6 488.4,287.7 489.7,287.9 491.1,287.3 492.4,287.3 493.7,288.4 495.1,290.1 496.4,290.9 497.7,291.2 499.1,291.0 500.4,291.5 501.7,292.8 503.1,294.2 504.4,295.5 505.8,295.9 507.1,296.4 508.4,296.9 509.8,297.5 511.1,298.1 512.4,300.2 513.8,303.1 515.1,306.4 516.5,308.9 517.8,309.3 519.1,309.4 520.5,310.1 521.8,315.1 523.1,323.8 524.5,318.0 525.8,317.8 527.2,325.2 528.5,324.6 529.8,323.9 531.2,324.0 532.5,324.5 533.8,324.0 535.2,323.3 536.5,323.2 537.9,323.8" fill="none" stroke="#f0b020" stroke-width="1.3" stroke-linejoin="round"/>
<polyline points="360.0,249.3 361.3,247.5 362.7,245.7 364.0,244.0 365.3,242.4 366.7,240.8 368.0,239.3 369.4,237.8 370.7,236.4 372.0,235.0 373.4,233.7 374.7,232.5 376.0,231.3 377.4,230.1 378.7,229.0 380.1,228.0 381.4,227.0 382.7,226.1 384.1,225.2 385.4,224.4 386.7,223.7 388.1,223.0 389.4,222.3 390.8,221.7 392.1,221.2 393.4,220.7 394.8,220.3 396.1,219.9 397.4,219.6 398.8,219.3 400.1,219.1 401.5,218.9 402.8,218.8 404.1,218.8 405.5,218.8 406.8,218.9 408.1,219.0 409.5,219.2 410.8,219.4 412.2,219.7 413.5,220.0 414.8,220.4 416.2,220.8 417.5,221.4 418.8,221.9 420.2,222.5 421.5,223.2 422.9,223.9 424.2,224.7 425.5,225.5 426.9,226.4 428.2,227.4 429.5,228.4 430.9,229.4 432.2,230.5 433.5,231.7 434.9,233.5 436.2,235.3 437.6,237.0 438.9,238.7 440.2,240.2 441.6,241.3 442.9,242.5 444.2,243.8 445.6,245.0 446.9,246.1 448.3,247.3 449.6,248.4 450.9,250.3 452.3,252.8 453.6,255.3 454.9,257.8 456.3,259.8 457.6,261.2 459.0,262.4 460.3,263.7 461.6,265.3 463.0,266.8 464.3,267.9 465.6,268.7 467.0,270.5 468.3,272.4 469.7,274.2 471.0,275.9 472.3,276.8 473.7,277.3 475.0,277.7 476.3,278.0 477.7,277.4 479.0,277.0 480.4,277.0 481.7,278.0 483.0,279.5 484.4,281.1 485.7,282.0 487.0,283.1 488.4,284.6 489.7,286.3 491.1,288.5 492.4,290.3 493.7,291.9 495.1,290.0 496.4,287.9 497.7,286.5 499.1,285.9 500.4,287.0 501.7,288.6 503.1,290.1 504.4,291.5 505.8,292.7 507.1,292.9 508.4,293.2 509.8,294.1 511.1,295.5 512.4,295.7 513.8,295.1 515.1,294.7 516.5,295.2 517.8,295.8 519.1,294.8 520.5,292.1 521.8,291.5 523.1,296.0 524.5,298.1 525.8,300.9 527.2,303.0 528.5,302.4 529.8,301.0 531.2,300.3 532.5,308.0 533.8,314.3 535.2,319.7 536.5,324.2 537.9,325.4" fill="none" stroke="#e8683a" stroke-width="1.3" stroke-linejoin="round"/>
<polyline points="360.0,248.9 361.3,247.1 362.7,245.3 364.0,243.6 365.3,241.9 366.7,240.3 368.0,238.7 369.4,237.2 370.7,235.8 372.0,234.4 373.4,233.0 374.7,231.7 376.0,230.5 377.4,229.3 378.7,228.2 380.1,227.1 381.4,226.1 382.7,225.1 384.1,224.2 385.4,223.4 386.7,222.6 388.1,221.8 389.4,221.2 390.8,220.5 392.1,220.0 393.4,219.5 394.8,219.0 396.1,218.6 397.4,218.3 398.8,218.0 400.1,217.8 401.5,217.6 402.8,217.5 404.1,217.5 405.5,217.5 406.8,217.6 408.1,217.8 409.5,218.0 410.8,218.2 412.2,218.6 413.5,218.9 414.8,219.4 416.2,219.9 417.5,220.4 418.8,221.0 420.2,221.7 421.5,222.4 422.9,223.1 424.2,224.0 425.5,224.8 426.9,225.8 428.2,226.8 429.5,227.8 430.9,228.9 432.2,230.0 433.5,231.2 434.9,232.7 436.2,234.2 437.6,235.6 438.9,237.1 440.2,238.5 441.6,239.8 442.9,241.0 444.2,242.0 445.6,243.2 446.9,244.5 448.3,245.6 449.6,246.7 450.9,247.8 452.3,249.4 453.6,250.5 454.9,251.3 456.3,252.5 457.6,253.9 459.0,255.5 460.3,256.5 461.6,257.1 463.0,257.4 464.3,257.8 465.6,259.2 467.0,260.8 468.3,261.4 469.7,260.7 471.0,260.4 472.3,260.9 473.7,261.4 475.0,261.7 476.3,262.0 477.7,262.7 479.0,263.2 480.4,263.5 481.7,264.5 483.0,265.7 484.4,266.7 485.7,267.6 487.0,269.7 488.4,272.0 489.7,273.1 491.1,274.0 492.4,275.4 493.7,276.8 495.1,276.8 496.4,276.7 497.7,277.6 499.1,279.0 500.4,279.7 501.7,279.4 503.1,279.0 504.4,279.5 505.8,280.6 507.1,282.2 508.4,283.7 509.8,284.5 511.1,284.2 512.4,283.6 513.8,283.8 515.1,285.4 516.5,286.9 517.8,288.1 519.1,289.1 520.5,289.9 521.8,290.7 523.1,292.5 524.5,293.8 525.8,294.4 527.2,295.3 528.5,297.7 529.8,300.4 531.2,300.7 532.5,300.1 533.8,301.3 535.2,304.6 536.5,306.9 537.9,308.2" fill="none" stroke="#3aa2e4" stroke-width="1.3" stroke-linejoin="round"/>
<polyline points="360.0,247.8 361.3,245.9 362.7,244.1 364.0,242.4 365.3,240.7 366.7,239.1 368.0,237.5 369.4,236.0 370.7,234.6 372.0,233.2 373.4,231.8 374.7,230.6 376.0,229.3 377.4,228.2 378.7,227.1 380.1,226.0 381.4,225.1 382.7,224.1 384.1,223.3 385.4,222.5 386.7,221.7 388.1,221.1 389.4,220.4 390.8,219.9 392.1,219.4 393.4,219.0 394.8,218.6 396.1,218.3 397.4,218.0 398.8,217.8 400.1,217.7 401.5,217.6 402.8,217.6 404.1,217.6 405.5,217.7 406.8,217.9 408.1,218.1 409.5,218.3 410.8,218.6 412.2,219.0 413.5,219.4 414.8,219.8 416.2,220.4 417.5,220.9 418.8,221.5 420.2,222.2 421.5,222.9 422.9,223.6 424.2,224.5 425.5,225.3 426.9,226.2 428.2,227.2 429.5,228.2 430.9,229.2 432.2,230.3 433.5,231.5 434.9,232.8 436.2,234.2 437.6,235.5 438.9,236.7 440.2,237.8 441.6,238.7 442.9,239.8 444.2,240.8 445.6,241.9 446.9,242.9 448.3,244.1 449.6,245.4 450.9,246.2 452.3,246.8 453.6,247.3 454.9,247.9 456.3,248.7 457.6,249.4 459.0,250.6 460.3,251.9 461.6,253.5 463.0,254.5 464.3,254.6 465.6,254.2 467.0,254.2 468.3,255.5 469.7,256.6 471.0,257.6 472.3,258.4 473.7,259.3 475.0,259.9 476.3,259.9 477.7,260.4 479.0,261.7 480.4,262.8 481.7,263.6 483.0,264.4 484.4,265.5 485.7,267.1 487.0,268.4 488.4,269.7 489.7,271.0 491.1,271.7 492.4,271.7 493.7,271.6 495.1,271.9 496.4,272.5 497.7,272.8 499.1,272.7 500.4,273.6 501.7,275.1 503.1,276.1 504.4,276.4 505.8,276.8 507.1,276.1 508.4,275.3 509.8,275.1 511.1,276.5 512.4,279.3 513.8,280.7 515.1,281.3 516.5,281.6 517.8,281.8 519.1,281.8 520.5,281.6 521.8,282.4 523.1,282.8 524.5,282.6 525.8,283.3 527.2,284.9 528.5,286.2 529.8,286.7 531.2,287.6 532.5,288.9 533.8,291.2 535.2,295.7 536.5,297.6 537.9,299.4" fill="none" stroke="#a152c4" stroke-width="1.3" stroke-linejoin="round"/>
<path d="M360 203.4 H538.3 V325.4 H360 Z" fill="none" stroke="#4d4d4d" stroke-width="1.4"/>
<line x1="360.0" y1="325.4" x2="360.0" y2="322.9" stroke="#4d4d4d"/><line x1="360.0" y1="203.4" x2="360.0" y2="205.9" stroke="#4d4d4d"/>
<text x="360.0" y="337.4" font-size="8.5" font-weight="bold" fill="#262626" text-anchor="middle">-2</text>
<line x1="404.6" y1="325.4" x2="404.6" y2="322.9" stroke="#4d4d4d"/><line x1="404.6" y1="203.4" x2="404.6" y2="205.9" stroke="#4d4d4d"/>
<text x="404.6" y="337.4" font-size="8.5" font-weight="bold" fill="#262626" text-anchor="middle">0</text>
<line x1="449.1" y1="325.4" x2="449.1" y2="322.9" stroke="#4d4d4d"/><line x1="449.1" y1="203.4" x2="449.1" y2="205.9" stroke="#4d4d4d"/>
<text x="449.1" y="337.4" font-size="8.5" font-weight="bold" fill="#262626" text-anchor="middle">2</text>
<line x1="493.7" y1="325.4" x2="493.7" y2="322.9" stroke="#4d4d4d"/><line x1="493.7" y1="203.4" x2="493.7" y2="205.9" stroke="#4d4d4d"/>
<text x="493.7" y="337.4" font-size="8.5" font-weight="bold" fill="#262626" text-anchor="middle">4</text>
<line x1="538.3" y1="325.4" x2="538.3" y2="322.9" stroke="#4d4d4d"/><line x1="538.3" y1="203.4" x2="538.3" y2="205.9" stroke="#4d4d4d"/>
<text x="538.3" y="337.4" font-size="8.5" font-weight="bold" fill="#262626" text-anchor="middle">6</text>
<line x1="360" y1="203.4" x2="362.5" y2="203.4" stroke="#4d4d4d"/><line x1="538.3" y1="203.4" x2="535.8" y2="203.4" stroke="#4d4d4d"/>
<text x="356.8" y="207.1" font-size="9" font-weight="bold" fill="#262626" text-anchor="end">0</text>
<line x1="360" y1="233.9" x2="362.5" y2="233.9" stroke="#4d4d4d"/><line x1="538.3" y1="233.9" x2="535.8" y2="233.9" stroke="#4d4d4d"/>
<text x="356.8" y="237.6" font-size="9" font-weight="bold" fill="#262626" text-anchor="end">-2</text>
<line x1="360" y1="264.4" x2="362.5" y2="264.4" stroke="#4d4d4d"/><line x1="538.3" y1="264.4" x2="535.8" y2="264.4" stroke="#4d4d4d"/>
<text x="356.8" y="268.1" font-size="9" font-weight="bold" fill="#262626" text-anchor="end">-4</text>
<line x1="360" y1="294.9" x2="362.5" y2="294.9" stroke="#4d4d4d"/><line x1="538.3" y1="294.9" x2="535.8" y2="294.9" stroke="#4d4d4d"/>
<text x="356.8" y="298.6" font-size="9" font-weight="bold" fill="#262626" text-anchor="end">-6</text>
<line x1="360" y1="325.4" x2="362.5" y2="325.4" stroke="#4d4d4d"/><line x1="538.3" y1="325.4" x2="535.8" y2="325.4" stroke="#4d4d4d"/>
<text x="356.8" y="329.1" font-size="9" font-weight="bold" fill="#262626" text-anchor="end">-8</text>
<text x="418.6" y="192.1" font-size="12.9" fill="#262626" stroke="#262626" stroke-width="0.25" textLength="58.6" lengthAdjust="spacing">K &gt; 0.025</text>
<line x1="404.6" y1="373.6" x2="404.6" y2="494.4" stroke="#e4e4e4"/>
<line x1="449.1" y1="373.6" x2="449.1" y2="494.4" stroke="#e4e4e4"/>
<line x1="493.7" y1="373.6" x2="493.7" y2="494.4" stroke="#e4e4e4"/>
<line x1="360" y1="403.8" x2="538.3" y2="403.8" stroke="#e4e4e4"/>
<line x1="360" y1="434.0" x2="538.3" y2="434.0" stroke="#e4e4e4"/>
<line x1="360" y1="464.2" x2="538.3" y2="464.2" stroke="#e4e4e4"/>
<polyline points="360.0,418.1 361.3,416.4 362.7,414.7 364.0,413.0 365.3,411.4 366.7,409.9 368.0,408.4 369.4,406.9 370.7,405.5 372.0,404.2 373.4,402.9 374.7,401.7 376.0,400.5 377.4,399.4 378.7,398.3 380.1,397.3 381.4,396.3 382.7,395.4 384.1,394.5 385.4,393.7 386.7,393.0 388.1,392.3 389.4,391.6 390.8,391.0 392.1,390.4 393.4,390.0 394.8,389.5 396.1,389.1 397.4,388.8 398.8,388.5 400.1,388.2 401.5,388.1 402.8,387.9 404.1,387.9 405.5,387.8 406.8,387.9 408.1,387.9 409.5,388.1 410.8,388.3 412.2,388.5 413.5,388.8 414.8,389.2 416.2,389.6 417.5,390.1 418.8,390.6 420.2,391.2 421.5,391.9 422.9,392.6 424.2,393.3 425.5,394.1 426.9,395.0 428.2,395.9 429.5,396.9 430.9,397.9 432.2,399.0 433.5,400.2 434.9,401.4 436.2,402.7 437.6,404.0 438.9,404.8 440.2,405.6 441.6,406.8 442.9,408.1 444.2,409.5 445.6,411.1 446.9,412.8 448.3,414.6 449.6,416.5 450.9,418.4 452.3,420.5 453.6,422.7 454.9,424.9 456.3,427.1 457.6,429.2 459.0,431.7 460.3,434.0 461.6,435.8 463.0,438.4 464.3,442.3 465.6,445.7 467.0,448.4 468.3,451.0 469.7,453.2 471.0,453.4 472.3,454.2 473.7,459.8 475.0,466.9 476.3,473.1 477.7,476.8 479.0,481.0 480.4,482.3 481.7,484.5 483.0,489.8 484.4,494.4" fill="none" stroke="#0072bd" stroke-width="1.15" stroke-linejoin="round"/>
<polyline points="360.0,419.1 361.3,417.3 362.7,415.6 364.0,413.9 365.3,412.3 366.7,410.8 368.0,409.3 369.4,407.8 370.7,406.4 372.0,405.1 373.4,403.8 374.7,402.6 376.0,401.4 377.4,400.2 378.7,399.2 380.1,398.1 381.4,397.2 382.7,396.2 384.1,395.4 385.4,394.6 386.7,393.8 388.1,393.1 389.4,392.4 390.8,391.8 392.1,391.3 393.4,390.8 394.8,390.3 396.1,389.9 397.4,389.6 398.8,389.3 400.1,389.0 401.5,388.8 402.8,388.7 404.1,388.6 405.5,388.6 406.8,388.6 408.1,388.7 409.5,388.9 410.8,389.1 412.2,389.3 413.5,389.6 414.8,390.0 416.2,390.4 417.5,390.9 418.8,391.4 420.2,392.0 421.5,392.7 422.9,393.4 424.2,394.1 425.5,395.0 426.9,395.8 428.2,396.8 429.5,397.8 430.9,398.8 432.2,399.9 433.5,401.1 434.9,402.3 436.2,403.6 437.6,404.9 438.9,405.7 440.2,406.5 441.6,407.5 442.9,408.8 444.2,410.1 445.6,411.6 446.9,413.2 448.3,414.9 449.6,416.7 450.9,418.6 452.3,420.5 453.6,422.5 454.9,424.6 456.3,426.7 457.6,428.6 459.0,430.6 460.3,432.8 461.6,435.1 463.0,436.8 464.3,438.6 465.6,441.8 467.0,445.0 468.3,446.8 469.7,447.2 471.0,448.7 472.3,453.7 473.7,456.1 475.0,455.1 476.3,453.8 477.7,456.3 479.0,464.5 480.4,472.4 481.7,479.5 483.0,484.0 484.4,482.1 485.7,478.9 487.0,480.9 488.4,484.3 489.7,490.4 491.1,494.4" fill="none" stroke="#d95319" stroke-width="1.15" stroke-linejoin="round"/>
<polyline points="360.0,417.8 361.3,416.0 362.7,414.3 364.0,412.6 365.3,411.0 366.7,409.4 368.0,407.9 369.4,406.4 370.7,405.0 372.0,403.7 373.4,402.4 374.7,401.2 376.0,400.0 377.4,398.9 378.7,397.8 380.1,396.8 381.4,395.8 382.7,394.9 384.1,394.1 385.4,393.3 386.7,392.6 388.1,391.9 389.4,391.3 390.8,390.7 392.1,390.2 393.4,389.8 394.8,389.4 396.1,389.0 397.4,388.8 398.8,388.5 400.1,388.3 401.5,388.2 402.8,388.2 404.1,388.2 405.5,388.2 406.8,388.3 408.1,388.4 409.5,388.6 410.8,388.8 412.2,389.1 413.5,389.5 414.8,389.9 416.2,390.3 417.5,390.8 418.8,391.4 420.2,392.0 421.5,392.7 422.9,393.4 424.2,394.1 425.5,395.0 426.9,395.8 428.2,396.7 429.5,397.7 430.9,398.7 432.2,399.8 433.5,401.0 434.9,402.1 436.2,403.4 437.6,404.7 438.9,405.4 440.2,406.0 441.6,406.9 442.9,407.9 444.2,409.1 445.6,410.3 446.9,411.7 448.3,413.1 449.6,414.6 450.9,416.2 452.3,417.8 453.6,419.5 454.9,421.3 456.3,423.1 457.6,425.0 459.0,426.9 460.3,428.7 461.6,430.6 463.0,433.1 464.3,436.0 465.6,439.4 467.0,442.4 468.3,443.4 469.7,442.7 471.0,442.2 472.3,445.1 473.7,449.4 475.0,455.6 476.3,460.0 477.7,462.4 479.0,462.1 480.4,463.8 481.7,469.2 483.0,472.1 484.4,470.7 485.7,468.1 487.0,462.1 488.4,460.4 489.7,468.4 491.1,480.6 492.4,492.6 493.7,492.4 495.1,489.6 496.4,492.0 497.7,494.4" fill="none" stroke="#edb120" stroke-width="1.15" stroke-linejoin="round"/>
<polyline points="360.0,418.7 361.3,416.9 362.7,415.2 364.0,413.5 365.3,411.9 366.7,410.3 368.0,408.8 369.4,407.3 370.7,405.9 372.0,404.6 373.4,403.3 374.7,402.1 376.0,400.9 377.4,399.8 378.7,398.7 380.1,397.7 381.4,396.7 382.7,395.8 384.1,395.0 385.4,394.2 386.7,393.5 388.1,392.8 389.4,392.2 390.8,391.6 392.1,391.1 393.4,390.7 394.8,390.3 396.1,390.0 397.4,389.7 398.8,389.4 400.1,389.3 401.5,389.1 402.8,389.1 404.1,389.1 405.5,389.1 406.8,389.2 408.1,389.3 409.5,389.5 410.8,389.7 412.2,390.0 413.5,390.4 414.8,390.8 416.2,391.2 417.5,391.7 418.8,392.3 420.2,392.9 421.5,393.5 422.9,394.3 424.2,395.0 425.5,395.8 426.9,396.7 428.2,397.6 429.5,398.6 430.9,399.6 432.2,400.7 433.5,401.8 434.9,403.0 436.2,404.3 437.6,405.5 438.9,406.3 440.2,407.0 441.6,407.9 442.9,408.9 444.2,410.1 445.6,411.4 446.9,412.8 448.3,414.3 449.6,415.9 450.9,417.6 452.3,419.3 453.6,421.1 454.9,422.9 456.3,424.9 457.6,426.8 459.0,428.7 460.3,430.5 461.6,431.8 463.0,433.3 464.3,436.7 465.6,440.7 467.0,442.8 468.3,443.7 469.7,446.9 471.0,452.2 472.3,455.0 473.7,455.1 475.0,455.5 476.3,456.4 477.7,456.9 479.0,456.6 480.4,459.4 481.7,462.1 483.0,464.1 484.4,469.6 485.7,479.6 487.0,485.5 488.4,484.2 489.7,483.4 491.1,487.5 492.4,484.7 493.7,479.7 495.1,481.6 496.4,490.7 497.7,494.4" fill="none" stroke="#7e2f8e" stroke-width="1.15" stroke-linejoin="round"/>
<polyline points="360.0,418.5 361.3,416.7 362.7,414.9 364.0,413.2 365.3,411.6 366.7,410.0 368.0,408.5 369.4,407.0 370.7,405.6 372.0,404.2 373.4,402.9 374.7,401.7 376.0,400.4 377.4,399.3 378.7,398.2 380.1,397.1 381.4,396.1 382.7,395.2 384.1,394.3 385.4,393.5 386.7,392.7 388.1,392.0 389.4,391.3 390.8,390.7 392.1,390.1 393.4,389.6 394.8,389.2 396.1,388.8 397.4,388.4 398.8,388.1 400.1,387.9 401.5,387.7 402.8,387.6 404.1,387.6 405.5,387.6 406.8,387.6 408.1,387.8 409.5,387.9 410.8,388.2 412.2,388.5 413.5,388.8 414.8,389.2 416.2,389.7 417.5,390.2 418.8,390.8 420.2,391.4 421.5,392.1 422.9,392.8 424.2,393.6 425.5,394.5 426.9,395.4 428.2,396.3 429.5,397.4 430.9,398.4 432.2,399.5 433.5,400.7 434.9,402.0 436.2,403.2 437.6,404.6 438.9,405.3 440.2,406.0 441.6,406.8 442.9,407.8 444.2,408.9 445.6,410.1 446.9,411.3 448.3,412.7 449.6,414.1 450.9,415.6 452.3,417.1 453.6,418.7 454.9,420.4 456.3,422.1 457.6,423.8 459.0,425.6 460.3,427.5 461.6,429.2 463.0,431.1 464.3,433.2 465.6,435.3 467.0,437.8 468.3,440.5 469.7,442.3 471.0,442.6 472.3,443.3 473.7,444.8 475.0,447.2 476.3,450.7 477.7,452.4 479.0,453.8 480.4,454.9 481.7,457.8 483.0,461.7 484.4,463.5 485.7,466.2 487.0,467.4 488.4,470.4 489.7,475.9 491.1,478.1 492.4,476.0 493.7,476.8 495.1,483.3 496.4,492.8 497.7,494.4" fill="none" stroke="#77ac30" stroke-width="1.15" stroke-linejoin="round"/>
<polyline points="360.0,419.3 361.3,417.5 362.7,415.8 364.0,414.2 365.3,412.6 366.7,411.0 368.0,409.5 369.4,408.1 370.7,406.7 372.0,405.3 373.4,404.0 374.7,402.8 376.0,401.6 377.4,400.5 378.7,399.4 380.1,398.4 381.4,397.4 382.7,396.5 384.1,395.6 385.4,394.8 386.7,394.1 388.1,393.4 389.4,392.7 390.8,392.1 392.1,391.5 393.4,391.0 394.8,390.6 396.1,390.2 397.4,389.8 398.8,389.5 400.1,389.3 401.5,389.1 402.8,389.0 404.1,388.9 405.5,388.9 406.8,388.9 408.1,389.0 409.5,389.1 410.8,389.3 412.2,389.6 413.5,389.9 414.8,390.3 416.2,390.7 417.5,391.2 418.8,391.7 420.2,392.3 421.5,392.9 422.9,393.7 424.2,394.4 425.5,395.2 426.9,396.1 428.2,397.0 429.5,398.0 430.9,399.1 432.2,400.2 433.5,401.3 434.9,402.5 436.2,403.8 437.6,405.1 438.9,405.8 440.2,406.4 441.6,407.2 442.9,408.0 444.2,409.0 445.6,410.1 446.9,411.2 448.3,412.4 449.6,413.7 450.9,415.0 452.3,416.4 453.6,417.9 454.9,419.4 456.3,420.9 457.6,422.5 459.0,424.1 460.3,425.8 461.6,427.6 463.0,429.4 464.3,431.1 465.6,432.5 467.0,433.6 468.3,435.4 469.7,438.2 471.0,441.4 472.3,444.0 473.7,446.3 475.0,449.1 476.3,451.1 477.7,451.9 479.0,453.9 480.4,454.9 481.7,456.6 483.0,458.0 484.4,461.5 485.7,467.9 487.0,473.3 488.4,477.3 489.7,475.6 491.1,476.5 492.4,476.5 493.7,478.8 495.1,479.0 496.4,477.9 497.7,482.1 499.1,484.4 500.4,490.0 501.7,493.0 503.1,494.4" fill="none" stroke="#4dbeee" stroke-width="1.15" stroke-linejoin="round"/>
<polyline points="360.0,418.6 361.3,416.8 362.7,415.1 364.0,413.4 365.3,411.8 366.7,410.3 368.0,408.8 369.4,407.3 370.7,405.9 372.0,404.6 373.4,403.3 374.7,402.0 376.0,400.9 377.4,399.7 378.7,398.6 380.1,397.6 381.4,396.6 382.7,395.7 384.1,394.8 385.4,394.0 386.7,393.2 388.1,392.5 389.4,391.8 390.8,391.2 392.1,390.7 393.4,390.2 394.8,389.7 396.1,389.3 397.4,389.0 398.8,388.7 400.1,388.4 401.5,388.2 402.8,388.1 404.1,388.0 405.5,388.0 406.8,388.0 408.1,388.1 409.5,388.3 410.8,388.5 412.2,388.7 413.5,389.0 414.8,389.4 416.2,389.8 417.5,390.3 418.8,390.9 420.2,391.5 421.5,392.1 422.9,392.8 424.2,393.6 425.5,394.4 426.9,395.3 428.2,396.3 429.5,397.3 430.9,398.3 432.2,399.4 433.5,400.6 434.9,401.8 436.2,403.1 437.6,404.4 438.9,405.2 440.2,406.1 441.6,407.2 442.9,408.4 444.2,409.9 445.6,411.4 446.9,413.1 448.3,414.9 449.6,416.7 450.9,418.7 452.3,420.7 453.6,422.8 454.9,425.0 456.3,427.2 457.6,429.6 459.0,432.6 460.3,435.9 461.6,438.8 463.0,441.0 464.3,443.5 465.6,446.4 467.0,448.5 468.3,452.3 469.7,457.4 471.0,460.9 472.3,460.9 473.7,460.3 475.0,463.3 476.3,469.9 477.7,475.6 479.0,478.9 480.4,479.9 481.7,478.9 483.0,480.5 484.4,485.6 485.7,494.4" fill="none" stroke="#a2142f" stroke-width="1.15" stroke-linejoin="round"/>
<polyline points="360.0,419.0 361.3,417.2 362.7,415.4 364.0,413.8 365.3,412.1 366.7,410.6 368.0,409.0 369.4,407.6 370.7,406.2 372.0,404.8 373.4,403.5 374.7,402.3 376.0,401.1 377.4,400.0 378.7,398.9 380.1,397.9 381.4,397.0 382.7,396.1 384.1,395.2 385.4,394.4 386.7,393.7 388.1,393.0 389.4,392.4 390.8,391.9 392.1,391.4 393.4,390.9 394.8,390.5 396.1,390.2 397.4,389.9 398.8,389.7 400.1,389.5 401.5,389.4 402.8,389.3 404.1,389.3 405.5,389.3 406.8,389.4 408.1,389.6 409.5,389.7 410.8,390.0 412.2,390.3 413.5,390.6 414.8,391.0 416.2,391.5 417.5,392.0 418.8,392.5 420.2,393.1 421.5,393.8 422.9,394.5 424.2,395.3 425.5,396.1 426.9,397.0 428.2,397.9 429.5,398.9 430.9,399.9 432.2,401.0 433.5,402.1 434.9,403.3 436.2,404.5 437.6,405.8 438.9,406.5 440.2,407.3 441.6,408.2 442.9,409.4 444.2,410.6 445.6,412.0 446.9,413.5 448.3,415.1 449.6,416.8 450.9,418.5 452.3,420.3 453.6,422.2 454.9,424.2 456.3,426.2 457.6,428.0 459.0,429.9 460.3,432.6 461.6,435.8 463.0,439.1 464.3,441.5 465.6,442.1 467.0,442.7 468.3,445.3 469.7,449.5 471.0,452.7 472.3,453.8 473.7,455.0 475.0,456.7 476.3,458.3 477.7,463.0 479.0,467.8 480.4,475.3 481.7,481.8 483.0,485.1 484.4,485.1 485.7,483.2 487.0,485.7 488.4,492.8 489.7,494.4" fill="none" stroke="#0072bd" stroke-width="1.15" stroke-linejoin="round"/>
<polyline points="360.0,418.7 361.3,416.9 362.7,415.2 364.0,413.5 365.3,411.9 366.7,410.4 368.0,408.9 369.4,407.4 370.7,406.0 372.0,404.7 373.4,403.4 374.7,402.2 376.0,401.0 377.4,399.9 378.7,398.8 380.1,397.8 381.4,396.8 382.7,395.9 384.1,395.0 385.4,394.2 386.7,393.4 388.1,392.7 389.4,392.1 390.8,391.5 392.1,390.9 393.4,390.4 394.8,390.0 396.1,389.6 397.4,389.2 398.8,388.9 400.1,388.7 401.5,388.5 402.8,388.4 404.1,388.3 405.5,388.3 406.8,388.3 408.1,388.4 409.5,388.5 410.8,388.7 412.2,389.0 413.5,389.3 414.8,389.7 416.2,390.1 417.5,390.6 418.8,391.1 420.2,391.7 421.5,392.3 422.9,393.0 424.2,393.8 425.5,394.6 426.9,395.5 428.2,396.4 429.5,397.4 430.9,398.4 432.2,399.5 433.5,400.7 434.9,401.9 436.2,403.2 437.6,404.5 438.9,405.2 440.2,405.9 441.6,406.8 442.9,407.8 444.2,409.0 445.6,410.2 446.9,411.5 448.3,413.0 449.6,414.5 450.9,416.0 452.3,417.6 453.6,419.3 454.9,421.1 456.3,422.9 457.6,424.8 459.0,426.7 460.3,428.7 461.6,430.8 463.0,432.6 464.3,434.2 465.6,435.6 467.0,438.2 468.3,440.0 469.7,440.1 471.0,440.3 472.3,443.2 473.7,449.4 475.0,454.4 476.3,456.1 477.7,455.3 479.0,455.5 480.4,460.6 481.7,469.8 483.0,476.4 484.4,478.0 485.7,477.7 487.0,477.1 488.4,482.0 489.7,489.9 491.1,494.3 492.4,494.4" fill="none" stroke="#d95319" stroke-width="1.15" stroke-linejoin="round"/>
<polyline points="360.0,419.4 361.3,417.6 362.7,415.8 364.0,414.1 365.3,412.5 366.7,410.9 368.0,409.4 369.4,407.9 370.7,406.5 372.0,405.1 373.4,403.8 374.7,402.5 376.0,401.3 377.4,400.1 378.7,399.0 380.1,398.0 381.4,397.0 382.7,396.1 384.1,395.2 385.4,394.4 386.7,393.6 388.1,392.9 389.4,392.2 390.8,391.6 392.1,391.1 393.4,390.6 394.8,390.2 396.1,389.8 397.4,389.5 398.8,389.3 400.1,389.1 401.5,388.9 402.8,388.8 404.1,388.8 405.5,388.8 406.8,388.9 408.1,389.1 409.5,389.3 410.8,389.5 412.2,389.8 413.5,390.2 414.8,390.6 416.2,391.1 417.5,391.6 418.8,392.2 420.2,392.9 421.5,393.5 422.9,394.3 424.2,395.1 425.5,395.9 426.9,396.8 428.2,397.8 429.5,398.8 430.9,399.9 432.2,401.0 433.5,402.1 434.9,403.4 436.2,404.6 437.6,406.0 438.9,406.6 440.2,407.3 441.6,408.0 442.9,409.0 444.2,410.0 445.6,411.1 446.9,412.3 448.3,413.5 449.6,414.9 450.9,416.3 452.3,417.7 453.6,419.2 454.9,420.7 456.3,422.3 457.6,424.0 459.0,425.7 460.3,427.4 461.6,429.1 463.0,430.8 464.3,432.7 465.6,435.1 467.0,438.2 468.3,441.0 469.7,443.0 471.0,444.5 472.3,447.1 473.7,449.3 475.0,450.0 476.3,451.7 477.7,457.2 479.0,461.9 480.4,462.4 481.7,464.1 483.0,470.5 484.4,476.1 485.7,472.4 487.0,464.1 488.4,459.9 489.7,463.9 491.1,473.8 492.4,481.6 493.7,481.2 495.1,479.0 496.4,482.4 497.7,491.0 499.1,494.4" fill="none" stroke="#edb120" stroke-width="1.15" stroke-linejoin="round"/>
<polyline points="360.0,418.8 361.3,417.1 362.7,415.4 364.0,413.7 365.3,412.1 366.7,410.5 368.0,409.0 369.4,407.6 370.7,406.2 372.0,404.8 373.4,403.5 374.7,402.3 376.0,401.1 377.4,400.0 378.7,398.9 380.1,397.9 381.4,396.9 382.7,396.0 384.1,395.1 385.4,394.3 386.7,393.5 388.1,392.8 389.4,392.1 390.8,391.5 392.1,390.9 393.4,390.4 394.8,390.0 396.1,389.6 397.4,389.2 398.8,388.9 400.1,388.7 401.5,388.5 402.8,388.4 404.1,388.3 405.5,388.3 406.8,388.3 408.1,388.4 409.5,388.5 410.8,388.7 412.2,389.0 413.5,389.3 414.8,389.7 416.2,390.1 417.5,390.6 418.8,391.1 420.2,391.7 421.5,392.4 422.9,393.1 424.2,393.9 425.5,394.7 426.9,395.6 428.2,396.5 429.5,397.5 430.9,398.6 432.2,399.7 433.5,400.8 434.9,402.1 436.2,403.3 437.6,404.7 438.9,405.4 440.2,406.1 441.6,407.1 442.9,408.1 444.2,409.3 445.6,410.7 446.9,412.1 448.3,413.6 449.6,415.2 450.9,416.8 452.3,418.5 453.6,420.3 454.9,422.2 456.3,424.1 457.6,426.0 459.0,428.0 460.3,430.0 461.6,432.2 463.0,434.5 464.3,436.7 465.6,438.9 467.0,441.5 468.3,444.4 469.7,446.7 471.0,448.2 472.3,448.9 473.7,450.1 475.0,452.3 476.3,457.0 477.7,463.6 479.0,467.5 480.4,467.6 481.7,465.4 483.0,464.9 484.4,469.5 485.7,474.7 487.0,478.5 488.4,479.3 489.7,481.4 491.1,484.0 492.4,483.8 493.7,487.1 495.1,494.2 496.4,494.4" fill="none" stroke="#7e2f8e" stroke-width="1.15" stroke-linejoin="round"/>
<polyline points="360.0,419.2 361.3,417.4 362.7,415.7 364.0,414.0 365.3,412.4 366.7,410.8 368.0,409.3 369.4,407.8 370.7,406.4 372.0,405.1 373.4,403.8 374.7,402.5 376.0,401.4 377.4,400.2 378.7,399.2 380.1,398.2 381.4,397.2 382.7,396.3 384.1,395.5 385.4,394.7 386.7,394.0 388.1,393.3 389.4,392.7 390.8,392.1 392.1,391.6 393.4,391.1 394.8,390.8 396.1,390.4 397.4,390.1 398.8,389.9 400.1,389.7 401.5,389.6 402.8,389.5 404.1,389.5 405.5,389.6 406.8,389.6 408.1,389.8 409.5,390.0 410.8,390.2 412.2,390.5 413.5,390.9 414.8,391.3 416.2,391.7 417.5,392.2 418.8,392.8 420.2,393.4 421.5,394.0 422.9,394.8 424.2,395.5 425.5,396.3 426.9,397.2 428.2,398.1 429.5,399.1 430.9,400.1 432.2,401.2 433.5,402.3 434.9,403.5 436.2,404.8 437.6,406.1 438.9,406.7 440.2,407.3 441.6,408.1 442.9,408.9 444.2,409.9 445.6,411.0 446.9,412.1 448.3,413.4 449.6,414.7 450.9,416.0 452.3,417.4 453.6,418.9 454.9,420.4 456.3,422.0 457.6,423.7 459.0,425.3 460.3,427.0 461.6,428.7 463.0,430.2 464.3,431.6 465.6,433.1 467.0,435.5 468.3,438.8 469.7,442.2 471.0,443.8 472.3,444.8 473.7,448.4 475.0,452.0 476.3,452.4 477.7,449.8 479.0,450.2 480.4,455.4 481.7,460.5 483.0,463.7 484.4,464.8 485.7,465.1 487.0,465.2 488.4,464.7 489.7,464.8 491.1,471.4 492.4,481.1 493.7,486.0 495.1,487.1 496.4,485.7 497.7,487.4 499.1,489.8 500.4,491.7 501.7,492.3 503.1,488.4 504.4,492.2 505.8,494.4" fill="none" stroke="#4dbeee" stroke-width="1.15" stroke-linejoin="round"/>
<polyline points="360.0,418.5 361.3,416.7 362.7,415.0 364.0,413.3 365.3,411.7 366.7,410.1 368.0,408.6 369.4,407.1 370.7,405.7 372.0,404.4 373.4,403.1 374.7,401.9 376.0,400.7 377.4,399.6 378.7,398.6 380.1,397.6 381.4,396.6 382.7,395.7 384.1,394.9 385.4,394.1 386.7,393.4 388.1,392.7 389.4,392.1 390.8,391.6 392.1,391.1 393.4,390.6 394.8,390.2 396.1,389.9 397.4,389.6 398.8,389.3 400.1,389.2 401.5,389.0 402.8,389.0 404.1,388.9 405.5,389.0 406.8,389.0 408.1,389.2 409.5,389.3 410.8,389.6 412.2,389.9 413.5,390.2 414.8,390.6 416.2,391.0 417.5,391.5 418.8,392.0 420.2,392.6 421.5,393.3 422.9,394.0 424.2,394.7 425.5,395.5 426.9,396.4 428.2,397.3 429.5,398.3 430.9,399.3 432.2,400.3 433.5,401.5 434.9,402.7 436.2,403.9 437.6,405.2 438.9,405.9 440.2,406.6 441.6,407.6 442.9,408.7 444.2,409.9 445.6,411.3 446.9,412.7 448.3,414.3 449.6,415.9 450.9,417.6 452.3,419.4 453.6,421.2 454.9,423.1 456.3,425.1 457.6,427.2 459.0,429.5 460.3,432.1 461.6,434.5 463.0,436.6 464.3,439.0 465.6,442.0 467.0,444.7 468.3,445.8 469.7,446.6 471.0,448.2 472.3,452.8 473.7,458.5 475.0,463.5 476.3,464.3 477.7,461.6 479.0,464.5 480.4,472.0 481.7,478.7 483.0,481.3 484.4,482.5 485.7,488.1 487.0,494.4" fill="none" stroke="#1f3f7a" stroke-width="1.15" stroke-linejoin="round"/>
<path d="M360 373.6 H538.3 V494.4 H360 Z" fill="none" stroke="#4d4d4d" stroke-width="1.4"/>
<line x1="360.0" y1="494.4" x2="360.0" y2="491.9" stroke="#4d4d4d"/><line x1="360.0" y1="373.6" x2="360.0" y2="376.1" stroke="#4d4d4d"/>
<text x="360.0" y="507.2" font-size="8.5" font-weight="bold" fill="#262626" text-anchor="middle">-2</text>
<line x1="404.6" y1="494.4" x2="404.6" y2="491.9" stroke="#4d4d4d"/><line x1="404.6" y1="373.6" x2="404.6" y2="376.1" stroke="#4d4d4d"/>
<text x="404.6" y="507.2" font-size="8.5" font-weight="bold" fill="#262626" text-anchor="middle">0</text>
<line x1="449.1" y1="494.4" x2="449.1" y2="491.9" stroke="#4d4d4d"/><line x1="449.1" y1="373.6" x2="449.1" y2="376.1" stroke="#4d4d4d"/>
<text x="449.1" y="507.2" font-size="8.5" font-weight="bold" fill="#262626" text-anchor="middle">2</text>
<line x1="493.7" y1="494.4" x2="493.7" y2="491.9" stroke="#4d4d4d"/><line x1="493.7" y1="373.6" x2="493.7" y2="376.1" stroke="#4d4d4d"/>
<text x="493.7" y="507.2" font-size="8.5" font-weight="bold" fill="#262626" text-anchor="middle">4</text>
<line x1="538.3" y1="494.4" x2="538.3" y2="491.9" stroke="#4d4d4d"/><line x1="538.3" y1="373.6" x2="538.3" y2="376.1" stroke="#4d4d4d"/>
<text x="538.3" y="507.2" font-size="8.5" font-weight="bold" fill="#262626" text-anchor="middle">6</text>
<line x1="360" y1="373.6" x2="362.5" y2="373.6" stroke="#4d4d4d"/><line x1="538.3" y1="373.6" x2="535.8" y2="373.6" stroke="#4d4d4d"/>
<text x="356.8" y="377.3" font-size="9" font-weight="bold" fill="#262626" text-anchor="end">0</text>
<line x1="360" y1="403.8" x2="362.5" y2="403.8" stroke="#4d4d4d"/><line x1="538.3" y1="403.8" x2="535.8" y2="403.8" stroke="#4d4d4d"/>
<text x="356.8" y="407.5" font-size="9" font-weight="bold" fill="#262626" text-anchor="end">-2</text>
<line x1="360" y1="434.0" x2="362.5" y2="434.0" stroke="#4d4d4d"/><line x1="538.3" y1="434.0" x2="535.8" y2="434.0" stroke="#4d4d4d"/>
<text x="356.8" y="437.7" font-size="9" font-weight="bold" fill="#262626" text-anchor="end">-4</text>
<line x1="360" y1="464.2" x2="362.5" y2="464.2" stroke="#4d4d4d"/><line x1="538.3" y1="464.2" x2="535.8" y2="464.2" stroke="#4d4d4d"/>
<text x="356.8" y="467.9" font-size="9" font-weight="bold" fill="#262626" text-anchor="end">-6</text>
<line x1="360" y1="494.4" x2="362.5" y2="494.4" stroke="#4d4d4d"/><line x1="538.3" y1="494.4" x2="535.8" y2="494.4" stroke="#4d4d4d"/>
<text x="356.8" y="498.1" font-size="9" font-weight="bold" fill="#262626" text-anchor="end">-8</text>
<text x="420.0" y="363.20000000000005" font-size="12.9" fill="#262626" stroke="#262626" stroke-width="0.25" textLength="59.2" lengthAdjust="spacing">K &lt; 0.025</text>
<text x="398" y="518.6" font-size="8.6" font-weight="bold" fill="#333">Power Spectrum Density</text>
</svg></body></html>
